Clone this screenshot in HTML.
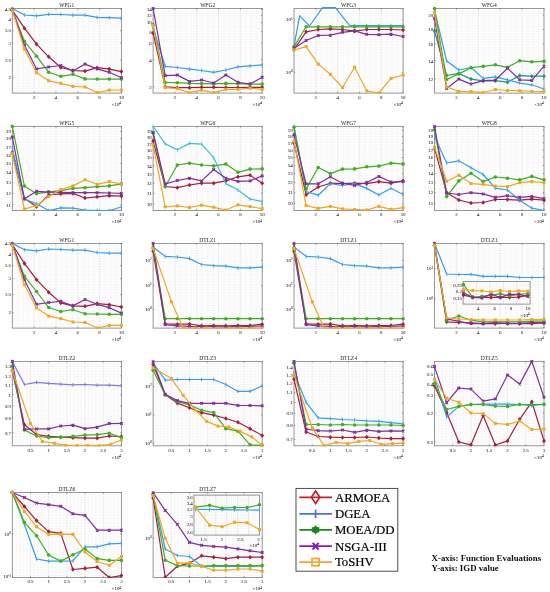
<!DOCTYPE html>
<html><head><meta charset="utf-8"><title>IGD convergence curves</title>
<style>
html,body{margin:0;padding:0;background:#fff;}
body{width:550px;height:592px;overflow:hidden;}
svg{display:block;}
.t{font-family:"Liberation Serif","Times New Roman",serif;font-size:4.9px;fill:#2a2a2a;stroke:#2a2a2a;stroke-width:0.04px;}
.sup{font-size:3.5px;}
.ti{font-family:"Liberation Serif","Times New Roman",serif;font-size:5.5px;fill:#222;}
.lg{font-family:"Liberation Serif","Times New Roman",serif;font-size:12.8px;fill:#000;stroke:#000;stroke-width:0.2px;}
.ax{font-family:"Liberation Serif","Times New Roman",serif;font-size:8.8px;font-weight:bold;fill:#111;}
</style></head>
<body><svg width="550" height="592" viewBox="0 0 550 592">
<defs><clipPath id="c1"><rect x="9.8" y="6" width="114.1" height="87.7"/></clipPath><clipPath id="c2"><rect x="150.6" y="6" width="114.1" height="87.7"/></clipPath><clipPath id="c3"><rect x="291.5" y="6" width="114.1" height="87.7"/></clipPath><clipPath id="c4"><rect x="432" y="6" width="114.5" height="87.7"/></clipPath><clipPath id="c5"><rect x="9.8" y="123.9" width="114.1" height="87.2"/></clipPath><clipPath id="c6"><rect x="150.6" y="123.9" width="114.1" height="87.2"/></clipPath><clipPath id="c7"><rect x="291.5" y="123.9" width="114.1" height="87.2"/></clipPath><clipPath id="c8"><rect x="432" y="123.9" width="114.5" height="87.2"/></clipPath><clipPath id="c9"><rect x="9.8" y="240.9" width="114.1" height="87.8"/></clipPath><clipPath id="c10"><rect x="150.6" y="240.9" width="114.1" height="87.8"/></clipPath><clipPath id="c11"><rect x="291.5" y="240.9" width="114.1" height="87.8"/></clipPath><clipPath id="c12"><rect x="432" y="240.9" width="114.5" height="87.8"/></clipPath><clipPath id="c13"><rect x="9.8" y="358.9" width="114.1" height="87.5"/></clipPath><clipPath id="c14"><rect x="150.6" y="358.9" width="114.1" height="87.5"/></clipPath><clipPath id="c15"><rect x="291.5" y="358.9" width="114.1" height="87.5"/></clipPath><clipPath id="c16"><rect x="432" y="358.9" width="114.5" height="87.5"/></clipPath><clipPath id="c17"><rect x="9.8" y="490" width="114.1" height="88.1"/></clipPath><clipPath id="c18"><rect x="150.6" y="490" width="114.1" height="88.1"/></clipPath><clipPath id="ci1"><rect x="461.1" y="279.6" width="71" height="26.5"/></clipPath><clipPath id="ci7"><rect x="192" y="493.1" width="69.5" height="44"/></clipPath></defs>
<rect width="550" height="592" fill="#fff"/>
<path d="M12.3 10.8H121.4M12.3 13.4H121.4M12.3 16H121.4M12.3 18.6H121.4M12.3 21.2H121.4M12.3 23.8H121.4M12.3 26.4H121.4M12.3 29H121.4M12.3 31.6H121.4M12.3 34.2H121.4M12.3 36.8H121.4M12.3 39.4H121.4M12.3 42H121.4M12.3 44.6H121.4M12.3 47.2H121.4M12.3 49.8H121.4M12.3 52.4H121.4M12.3 55H121.4M12.3 57.6H121.4M12.3 60.2H121.4M12.3 62.8H121.4M12.3 65.4H121.4M12.3 68H121.4M12.3 70.6H121.4M12.3 73.2H121.4M12.3 75.8H121.4M12.3 78.4H121.4M12.3 81H121.4M12.3 83.6H121.4M12.3 86.2H121.4M12.3 88.8H121.4M12.3 91.4H121.4" stroke="#f4f4f4" stroke-width="0.6"/><path d="M17.76 8.5V93.1M23.21 8.5V93.1M28.67 8.5V93.1M34.12 8.5V93.1M39.58 8.5V93.1M45.03 8.5V93.1M50.48 8.5V93.1M55.94 8.5V93.1M61.4 8.5V93.1M66.85 8.5V93.1M72.31 8.5V93.1M77.76 8.5V93.1M83.22 8.5V93.1M88.67 8.5V93.1M94.13 8.5V93.1M99.58 8.5V93.1M105.03 8.5V93.1M110.49 8.5V93.1M115.95 8.5V93.1" stroke="#f3f3f3" stroke-width="0.6"/><path d="M34.12 8.5V93.1M55.94 8.5V93.1M77.76 8.5V93.1M99.58 8.5V93.1" stroke="#dedede" stroke-width="0.6" stroke-dasharray="1 0.6"/><rect x="12.3" y="8.5" width="109.1" height="84.6" fill="none" stroke="#858585" stroke-width="0.85"/><path d="M34.12 93.1v-1.2M34.12 8.5v1.2M55.94 93.1v-1.2M55.94 8.5v1.2M77.76 93.1v-1.2M77.76 8.5v1.2M99.58 93.1v-1.2M99.58 8.5v1.2M121.4 93.1v-1.2M121.4 8.5v1.2M12.3 8.9h1.2M121.4 8.9h-1.2M12.3 19h1.2M121.4 19h-1.2M12.3 30.7h1.2M121.4 30.7h-1.2M12.3 43.2h1.2M121.4 43.2h-1.2M12.3 59.8h1.2M121.4 59.8h-1.2M12.3 77.3h1.2M121.4 77.3h-1.2" stroke="#555" stroke-width="0.6"/><g clip-path="url(#c1)"><polyline points="12.3,10.2 24.42,28.2 36.54,44.1 48.67,56.8 60.79,67.5 72.91,70.5 85.03,71.1 97.16,67.7 109.28,69.1 121.4,71.6" fill="none" stroke="#a61c3c" stroke-width="1.2" stroke-linejoin="round"/><path d="M12.3 7.9L14.2 10.2L12.3 12.5L10.4 10.2Z" fill="#a61c3c"/><path d="M24.42 25.9L26.32 28.2L24.42 30.5L22.52 28.2Z" fill="#a61c3c"/><path d="M36.54 41.8L38.44 44.1L36.54 46.4L34.64 44.1Z" fill="#a61c3c"/><path d="M48.67 54.5L50.57 56.8L48.67 59.1L46.77 56.8Z" fill="#a61c3c"/><path d="M60.79 65.2L62.69 67.5L60.79 69.8L58.89 67.5Z" fill="#a61c3c"/><path d="M72.91 68.2L74.81 70.5L72.91 72.8L71.01 70.5Z" fill="#a61c3c"/><path d="M85.03 68.8L86.93 71.1L85.03 73.4L83.13 71.1Z" fill="#a61c3c"/><path d="M97.16 65.4L99.06 67.7L97.16 70L95.26 67.7Z" fill="#a61c3c"/><path d="M109.28 66.8L111.18 69.1L109.28 71.4L107.38 69.1Z" fill="#a61c3c"/><path d="M121.4 69.3L123.3 71.6L121.4 73.9L119.5 71.6Z" fill="#a61c3c"/></g><g clip-path="url(#c1)"><polyline points="12.3,8.5 24.42,15 36.54,15.9 48.67,14.3 60.79,14.5 72.91,15.2 85.03,15.2 97.16,17.3 109.28,17.7 121.4,18.1" fill="none" stroke="#2f9ef0" stroke-width="1.2" stroke-linejoin="round"/><path d="M12.3 6.7V10.3" stroke="#2f9ef0" stroke-width="0.9"/><path d="M24.42 13.2V16.8" stroke="#2f9ef0" stroke-width="0.9"/><path d="M36.54 14.1V17.7" stroke="#2f9ef0" stroke-width="0.9"/><path d="M48.67 12.5V16.1" stroke="#2f9ef0" stroke-width="0.9"/><path d="M60.79 12.7V16.3" stroke="#2f9ef0" stroke-width="0.9"/><path d="M72.91 13.4V17" stroke="#2f9ef0" stroke-width="0.9"/><path d="M85.03 13.4V17" stroke="#2f9ef0" stroke-width="0.9"/><path d="M97.16 15.5V19.1" stroke="#2f9ef0" stroke-width="0.9"/><path d="M109.28 15.9V19.5" stroke="#2f9ef0" stroke-width="0.9"/><path d="M121.4 16.3V19.9" stroke="#2f9ef0" stroke-width="0.9"/></g><g clip-path="url(#c1)"><polyline points="12.3,10.2 24.42,41.3 36.54,56.2 48.67,72.2 60.79,76.3 72.91,74.3 85.03,78.9 97.16,79.1 109.28,79.1 121.4,79.1" fill="none" stroke="#3cb01e" stroke-width="1.2" stroke-linejoin="round"/><circle cx="12.3" cy="10.2" r="1.8" fill="#3cb01e"/><circle cx="24.42" cy="41.3" r="1.8" fill="#3cb01e"/><circle cx="36.54" cy="56.2" r="1.8" fill="#3cb01e"/><circle cx="48.67" cy="72.2" r="1.8" fill="#3cb01e"/><circle cx="60.79" cy="76.3" r="1.8" fill="#3cb01e"/><circle cx="72.91" cy="74.3" r="1.8" fill="#3cb01e"/><circle cx="85.03" cy="78.9" r="1.8" fill="#3cb01e"/><circle cx="97.16" cy="79.1" r="1.8" fill="#3cb01e"/><circle cx="109.28" cy="79.1" r="1.8" fill="#3cb01e"/><circle cx="121.4" cy="79.1" r="1.8" fill="#3cb01e"/></g><g clip-path="url(#c1)"><polyline points="12.3,9.1 24.42,45 36.54,68.9 48.67,67 60.79,65.5 72.91,70.9 85.03,64.1 97.16,68.9 109.28,72.3 121.4,77.7" fill="none" stroke="#7f2d9f" stroke-width="1.2" stroke-linejoin="round"/><path d="M11 7.8L13.6 10.4M11 10.4L13.6 7.8" stroke="#7f2d9f" stroke-width="1.3"/><path d="M23.12 43.7L25.72 46.3M23.12 46.3L25.72 43.7" stroke="#7f2d9f" stroke-width="1.3"/><path d="M35.24 67.6L37.84 70.2M35.24 70.2L37.84 67.6" stroke="#7f2d9f" stroke-width="1.3"/><path d="M47.37 65.7L49.97 68.3M47.37 68.3L49.97 65.7" stroke="#7f2d9f" stroke-width="1.3"/><path d="M59.49 64.2L62.09 66.8M59.49 66.8L62.09 64.2" stroke="#7f2d9f" stroke-width="1.3"/><path d="M71.61 69.6L74.21 72.2M71.61 72.2L74.21 69.6" stroke="#7f2d9f" stroke-width="1.3"/><path d="M83.73 62.8L86.33 65.4M83.73 65.4L86.33 62.8" stroke="#7f2d9f" stroke-width="1.3"/><path d="M95.86 67.6L98.46 70.2M95.86 70.2L98.46 67.6" stroke="#7f2d9f" stroke-width="1.3"/><path d="M107.98 71L110.58 73.6M107.98 73.6L110.58 71" stroke="#7f2d9f" stroke-width="1.3"/><path d="M120.1 76.4L122.7 79M120.1 79L122.7 76.4" stroke="#7f2d9f" stroke-width="1.3"/></g><g clip-path="url(#c1)"><polyline points="12.3,10.2 24.42,48.9 36.54,72.7 48.67,80.8 60.79,83.3 72.91,86.4 85.03,87 97.16,92.5 109.28,90.1 121.4,90" fill="none" stroke="#f1a71c" stroke-width="1.2" stroke-linejoin="round"/><rect x="10.8" y="8.7" width="3" height="3" fill="#f1a71c"/><rect x="22.92" y="47.4" width="3" height="3" fill="#f1a71c"/><rect x="35.04" y="71.2" width="3" height="3" fill="#f1a71c"/><rect x="47.17" y="79.3" width="3" height="3" fill="#f1a71c"/><rect x="59.29" y="81.8" width="3" height="3" fill="#f1a71c"/><rect x="71.41" y="84.9" width="3" height="3" fill="#f1a71c"/><rect x="83.53" y="85.5" width="3" height="3" fill="#f1a71c"/><rect x="95.66" y="91" width="3" height="3" fill="#f1a71c"/><rect x="107.78" y="88.6" width="3" height="3" fill="#f1a71c"/><rect x="119.9" y="88.5" width="3" height="3" fill="#f1a71c"/></g><text x="66.85" y="7.4" class="ti" text-anchor="middle">WFG1</text><text x="11" y="10.6" class="t" text-anchor="end">4.5</text><text x="11" y="20.7" class="t" text-anchor="end">4</text><text x="11" y="32.4" class="t" text-anchor="end">3.5</text><text x="11" y="44.9" class="t" text-anchor="end">3</text><text x="11" y="61.5" class="t" text-anchor="end">2.5</text><text x="11" y="79" class="t" text-anchor="end">2</text><text x="34.12" y="99" class="t" text-anchor="middle">2</text><text x="55.94" y="99" class="t" text-anchor="middle">4</text><text x="77.76" y="99" class="t" text-anchor="middle">6</text><text x="99.58" y="99" class="t" text-anchor="middle">8</text><text x="121.4" y="99" class="t" text-anchor="middle">10</text><text x="121.1" y="105.9" class="t" text-anchor="end">×10<tspan class="sup" dy="-1.8">4</tspan></text><path d="M153.1 10.8H262.2M153.1 13.4H262.2M153.1 16H262.2M153.1 18.6H262.2M153.1 21.2H262.2M153.1 23.8H262.2M153.1 26.4H262.2M153.1 29H262.2M153.1 31.6H262.2M153.1 34.2H262.2M153.1 36.8H262.2M153.1 39.4H262.2M153.1 42H262.2M153.1 44.6H262.2M153.1 47.2H262.2M153.1 49.8H262.2M153.1 52.4H262.2M153.1 55H262.2M153.1 57.6H262.2M153.1 60.2H262.2M153.1 62.8H262.2M153.1 65.4H262.2M153.1 68H262.2M153.1 70.6H262.2M153.1 73.2H262.2M153.1 75.8H262.2M153.1 78.4H262.2M153.1 81H262.2M153.1 83.6H262.2M153.1 86.2H262.2M153.1 88.8H262.2M153.1 91.4H262.2" stroke="#f4f4f4" stroke-width="0.6"/><path d="M158.56 8.5V93.1M164.01 8.5V93.1M169.47 8.5V93.1M174.92 8.5V93.1M180.38 8.5V93.1M185.83 8.5V93.1M191.28 8.5V93.1M196.74 8.5V93.1M202.19 8.5V93.1M207.65 8.5V93.1M213.1 8.5V93.1M218.56 8.5V93.1M224.01 8.5V93.1M229.47 8.5V93.1M234.93 8.5V93.1M240.38 8.5V93.1M245.83 8.5V93.1M251.29 8.5V93.1M256.75 8.5V93.1" stroke="#f3f3f3" stroke-width="0.6"/><path d="M174.92 8.5V93.1M196.74 8.5V93.1M218.56 8.5V93.1M240.38 8.5V93.1" stroke="#dedede" stroke-width="0.6" stroke-dasharray="1 0.6"/><rect x="153.1" y="8.5" width="109.1" height="84.6" fill="none" stroke="#858585" stroke-width="0.85"/><path d="M174.92 93.1v-1.2M174.92 8.5v1.2M196.74 93.1v-1.2M196.74 8.5v1.2M218.56 93.1v-1.2M218.56 8.5v1.2M240.38 93.1v-1.2M240.38 8.5v1.2M262.2 93.1v-1.2M262.2 8.5v1.2M153.1 9.1h1.2M262.2 9.1h-1.2M153.1 15.5h1.2M262.2 15.5h-1.2M153.1 22.7h1.2M262.2 22.7h-1.2M153.1 31.8h1.2M262.2 31.8h-1.2M153.1 43.2h1.2M262.2 43.2h-1.2M153.1 59.8h1.2M262.2 59.8h-1.2M153.1 87h1.2M262.2 87h-1.2" stroke="#555" stroke-width="0.6"/><g clip-path="url(#c2)"><polyline points="153.1,32.9 165.22,86.8 177.34,87.7 189.47,87.7 201.59,87.3 213.71,87.3 225.83,87.5 237.96,87.5 250.08,87.3 262.2,87.3" fill="none" stroke="#a61c3c" stroke-width="1.2" stroke-linejoin="round"/><path d="M153.1 30.6L155 32.9L153.1 35.2L151.2 32.9Z" fill="#a61c3c"/><path d="M165.22 84.5L167.12 86.8L165.22 89.1L163.32 86.8Z" fill="#a61c3c"/><path d="M177.34 85.4L179.24 87.7L177.34 90L175.44 87.7Z" fill="#a61c3c"/><path d="M189.47 85.4L191.37 87.7L189.47 90L187.57 87.7Z" fill="#a61c3c"/><path d="M201.59 85L203.49 87.3L201.59 89.6L199.69 87.3Z" fill="#a61c3c"/><path d="M213.71 85L215.61 87.3L213.71 89.6L211.81 87.3Z" fill="#a61c3c"/><path d="M225.83 85.2L227.73 87.5L225.83 89.8L223.93 87.5Z" fill="#a61c3c"/><path d="M237.96 85.2L239.86 87.5L237.96 89.8L236.06 87.5Z" fill="#a61c3c"/><path d="M250.08 85L251.98 87.3L250.08 89.6L248.18 87.3Z" fill="#a61c3c"/><path d="M262.2 85L264.1 87.3L262.2 89.6L260.3 87.3Z" fill="#a61c3c"/></g><g clip-path="url(#c2)"><polyline points="153.1,28 165.22,66.4 177.34,67.5 189.47,69.1 201.59,70.5 213.71,72.3 225.83,70 237.96,66.8 250.08,65.9 262.2,64.8" fill="none" stroke="#2f9ef0" stroke-width="1.2" stroke-linejoin="round"/><path d="M153.1 26.2V29.8" stroke="#2f9ef0" stroke-width="0.9"/><path d="M165.22 64.6V68.2" stroke="#2f9ef0" stroke-width="0.9"/><path d="M177.34 65.7V69.3" stroke="#2f9ef0" stroke-width="0.9"/><path d="M189.47 67.3V70.9" stroke="#2f9ef0" stroke-width="0.9"/><path d="M201.59 68.7V72.3" stroke="#2f9ef0" stroke-width="0.9"/><path d="M213.71 70.5V74.1" stroke="#2f9ef0" stroke-width="0.9"/><path d="M225.83 68.2V71.8" stroke="#2f9ef0" stroke-width="0.9"/><path d="M237.96 65V68.6" stroke="#2f9ef0" stroke-width="0.9"/><path d="M250.08 64.1V67.7" stroke="#2f9ef0" stroke-width="0.9"/><path d="M262.2 63V66.6" stroke="#2f9ef0" stroke-width="0.9"/></g><g clip-path="url(#c2)"><polyline points="153.1,24.9 165.22,82.5 177.34,82.7 189.47,83.4 201.59,83.6 213.71,83.9 225.83,83.4 237.96,83.6 250.08,84.1 262.2,84.1" fill="none" stroke="#3cb01e" stroke-width="1.2" stroke-linejoin="round"/><circle cx="153.1" cy="24.9" r="1.8" fill="#3cb01e"/><circle cx="165.22" cy="82.5" r="1.8" fill="#3cb01e"/><circle cx="177.34" cy="82.7" r="1.8" fill="#3cb01e"/><circle cx="189.47" cy="83.4" r="1.8" fill="#3cb01e"/><circle cx="201.59" cy="83.6" r="1.8" fill="#3cb01e"/><circle cx="213.71" cy="83.9" r="1.8" fill="#3cb01e"/><circle cx="225.83" cy="83.4" r="1.8" fill="#3cb01e"/><circle cx="237.96" cy="83.6" r="1.8" fill="#3cb01e"/><circle cx="250.08" cy="84.1" r="1.8" fill="#3cb01e"/><circle cx="262.2" cy="84.1" r="1.8" fill="#3cb01e"/></g><g clip-path="url(#c2)"><polyline points="153.1,8.5 165.22,75.7 177.34,75.1 189.47,81.4 201.59,80 213.71,83 225.83,75 237.96,82.3 250.08,84.1 262.2,77.3" fill="none" stroke="#7f2d9f" stroke-width="1.2" stroke-linejoin="round"/><path d="M151.8 7.2L154.4 9.8M151.8 9.8L154.4 7.2" stroke="#7f2d9f" stroke-width="1.3"/><path d="M163.92 74.4L166.52 77M163.92 77L166.52 74.4" stroke="#7f2d9f" stroke-width="1.3"/><path d="M176.04 73.8L178.64 76.4M176.04 76.4L178.64 73.8" stroke="#7f2d9f" stroke-width="1.3"/><path d="M188.17 80.1L190.77 82.7M188.17 82.7L190.77 80.1" stroke="#7f2d9f" stroke-width="1.3"/><path d="M200.29 78.7L202.89 81.3M200.29 81.3L202.89 78.7" stroke="#7f2d9f" stroke-width="1.3"/><path d="M212.41 81.7L215.01 84.3M212.41 84.3L215.01 81.7" stroke="#7f2d9f" stroke-width="1.3"/><path d="M224.53 73.7L227.13 76.3M224.53 76.3L227.13 73.7" stroke="#7f2d9f" stroke-width="1.3"/><path d="M236.66 81L239.26 83.6M236.66 83.6L239.26 81" stroke="#7f2d9f" stroke-width="1.3"/><path d="M248.78 82.8L251.38 85.4M248.78 85.4L251.38 82.8" stroke="#7f2d9f" stroke-width="1.3"/><path d="M260.9 76L263.5 78.6M260.9 78.6L263.5 76" stroke="#7f2d9f" stroke-width="1.3"/></g><g clip-path="url(#c2)"><polyline points="153.1,25.5 165.22,87.7 177.34,88.6 189.47,92.7 201.59,90.2 213.71,92.7 225.83,89.3 237.96,89.3 250.08,88.2 262.2,89.3" fill="none" stroke="#f1a71c" stroke-width="1.2" stroke-linejoin="round"/><rect x="151.6" y="24" width="3" height="3" fill="#f1a71c"/><rect x="163.72" y="86.2" width="3" height="3" fill="#f1a71c"/><rect x="175.84" y="87.1" width="3" height="3" fill="#f1a71c"/><rect x="187.97" y="91.2" width="3" height="3" fill="#f1a71c"/><rect x="200.09" y="88.7" width="3" height="3" fill="#f1a71c"/><rect x="212.21" y="91.2" width="3" height="3" fill="#f1a71c"/><rect x="224.33" y="87.8" width="3" height="3" fill="#f1a71c"/><rect x="236.46" y="87.8" width="3" height="3" fill="#f1a71c"/><rect x="248.58" y="86.7" width="3" height="3" fill="#f1a71c"/><rect x="260.7" y="87.8" width="3" height="3" fill="#f1a71c"/></g><text x="207.65" y="7.4" class="ti" text-anchor="middle">WFG2</text><text x="151.8" y="10.8" class="t" text-anchor="end">14</text><text x="151.8" y="17.2" class="t" text-anchor="end">12</text><text x="151.8" y="24.4" class="t" text-anchor="end">10</text><text x="151.8" y="33.5" class="t" text-anchor="end">8</text><text x="151.8" y="44.9" class="t" text-anchor="end">6</text><text x="151.8" y="61.5" class="t" text-anchor="end">4</text><text x="151.8" y="88.7" class="t" text-anchor="end">2</text><text x="174.92" y="99" class="t" text-anchor="middle">2</text><text x="196.74" y="99" class="t" text-anchor="middle">4</text><text x="218.56" y="99" class="t" text-anchor="middle">6</text><text x="240.38" y="99" class="t" text-anchor="middle">8</text><text x="262.2" y="99" class="t" text-anchor="middle">10</text><text x="261.9" y="105.9" class="t" text-anchor="end">×10<tspan class="sup" dy="-1.8">4</tspan></text><path d="M294 10.8H403.1M294 13.4H403.1M294 16H403.1M294 18.6H403.1M294 21.2H403.1M294 23.8H403.1M294 26.4H403.1M294 29H403.1M294 31.6H403.1M294 34.2H403.1M294 36.8H403.1M294 39.4H403.1M294 42H403.1M294 44.6H403.1M294 47.2H403.1M294 49.8H403.1M294 52.4H403.1M294 55H403.1M294 57.6H403.1M294 60.2H403.1M294 62.8H403.1M294 65.4H403.1M294 68H403.1M294 70.6H403.1M294 73.2H403.1M294 75.8H403.1M294 78.4H403.1M294 81H403.1M294 83.6H403.1M294 86.2H403.1M294 88.8H403.1M294 91.4H403.1" stroke="#f4f4f4" stroke-width="0.6"/><path d="M299.45 8.5V93.1M304.91 8.5V93.1M310.37 8.5V93.1M315.82 8.5V93.1M321.27 8.5V93.1M326.73 8.5V93.1M332.19 8.5V93.1M337.64 8.5V93.1M343.1 8.5V93.1M348.55 8.5V93.1M354 8.5V93.1M359.46 8.5V93.1M364.92 8.5V93.1M370.37 8.5V93.1M375.83 8.5V93.1M381.28 8.5V93.1M386.74 8.5V93.1M392.19 8.5V93.1M397.65 8.5V93.1" stroke="#f3f3f3" stroke-width="0.6"/><path d="M315.82 8.5V93.1M337.64 8.5V93.1M359.46 8.5V93.1M381.28 8.5V93.1" stroke="#dedede" stroke-width="0.6" stroke-dasharray="1 0.6"/><rect x="294" y="8.5" width="109.1" height="84.6" fill="none" stroke="#858585" stroke-width="0.85"/><path d="M315.82 93.1v-1.2M315.82 8.5v1.2M337.64 93.1v-1.2M337.64 8.5v1.2M359.46 93.1v-1.2M359.46 8.5v1.2M381.28 93.1v-1.2M381.28 8.5v1.2M403.1 93.1v-1.2M403.1 8.5v1.2M294 20h1.2M403.1 20h-1.2M294 72.3h1.2M403.1 72.3h-1.2" stroke="#555" stroke-width="0.6"/><g clip-path="url(#c3)"><polyline points="294,49.5 306.12,31.8 318.24,29.5 330.37,28.9 342.49,29.5 354.61,31.1 366.73,29.5 378.86,29.5 390.98,29.5 403.1,30" fill="none" stroke="#a61c3c" stroke-width="1.2" stroke-linejoin="round"/><path d="M294 47.2L295.9 49.5L294 51.8L292.1 49.5Z" fill="#a61c3c"/><path d="M306.12 29.5L308.02 31.8L306.12 34.1L304.22 31.8Z" fill="#a61c3c"/><path d="M318.24 27.2L320.14 29.5L318.24 31.8L316.34 29.5Z" fill="#a61c3c"/><path d="M330.37 26.6L332.27 28.9L330.37 31.2L328.47 28.9Z" fill="#a61c3c"/><path d="M342.49 27.2L344.39 29.5L342.49 31.8L340.59 29.5Z" fill="#a61c3c"/><path d="M354.61 28.8L356.51 31.1L354.61 33.4L352.71 31.1Z" fill="#a61c3c"/><path d="M366.73 27.2L368.63 29.5L366.73 31.8L364.83 29.5Z" fill="#a61c3c"/><path d="M378.86 27.2L380.76 29.5L378.86 31.8L376.96 29.5Z" fill="#a61c3c"/><path d="M390.98 27.2L392.88 29.5L390.98 31.8L389.08 29.5Z" fill="#a61c3c"/><path d="M403.1 27.7L405 30L403.1 32.3L401.2 30Z" fill="#a61c3c"/></g><g clip-path="url(#c3)"><polyline points="294,46.6 299.6,15.6 309.5,26 322.6,7.6 335.4,7.6 349.5,25.4 354.6,25.6 366.7,25.6 378.9,25.6 391,25.6 403.1,25.6" fill="none" stroke="#2f9ef0" stroke-width="1.2" stroke-linejoin="round"/><path d="M294 44.8V48.4" stroke="#2f9ef0" stroke-width="0.9"/><path d="M354.6 23.8V27.4" stroke="#2f9ef0" stroke-width="0.9"/><path d="M366.7 23.8V27.4" stroke="#2f9ef0" stroke-width="0.9"/><path d="M378.9 23.8V27.4" stroke="#2f9ef0" stroke-width="0.9"/><path d="M391 23.8V27.4" stroke="#2f9ef0" stroke-width="0.9"/><path d="M403.1 23.8V27.4" stroke="#2f9ef0" stroke-width="0.9"/></g><g clip-path="url(#c3)"><polyline points="294,46.6 306.12,26.8 318.24,26.8 330.37,26.8 342.49,26.8 354.61,26.8 366.73,26.8 378.86,26.8 390.98,26.8 403.1,26.8" fill="none" stroke="#3cb01e" stroke-width="1.2" stroke-linejoin="round"/><circle cx="294" cy="46.6" r="1.8" fill="#3cb01e"/><circle cx="306.12" cy="26.8" r="1.8" fill="#3cb01e"/><circle cx="318.24" cy="26.8" r="1.8" fill="#3cb01e"/><circle cx="330.37" cy="26.8" r="1.8" fill="#3cb01e"/><circle cx="342.49" cy="26.8" r="1.8" fill="#3cb01e"/><circle cx="354.61" cy="26.8" r="1.8" fill="#3cb01e"/><circle cx="366.73" cy="26.8" r="1.8" fill="#3cb01e"/><circle cx="378.86" cy="26.8" r="1.8" fill="#3cb01e"/><circle cx="390.98" cy="26.8" r="1.8" fill="#3cb01e"/><circle cx="403.1" cy="26.8" r="1.8" fill="#3cb01e"/></g><g clip-path="url(#c3)"><polyline points="294,48.2 306.12,40.5 318.24,35.5 330.37,35.2 342.49,32.3 354.61,30.9 366.73,34.3 378.86,34.7 390.98,34.2 403.1,36.5" fill="none" stroke="#7f2d9f" stroke-width="1.2" stroke-linejoin="round"/><path d="M292.7 46.9L295.3 49.5M292.7 49.5L295.3 46.9" stroke="#7f2d9f" stroke-width="1.3"/><path d="M304.82 39.2L307.42 41.8M304.82 41.8L307.42 39.2" stroke="#7f2d9f" stroke-width="1.3"/><path d="M316.94 34.2L319.54 36.8M316.94 36.8L319.54 34.2" stroke="#7f2d9f" stroke-width="1.3"/><path d="M329.07 33.9L331.67 36.5M329.07 36.5L331.67 33.9" stroke="#7f2d9f" stroke-width="1.3"/><path d="M341.19 31L343.79 33.6M341.19 33.6L343.79 31" stroke="#7f2d9f" stroke-width="1.3"/><path d="M353.31 29.6L355.91 32.2M353.31 32.2L355.91 29.6" stroke="#7f2d9f" stroke-width="1.3"/><path d="M365.43 33L368.03 35.6M365.43 35.6L368.03 33" stroke="#7f2d9f" stroke-width="1.3"/><path d="M377.56 33.4L380.16 36M377.56 36L380.16 33.4" stroke="#7f2d9f" stroke-width="1.3"/><path d="M389.68 32.9L392.28 35.5M389.68 35.5L392.28 32.9" stroke="#7f2d9f" stroke-width="1.3"/><path d="M401.8 35.2L404.4 37.8M401.8 37.8L404.4 35.2" stroke="#7f2d9f" stroke-width="1.3"/></g><g clip-path="url(#c3)"><polyline points="294,50 306.12,46.6 318.24,64.1 330.37,74.3 342.49,87.5 354.61,67.3 366.73,90.9 378.86,93 390.98,78.4 403.1,75" fill="none" stroke="#f1a71c" stroke-width="1.2" stroke-linejoin="round"/><rect x="292.5" y="48.5" width="3" height="3" fill="#f1a71c"/><rect x="304.62" y="45.1" width="3" height="3" fill="#f1a71c"/><rect x="316.74" y="62.6" width="3" height="3" fill="#f1a71c"/><rect x="328.87" y="72.8" width="3" height="3" fill="#f1a71c"/><rect x="340.99" y="86" width="3" height="3" fill="#f1a71c"/><rect x="353.11" y="65.8" width="3" height="3" fill="#f1a71c"/><rect x="365.23" y="89.4" width="3" height="3" fill="#f1a71c"/><rect x="377.36" y="91.5" width="3" height="3" fill="#f1a71c"/><rect x="389.48" y="76.9" width="3" height="3" fill="#f1a71c"/><rect x="401.6" y="73.5" width="3" height="3" fill="#f1a71c"/></g><text x="348.55" y="7.4" class="ti" text-anchor="middle">WFG3</text><text x="292.7" y="21.4" class="t" text-anchor="end">10<tspan class="sup" dy="-1.6">1</tspan></text><text x="292.7" y="73.7" class="t" text-anchor="end">10<tspan class="sup" dy="-1.6">0</tspan></text><text x="315.82" y="99" class="t" text-anchor="middle">2</text><text x="337.64" y="99" class="t" text-anchor="middle">4</text><text x="359.46" y="99" class="t" text-anchor="middle">6</text><text x="381.28" y="99" class="t" text-anchor="middle">8</text><text x="403.1" y="99" class="t" text-anchor="middle">10</text><text x="402.8" y="105.9" class="t" text-anchor="end">×10<tspan class="sup" dy="-1.8">4</tspan></text><path d="M434.5 10.8H544M434.5 13.4H544M434.5 16H544M434.5 18.6H544M434.5 21.2H544M434.5 23.8H544M434.5 26.4H544M434.5 29H544M434.5 31.6H544M434.5 34.2H544M434.5 36.8H544M434.5 39.4H544M434.5 42H544M434.5 44.6H544M434.5 47.2H544M434.5 49.8H544M434.5 52.4H544M434.5 55H544M434.5 57.6H544M434.5 60.2H544M434.5 62.8H544M434.5 65.4H544M434.5 68H544M434.5 70.6H544M434.5 73.2H544M434.5 75.8H544M434.5 78.4H544M434.5 81H544M434.5 83.6H544M434.5 86.2H544M434.5 88.8H544M434.5 91.4H544" stroke="#f4f4f4" stroke-width="0.6"/><path d="M439.98 8.5V93.1M445.45 8.5V93.1M450.93 8.5V93.1M456.4 8.5V93.1M461.88 8.5V93.1M467.35 8.5V93.1M472.82 8.5V93.1M478.3 8.5V93.1M483.77 8.5V93.1M489.25 8.5V93.1M494.73 8.5V93.1M500.2 8.5V93.1M505.68 8.5V93.1M511.15 8.5V93.1M516.62 8.5V93.1M522.1 8.5V93.1M527.58 8.5V93.1M533.05 8.5V93.1M538.52 8.5V93.1" stroke="#f3f3f3" stroke-width="0.6"/><path d="M456.4 8.5V93.1M478.3 8.5V93.1M500.2 8.5V93.1M522.1 8.5V93.1" stroke="#dedede" stroke-width="0.6" stroke-dasharray="1 0.6"/><rect x="434.5" y="8.5" width="109.5" height="84.6" fill="none" stroke="#858585" stroke-width="0.85"/><path d="M456.4 93.1v-1.2M456.4 8.5v1.2M478.3 93.1v-1.2M478.3 8.5v1.2M500.2 93.1v-1.2M500.2 8.5v1.2M522.1 93.1v-1.2M522.1 8.5v1.2M544 93.1v-1.2M544 8.5v1.2M434.5 15h1.2M544 15h-1.2M434.5 29.5h1.2M544 29.5h-1.2M434.5 43.9h1.2M544 43.9h-1.2M434.5 60.9h1.2M544 60.9h-1.2M434.5 79.1h1.2M544 79.1h-1.2" stroke="#555" stroke-width="0.6"/><g clip-path="url(#c4)"><polyline points="434.5,31 446.67,75.5 458.83,73.4 471,79.1 483.17,80.9 495.33,80.7 507.5,82.2 519.67,75.6 531.83,76.2 544,76.2" fill="none" stroke="#209a70" stroke-width="1.2" stroke-linejoin="round"/><path d="M434.5 28.7L436.4 31L434.5 33.3L432.6 31Z" fill="#209a70"/><path d="M446.67 73.2L448.57 75.5L446.67 77.8L444.77 75.5Z" fill="#209a70"/><path d="M458.83 71.1L460.73 73.4L458.83 75.7L456.93 73.4Z" fill="#209a70"/><path d="M471 76.8L472.9 79.1L471 81.4L469.1 79.1Z" fill="#209a70"/><path d="M483.17 78.6L485.07 80.9L483.17 83.2L481.27 80.9Z" fill="#209a70"/><path d="M495.33 78.4L497.23 80.7L495.33 83L493.43 80.7Z" fill="#209a70"/><path d="M507.5 79.9L509.4 82.2L507.5 84.5L505.6 82.2Z" fill="#209a70"/><path d="M519.67 73.3L521.57 75.6L519.67 77.9L517.77 75.6Z" fill="#209a70"/><path d="M531.83 73.9L533.73 76.2L531.83 78.5L529.93 76.2Z" fill="#209a70"/><path d="M544 73.9L545.9 76.2L544 78.5L542.1 76.2Z" fill="#209a70"/></g><g clip-path="url(#c4)"><polyline points="434.5,10 446.67,60.9 458.83,70 471,67.5 483.17,78.4 495.33,76.8 507.5,79.8 519.67,83.2 531.83,84.8 544,89" fill="none" stroke="#2f9ef0" stroke-width="1.2" stroke-linejoin="round"/><path d="M434.5 8.2V11.8" stroke="#2f9ef0" stroke-width="0.9"/><path d="M446.67 59.1V62.7" stroke="#2f9ef0" stroke-width="0.9"/><path d="M458.83 68.2V71.8" stroke="#2f9ef0" stroke-width="0.9"/><path d="M471 65.7V69.3" stroke="#2f9ef0" stroke-width="0.9"/><path d="M483.17 76.6V80.2" stroke="#2f9ef0" stroke-width="0.9"/><path d="M495.33 75V78.6" stroke="#2f9ef0" stroke-width="0.9"/><path d="M507.5 78V81.6" stroke="#2f9ef0" stroke-width="0.9"/><path d="M519.67 81.4V85" stroke="#2f9ef0" stroke-width="0.9"/><path d="M531.83 83V86.6" stroke="#2f9ef0" stroke-width="0.9"/><path d="M544 87.2V90.8" stroke="#2f9ef0" stroke-width="0.9"/></g><g clip-path="url(#c4)"><polyline points="434.5,8.5 446.67,79.5 458.83,73.9 471,67.7 483.17,66.4 495.33,64.8 507.5,67.3 519.67,60.7 531.83,61.8 544,61.4" fill="none" stroke="#3cb01e" stroke-width="1.2" stroke-linejoin="round"/><circle cx="434.5" cy="8.5" r="1.8" fill="#3cb01e"/><circle cx="446.67" cy="79.5" r="1.8" fill="#3cb01e"/><circle cx="458.83" cy="73.9" r="1.8" fill="#3cb01e"/><circle cx="471" cy="67.7" r="1.8" fill="#3cb01e"/><circle cx="483.17" cy="66.4" r="1.8" fill="#3cb01e"/><circle cx="495.33" cy="64.8" r="1.8" fill="#3cb01e"/><circle cx="507.5" cy="67.3" r="1.8" fill="#3cb01e"/><circle cx="519.67" cy="60.7" r="1.8" fill="#3cb01e"/><circle cx="531.83" cy="61.8" r="1.8" fill="#3cb01e"/><circle cx="544" cy="61.4" r="1.8" fill="#3cb01e"/></g><g clip-path="url(#c4)"><polyline points="434.5,18.3 446.67,88.4 458.83,79.1 471,84.1 483.17,80.7 495.33,80.2 507.5,68.3 519.67,79.8 531.83,80.4 544,66.2" fill="none" stroke="#7f2d9f" stroke-width="1.2" stroke-linejoin="round"/><path d="M433.2 17L435.8 19.6M433.2 19.6L435.8 17" stroke="#7f2d9f" stroke-width="1.3"/><path d="M445.37 87.1L447.97 89.7M445.37 89.7L447.97 87.1" stroke="#7f2d9f" stroke-width="1.3"/><path d="M457.53 77.8L460.13 80.4M457.53 80.4L460.13 77.8" stroke="#7f2d9f" stroke-width="1.3"/><path d="M469.7 82.8L472.3 85.4M469.7 85.4L472.3 82.8" stroke="#7f2d9f" stroke-width="1.3"/><path d="M481.87 79.4L484.47 82M481.87 82L484.47 79.4" stroke="#7f2d9f" stroke-width="1.3"/><path d="M494.03 78.9L496.63 81.5M494.03 81.5L496.63 78.9" stroke="#7f2d9f" stroke-width="1.3"/><path d="M506.2 67L508.8 69.6M506.2 69.6L508.8 67" stroke="#7f2d9f" stroke-width="1.3"/><path d="M518.37 78.5L520.97 81.1M518.37 81.1L520.97 78.5" stroke="#7f2d9f" stroke-width="1.3"/><path d="M530.53 79.1L533.13 81.7M530.53 81.7L533.13 79.1" stroke="#7f2d9f" stroke-width="1.3"/><path d="M542.7 64.9L545.3 67.5M542.7 67.5L545.3 64.9" stroke="#7f2d9f" stroke-width="1.3"/></g><g clip-path="url(#c4)"><polyline points="434.5,12.5 446.67,87 458.83,91.4 471,91.6 483.17,92.5 495.33,89.5 507.5,90.5 519.67,90.7 531.83,91.5 544,91.6" fill="none" stroke="#f1a71c" stroke-width="1.2" stroke-linejoin="round"/><rect x="433" y="11" width="3" height="3" fill="#f1a71c"/><rect x="445.17" y="85.5" width="3" height="3" fill="#f1a71c"/><rect x="457.33" y="89.9" width="3" height="3" fill="#f1a71c"/><rect x="469.5" y="90.1" width="3" height="3" fill="#f1a71c"/><rect x="481.67" y="91" width="3" height="3" fill="#f1a71c"/><rect x="493.83" y="88" width="3" height="3" fill="#f1a71c"/><rect x="506" y="89" width="3" height="3" fill="#f1a71c"/><rect x="518.17" y="89.2" width="3" height="3" fill="#f1a71c"/><rect x="530.33" y="90" width="3" height="3" fill="#f1a71c"/><rect x="542.5" y="90.1" width="3" height="3" fill="#f1a71c"/></g><text x="489.25" y="7.4" class="ti" text-anchor="middle">WFG4</text><text x="433.2" y="16.7" class="t" text-anchor="end">20</text><text x="433.2" y="31.2" class="t" text-anchor="end">18</text><text x="433.2" y="45.6" class="t" text-anchor="end">16</text><text x="433.2" y="62.6" class="t" text-anchor="end">14</text><text x="433.2" y="80.8" class="t" text-anchor="end">12</text><text x="456.4" y="99" class="t" text-anchor="middle">2</text><text x="478.3" y="99" class="t" text-anchor="middle">4</text><text x="500.2" y="99" class="t" text-anchor="middle">6</text><text x="522.1" y="99" class="t" text-anchor="middle">8</text><text x="544" y="99" class="t" text-anchor="middle">10</text><text x="543.7" y="105.9" class="t" text-anchor="end">×10<tspan class="sup" dy="-1.8">4</tspan></text><path d="M12.3 128.7H121.4M12.3 131.3H121.4M12.3 133.9H121.4M12.3 136.5H121.4M12.3 139.1H121.4M12.3 141.7H121.4M12.3 144.3H121.4M12.3 146.9H121.4M12.3 149.5H121.4M12.3 152.1H121.4M12.3 154.7H121.4M12.3 157.3H121.4M12.3 159.9H121.4M12.3 162.5H121.4M12.3 165.1H121.4M12.3 167.7H121.4M12.3 170.3H121.4M12.3 172.9H121.4M12.3 175.5H121.4M12.3 178.1H121.4M12.3 180.7H121.4M12.3 183.3H121.4M12.3 185.9H121.4M12.3 188.5H121.4M12.3 191.1H121.4M12.3 193.7H121.4M12.3 196.3H121.4M12.3 198.9H121.4M12.3 201.5H121.4M12.3 204.1H121.4M12.3 206.7H121.4M12.3 209.3H121.4" stroke="#f4f4f4" stroke-width="0.6"/><path d="M17.76 126.4V210.5M23.21 126.4V210.5M28.67 126.4V210.5M34.12 126.4V210.5M39.58 126.4V210.5M45.03 126.4V210.5M50.48 126.4V210.5M55.94 126.4V210.5M61.4 126.4V210.5M66.85 126.4V210.5M72.31 126.4V210.5M77.76 126.4V210.5M83.22 126.4V210.5M88.67 126.4V210.5M94.13 126.4V210.5M99.58 126.4V210.5M105.03 126.4V210.5M110.49 126.4V210.5M115.95 126.4V210.5" stroke="#f3f3f3" stroke-width="0.6"/><path d="M34.12 126.4V210.5M55.94 126.4V210.5M77.76 126.4V210.5M99.58 126.4V210.5" stroke="#dedede" stroke-width="0.6" stroke-dasharray="1 0.6"/><rect x="12.3" y="126.4" width="109.1" height="84.1" fill="none" stroke="#858585" stroke-width="0.85"/><path d="M34.12 210.5v-1.2M34.12 126.4v1.2M55.94 210.5v-1.2M55.94 126.4v1.2M77.76 210.5v-1.2M77.76 126.4v1.2M99.58 210.5v-1.2M99.58 126.4v1.2M121.4 210.5v-1.2M121.4 126.4v1.2M12.3 131.4h1.2M121.4 131.4h-1.2M12.3 138.6h1.2M121.4 138.6h-1.2M12.3 146.8h1.2M121.4 146.8h-1.2M12.3 155h1.2M121.4 155h-1.2M12.3 163.4h1.2M121.4 163.4h-1.2M12.3 172.3h1.2M121.4 172.3h-1.2M12.3 182.7h1.2M121.4 182.7h-1.2M12.3 193.4h1.2M121.4 193.4h-1.2M12.3 204.8h1.2M121.4 204.8h-1.2" stroke="#555" stroke-width="0.6"/><g clip-path="url(#c5)"><polyline points="12.3,152.5 24.42,198.6 36.54,206.6 48.67,195 60.79,193.8 72.91,193.4 85.03,198 97.16,196.8 109.28,195.7 121.4,196.1" fill="none" stroke="#a61c3c" stroke-width="1.2" stroke-linejoin="round"/><path d="M12.3 150.2L14.2 152.5L12.3 154.8L10.4 152.5Z" fill="#a61c3c"/><path d="M24.42 196.3L26.32 198.6L24.42 200.9L22.52 198.6Z" fill="#a61c3c"/><path d="M36.54 204.3L38.44 206.6L36.54 208.9L34.64 206.6Z" fill="#a61c3c"/><path d="M48.67 192.7L50.57 195L48.67 197.3L46.77 195Z" fill="#a61c3c"/><path d="M60.79 191.5L62.69 193.8L60.79 196.1L58.89 193.8Z" fill="#a61c3c"/><path d="M72.91 191.1L74.81 193.4L72.91 195.7L71.01 193.4Z" fill="#a61c3c"/><path d="M85.03 195.7L86.93 198L85.03 200.3L83.13 198Z" fill="#a61c3c"/><path d="M97.16 194.5L99.06 196.8L97.16 199.1L95.26 196.8Z" fill="#a61c3c"/><path d="M109.28 193.4L111.18 195.7L109.28 198L107.38 195.7Z" fill="#a61c3c"/><path d="M121.4 193.8L123.3 196.1L121.4 198.4L119.5 196.1Z" fill="#a61c3c"/></g><g clip-path="url(#c5)"><polyline points="12.3,148 24.42,199.1 36.54,203.7 48.67,210.5 60.79,207.8 72.91,208.2 85.03,210 97.16,210.5 109.28,210.5 121.4,207" fill="none" stroke="#2f9ef0" stroke-width="1.2" stroke-linejoin="round"/><path d="M12.3 146.2V149.8" stroke="#2f9ef0" stroke-width="0.9"/><path d="M24.42 197.3V200.9" stroke="#2f9ef0" stroke-width="0.9"/><path d="M36.54 201.9V205.5" stroke="#2f9ef0" stroke-width="0.9"/><path d="M48.67 208.7V212.3" stroke="#2f9ef0" stroke-width="0.9"/><path d="M60.79 206V209.6" stroke="#2f9ef0" stroke-width="0.9"/><path d="M72.91 206.4V210" stroke="#2f9ef0" stroke-width="0.9"/><path d="M85.03 208.2V211.8" stroke="#2f9ef0" stroke-width="0.9"/><path d="M97.16 208.7V212.3" stroke="#2f9ef0" stroke-width="0.9"/><path d="M109.28 208.7V212.3" stroke="#2f9ef0" stroke-width="0.9"/><path d="M121.4 205.2V208.8" stroke="#2f9ef0" stroke-width="0.9"/></g><g clip-path="url(#c5)"><polyline points="12.3,126.4 24.42,186 36.54,193.7 48.67,191.9 60.79,190.6 72.91,188.4 85.03,187.7 97.16,186.6 109.28,185.9 121.4,183.9" fill="none" stroke="#3cb01e" stroke-width="1.2" stroke-linejoin="round"/><circle cx="12.3" cy="126.4" r="1.8" fill="#3cb01e"/><circle cx="24.42" cy="186" r="1.8" fill="#3cb01e"/><circle cx="36.54" cy="193.7" r="1.8" fill="#3cb01e"/><circle cx="48.67" cy="191.9" r="1.8" fill="#3cb01e"/><circle cx="60.79" cy="190.6" r="1.8" fill="#3cb01e"/><circle cx="72.91" cy="188.4" r="1.8" fill="#3cb01e"/><circle cx="85.03" cy="187.7" r="1.8" fill="#3cb01e"/><circle cx="97.16" cy="186.6" r="1.8" fill="#3cb01e"/><circle cx="109.28" cy="185.9" r="1.8" fill="#3cb01e"/><circle cx="121.4" cy="183.9" r="1.8" fill="#3cb01e"/></g><g clip-path="url(#c5)"><polyline points="12.3,137 24.42,198.8 36.54,191.3 48.67,192.1 60.79,192.4 72.91,192.7 85.03,192.7 97.16,192.7 109.28,193 121.4,193.4" fill="none" stroke="#7f2d9f" stroke-width="1.2" stroke-linejoin="round"/><path d="M11 135.7L13.6 138.3M11 138.3L13.6 135.7" stroke="#7f2d9f" stroke-width="1.3"/><path d="M23.12 197.5L25.72 200.1M23.12 200.1L25.72 197.5" stroke="#7f2d9f" stroke-width="1.3"/><path d="M35.24 190L37.84 192.6M35.24 192.6L37.84 190" stroke="#7f2d9f" stroke-width="1.3"/><path d="M47.37 190.8L49.97 193.4M47.37 193.4L49.97 190.8" stroke="#7f2d9f" stroke-width="1.3"/><path d="M59.49 191.1L62.09 193.7M59.49 193.7L62.09 191.1" stroke="#7f2d9f" stroke-width="1.3"/><path d="M71.61 191.4L74.21 194M71.61 194L74.21 191.4" stroke="#7f2d9f" stroke-width="1.3"/><path d="M83.73 191.4L86.33 194M83.73 194L86.33 191.4" stroke="#7f2d9f" stroke-width="1.3"/><path d="M95.86 191.4L98.46 194M95.86 194L98.46 191.4" stroke="#7f2d9f" stroke-width="1.3"/><path d="M107.98 191.7L110.58 194.3M107.98 194.3L110.58 191.7" stroke="#7f2d9f" stroke-width="1.3"/><path d="M120.1 192.1L122.7 194.7M120.1 194.7L122.7 192.1" stroke="#7f2d9f" stroke-width="1.3"/></g><g clip-path="url(#c5)"><polyline points="12.3,153.6 24.42,209.1 36.54,205.5 48.67,196.4 60.79,189.5 72.91,185.9 85.03,179.8 97.16,184.3 109.28,181.6 121.4,183.9" fill="none" stroke="#f1a71c" stroke-width="1.2" stroke-linejoin="round"/><rect x="10.8" y="152.1" width="3" height="3" fill="#f1a71c"/><rect x="22.92" y="207.6" width="3" height="3" fill="#f1a71c"/><rect x="35.04" y="204" width="3" height="3" fill="#f1a71c"/><rect x="47.17" y="194.9" width="3" height="3" fill="#f1a71c"/><rect x="59.29" y="188" width="3" height="3" fill="#f1a71c"/><rect x="71.41" y="184.4" width="3" height="3" fill="#f1a71c"/><rect x="83.53" y="178.3" width="3" height="3" fill="#f1a71c"/><rect x="95.66" y="182.8" width="3" height="3" fill="#f1a71c"/><rect x="107.78" y="180.1" width="3" height="3" fill="#f1a71c"/><rect x="119.9" y="182.4" width="3" height="3" fill="#f1a71c"/></g><text x="66.85" y="125.3" class="ti" text-anchor="middle">WFG5</text><text x="11" y="133.1" class="t" text-anchor="end">19</text><text x="11" y="140.3" class="t" text-anchor="end">18</text><text x="11" y="148.5" class="t" text-anchor="end">17</text><text x="11" y="156.7" class="t" text-anchor="end">16</text><text x="11" y="165.1" class="t" text-anchor="end">15</text><text x="11" y="174" class="t" text-anchor="end">14</text><text x="11" y="184.4" class="t" text-anchor="end">13</text><text x="11" y="195.1" class="t" text-anchor="end">12</text><text x="11" y="206.5" class="t" text-anchor="end">11</text><text x="34.12" y="216.4" class="t" text-anchor="middle">2</text><text x="55.94" y="216.4" class="t" text-anchor="middle">4</text><text x="77.76" y="216.4" class="t" text-anchor="middle">6</text><text x="99.58" y="216.4" class="t" text-anchor="middle">8</text><text x="121.4" y="216.4" class="t" text-anchor="middle">10</text><text x="121.1" y="223.3" class="t" text-anchor="end">×10<tspan class="sup" dy="-1.8">4</tspan></text><path d="M153.1 128.7H262.2M153.1 131.3H262.2M153.1 133.9H262.2M153.1 136.5H262.2M153.1 139.1H262.2M153.1 141.7H262.2M153.1 144.3H262.2M153.1 146.9H262.2M153.1 149.5H262.2M153.1 152.1H262.2M153.1 154.7H262.2M153.1 157.3H262.2M153.1 159.9H262.2M153.1 162.5H262.2M153.1 165.1H262.2M153.1 167.7H262.2M153.1 170.3H262.2M153.1 172.9H262.2M153.1 175.5H262.2M153.1 178.1H262.2M153.1 180.7H262.2M153.1 183.3H262.2M153.1 185.9H262.2M153.1 188.5H262.2M153.1 191.1H262.2M153.1 193.7H262.2M153.1 196.3H262.2M153.1 198.9H262.2M153.1 201.5H262.2M153.1 204.1H262.2M153.1 206.7H262.2M153.1 209.3H262.2" stroke="#f4f4f4" stroke-width="0.6"/><path d="M158.56 126.4V210.5M164.01 126.4V210.5M169.47 126.4V210.5M174.92 126.4V210.5M180.38 126.4V210.5M185.83 126.4V210.5M191.28 126.4V210.5M196.74 126.4V210.5M202.19 126.4V210.5M207.65 126.4V210.5M213.1 126.4V210.5M218.56 126.4V210.5M224.01 126.4V210.5M229.47 126.4V210.5M234.93 126.4V210.5M240.38 126.4V210.5M245.83 126.4V210.5M251.29 126.4V210.5M256.75 126.4V210.5" stroke="#f3f3f3" stroke-width="0.6"/><path d="M174.92 126.4V210.5M196.74 126.4V210.5M218.56 126.4V210.5M240.38 126.4V210.5" stroke="#dedede" stroke-width="0.6" stroke-dasharray="1 0.6"/><rect x="153.1" y="126.4" width="109.1" height="84.1" fill="none" stroke="#858585" stroke-width="0.85"/><path d="M174.92 210.5v-1.2M174.92 126.4v1.2M196.74 210.5v-1.2M196.74 126.4v1.2M218.56 210.5v-1.2M218.56 126.4v1.2M240.38 210.5v-1.2M240.38 126.4v1.2M262.2 210.5v-1.2M262.2 126.4v1.2M153.1 131.4h1.2M262.2 131.4h-1.2M153.1 137.3h1.2M262.2 137.3h-1.2M153.1 144.1h1.2M262.2 144.1h-1.2M153.1 150.7h1.2M262.2 150.7h-1.2M153.1 157.7h1.2M262.2 157.7h-1.2M153.1 165.9h1.2M262.2 165.9h-1.2M153.1 174.1h1.2M262.2 174.1h-1.2M153.1 183.2h1.2M262.2 183.2h-1.2M153.1 193.2h1.2M262.2 193.2h-1.2M153.1 203.9h1.2M262.2 203.9h-1.2" stroke="#555" stroke-width="0.6"/><g clip-path="url(#c6)"><polyline points="153.1,140.9 165.22,186.5 177.34,187.7 189.47,185 201.59,183.2 213.71,183.2 225.83,180.9 237.96,176.8 250.08,175.2 262.2,183.2" fill="none" stroke="#a61c3c" stroke-width="1.2" stroke-linejoin="round"/><path d="M153.1 138.6L155 140.9L153.1 143.2L151.2 140.9Z" fill="#a61c3c"/><path d="M165.22 184.2L167.12 186.5L165.22 188.8L163.32 186.5Z" fill="#a61c3c"/><path d="M177.34 185.4L179.24 187.7L177.34 190L175.44 187.7Z" fill="#a61c3c"/><path d="M189.47 182.7L191.37 185L189.47 187.3L187.57 185Z" fill="#a61c3c"/><path d="M201.59 180.9L203.49 183.2L201.59 185.5L199.69 183.2Z" fill="#a61c3c"/><path d="M213.71 180.9L215.61 183.2L213.71 185.5L211.81 183.2Z" fill="#a61c3c"/><path d="M225.83 178.6L227.73 180.9L225.83 183.2L223.93 180.9Z" fill="#a61c3c"/><path d="M237.96 174.5L239.86 176.8L237.96 179.1L236.06 176.8Z" fill="#a61c3c"/><path d="M250.08 172.9L251.98 175.2L250.08 177.5L248.18 175.2Z" fill="#a61c3c"/><path d="M262.2 180.9L264.1 183.2L262.2 185.5L260.3 183.2Z" fill="#a61c3c"/></g><g clip-path="url(#c6)"><polyline points="153.1,126.4 165.22,143.9 177.34,149.8 189.47,143.4 201.59,144.1 213.71,157.7 225.83,183.6 237.96,190 250.08,199.1 262.2,201.4" fill="none" stroke="#36c3dc" stroke-width="1.2" stroke-linejoin="round"/><path d="M153.1 124.6V128.2" stroke="#36c3dc" stroke-width="0.9"/><path d="M165.22 142.1V145.7" stroke="#36c3dc" stroke-width="0.9"/><path d="M177.34 148V151.6" stroke="#36c3dc" stroke-width="0.9"/><path d="M189.47 141.6V145.2" stroke="#36c3dc" stroke-width="0.9"/><path d="M201.59 142.3V145.9" stroke="#36c3dc" stroke-width="0.9"/><path d="M213.71 155.9V159.5" stroke="#36c3dc" stroke-width="0.9"/><path d="M225.83 181.8V185.4" stroke="#36c3dc" stroke-width="0.9"/><path d="M237.96 188.2V191.8" stroke="#36c3dc" stroke-width="0.9"/><path d="M250.08 197.3V200.9" stroke="#36c3dc" stroke-width="0.9"/><path d="M262.2 199.6V203.2" stroke="#36c3dc" stroke-width="0.9"/></g><g clip-path="url(#c6)"><polyline points="153.1,133 165.22,186.5 177.34,165 189.47,163.2 201.59,165 213.71,165.9 225.83,164.1 237.96,172.3 250.08,169.1 262.2,168.9" fill="none" stroke="#3cb01e" stroke-width="1.2" stroke-linejoin="round"/><circle cx="153.1" cy="133" r="1.8" fill="#3cb01e"/><circle cx="165.22" cy="186.5" r="1.8" fill="#3cb01e"/><circle cx="177.34" cy="165" r="1.8" fill="#3cb01e"/><circle cx="189.47" cy="163.2" r="1.8" fill="#3cb01e"/><circle cx="201.59" cy="165" r="1.8" fill="#3cb01e"/><circle cx="213.71" cy="165.9" r="1.8" fill="#3cb01e"/><circle cx="225.83" cy="164.1" r="1.8" fill="#3cb01e"/><circle cx="237.96" cy="172.3" r="1.8" fill="#3cb01e"/><circle cx="250.08" cy="169.1" r="1.8" fill="#3cb01e"/><circle cx="262.2" cy="168.9" r="1.8" fill="#3cb01e"/></g><g clip-path="url(#c6)"><polyline points="153.1,132.4 165.22,183.8 177.34,180.5 189.47,178.2 201.59,180.9 213.71,169.5 225.83,178.2 237.96,181.4 250.08,180.9 262.2,175.9" fill="none" stroke="#7f2d9f" stroke-width="1.2" stroke-linejoin="round"/><path d="M151.8 131.1L154.4 133.7M151.8 133.7L154.4 131.1" stroke="#7f2d9f" stroke-width="1.3"/><path d="M163.92 182.5L166.52 185.1M163.92 185.1L166.52 182.5" stroke="#7f2d9f" stroke-width="1.3"/><path d="M176.04 179.2L178.64 181.8M176.04 181.8L178.64 179.2" stroke="#7f2d9f" stroke-width="1.3"/><path d="M188.17 176.9L190.77 179.5M188.17 179.5L190.77 176.9" stroke="#7f2d9f" stroke-width="1.3"/><path d="M200.29 179.6L202.89 182.2M200.29 182.2L202.89 179.6" stroke="#7f2d9f" stroke-width="1.3"/><path d="M212.41 168.2L215.01 170.8M212.41 170.8L215.01 168.2" stroke="#7f2d9f" stroke-width="1.3"/><path d="M224.53 176.9L227.13 179.5M224.53 179.5L227.13 176.9" stroke="#7f2d9f" stroke-width="1.3"/><path d="M236.66 180.1L239.26 182.7M236.66 182.7L239.26 180.1" stroke="#7f2d9f" stroke-width="1.3"/><path d="M248.78 179.6L251.38 182.2M248.78 182.2L251.38 179.6" stroke="#7f2d9f" stroke-width="1.3"/><path d="M260.9 174.6L263.5 177.2M260.9 177.2L263.5 174.6" stroke="#7f2d9f" stroke-width="1.3"/></g><g clip-path="url(#c6)"><polyline points="153.1,145 165.22,206.8 177.34,205.9 189.47,207.5 201.59,205.2 213.71,207.3 225.83,210 237.96,204.8 250.08,206.6 262.2,208.6" fill="none" stroke="#f1a71c" stroke-width="1.2" stroke-linejoin="round"/><rect x="151.6" y="143.5" width="3" height="3" fill="#f1a71c"/><rect x="163.72" y="205.3" width="3" height="3" fill="#f1a71c"/><rect x="175.84" y="204.4" width="3" height="3" fill="#f1a71c"/><rect x="187.97" y="206" width="3" height="3" fill="#f1a71c"/><rect x="200.09" y="203.7" width="3" height="3" fill="#f1a71c"/><rect x="212.21" y="205.8" width="3" height="3" fill="#f1a71c"/><rect x="224.33" y="208.5" width="3" height="3" fill="#f1a71c"/><rect x="236.46" y="203.3" width="3" height="3" fill="#f1a71c"/><rect x="248.58" y="205.1" width="3" height="3" fill="#f1a71c"/><rect x="260.7" y="207.1" width="3" height="3" fill="#f1a71c"/></g><text x="207.65" y="125.3" class="ti" text-anchor="middle">WFG6</text><text x="151.8" y="133.1" class="t" text-anchor="end">19</text><text x="151.8" y="139" class="t" text-anchor="end">18</text><text x="151.8" y="145.8" class="t" text-anchor="end">17</text><text x="151.8" y="152.4" class="t" text-anchor="end">16</text><text x="151.8" y="159.4" class="t" text-anchor="end">15</text><text x="151.8" y="167.6" class="t" text-anchor="end">14</text><text x="151.8" y="175.8" class="t" text-anchor="end">13</text><text x="151.8" y="184.9" class="t" text-anchor="end">12</text><text x="151.8" y="194.9" class="t" text-anchor="end">11</text><text x="151.8" y="205.6" class="t" text-anchor="end">10</text><text x="174.92" y="216.4" class="t" text-anchor="middle">2</text><text x="196.74" y="216.4" class="t" text-anchor="middle">4</text><text x="218.56" y="216.4" class="t" text-anchor="middle">6</text><text x="240.38" y="216.4" class="t" text-anchor="middle">8</text><text x="262.2" y="216.4" class="t" text-anchor="middle">10</text><text x="261.9" y="223.3" class="t" text-anchor="end">×10<tspan class="sup" dy="-1.8">4</tspan></text><path d="M294 128.7H403.1M294 131.3H403.1M294 133.9H403.1M294 136.5H403.1M294 139.1H403.1M294 141.7H403.1M294 144.3H403.1M294 146.9H403.1M294 149.5H403.1M294 152.1H403.1M294 154.7H403.1M294 157.3H403.1M294 159.9H403.1M294 162.5H403.1M294 165.1H403.1M294 167.7H403.1M294 170.3H403.1M294 172.9H403.1M294 175.5H403.1M294 178.1H403.1M294 180.7H403.1M294 183.3H403.1M294 185.9H403.1M294 188.5H403.1M294 191.1H403.1M294 193.7H403.1M294 196.3H403.1M294 198.9H403.1M294 201.5H403.1M294 204.1H403.1M294 206.7H403.1M294 209.3H403.1" stroke="#f4f4f4" stroke-width="0.6"/><path d="M299.45 126.4V210.5M304.91 126.4V210.5M310.37 126.4V210.5M315.82 126.4V210.5M321.27 126.4V210.5M326.73 126.4V210.5M332.19 126.4V210.5M337.64 126.4V210.5M343.1 126.4V210.5M348.55 126.4V210.5M354 126.4V210.5M359.46 126.4V210.5M364.92 126.4V210.5M370.37 126.4V210.5M375.83 126.4V210.5M381.28 126.4V210.5M386.74 126.4V210.5M392.19 126.4V210.5M397.65 126.4V210.5" stroke="#f3f3f3" stroke-width="0.6"/><path d="M315.82 126.4V210.5M337.64 126.4V210.5M359.46 126.4V210.5M381.28 126.4V210.5" stroke="#dedede" stroke-width="0.6" stroke-dasharray="1 0.6"/><rect x="294" y="126.4" width="109.1" height="84.1" fill="none" stroke="#858585" stroke-width="0.85"/><path d="M315.82 210.5v-1.2M315.82 126.4v1.2M337.64 210.5v-1.2M337.64 126.4v1.2M359.46 210.5v-1.2M359.46 126.4v1.2M381.28 210.5v-1.2M381.28 126.4v1.2M403.1 210.5v-1.2M403.1 126.4v1.2M294 130.5h1.2M403.1 130.5h-1.2M294 136.6h1.2M403.1 136.6h-1.2M294 143.4h1.2M403.1 143.4h-1.2M294 150.2h1.2M403.1 150.2h-1.2M294 157.5h1.2M403.1 157.5h-1.2M294 165.5h1.2M403.1 165.5h-1.2M294 173.6h1.2M403.1 173.6h-1.2M294 182.5h1.2M403.1 182.5h-1.2M294 192.7h1.2M403.1 192.7h-1.2M294 203.6h1.2M403.1 203.6h-1.2" stroke="#555" stroke-width="0.6"/><g clip-path="url(#c7)"><polyline points="294,143 306.12,194.7 318.24,187 330.37,183.2 342.49,183.6 354.61,183.2 366.73,183.6 378.86,181.6 390.98,183.2 403.1,180.9" fill="none" stroke="#a61c3c" stroke-width="1.2" stroke-linejoin="round"/><path d="M294 140.7L295.9 143L294 145.3L292.1 143Z" fill="#a61c3c"/><path d="M306.12 192.4L308.02 194.7L306.12 197L304.22 194.7Z" fill="#a61c3c"/><path d="M318.24 184.7L320.14 187L318.24 189.3L316.34 187Z" fill="#a61c3c"/><path d="M330.37 180.9L332.27 183.2L330.37 185.5L328.47 183.2Z" fill="#a61c3c"/><path d="M342.49 181.3L344.39 183.6L342.49 185.9L340.59 183.6Z" fill="#a61c3c"/><path d="M354.61 180.9L356.51 183.2L354.61 185.5L352.71 183.2Z" fill="#a61c3c"/><path d="M366.73 181.3L368.63 183.6L366.73 185.9L364.83 183.6Z" fill="#a61c3c"/><path d="M378.86 179.3L380.76 181.6L378.86 183.9L376.96 181.6Z" fill="#a61c3c"/><path d="M390.98 180.9L392.88 183.2L390.98 185.5L389.08 183.2Z" fill="#a61c3c"/><path d="M403.1 178.6L405 180.9L403.1 183.2L401.2 180.9Z" fill="#a61c3c"/></g><g clip-path="url(#c7)"><polyline points="294,126.4 306.12,191.6 318.24,195.2 330.37,183.6 342.49,185.5 354.61,183.6 366.73,188.4 378.86,195 390.98,188.2 403.1,194.5" fill="none" stroke="#2f9ef0" stroke-width="1.2" stroke-linejoin="round"/><path d="M294 124.6V128.2" stroke="#2f9ef0" stroke-width="0.9"/><path d="M306.12 189.8V193.4" stroke="#2f9ef0" stroke-width="0.9"/><path d="M318.24 193.4V197" stroke="#2f9ef0" stroke-width="0.9"/><path d="M330.37 181.8V185.4" stroke="#2f9ef0" stroke-width="0.9"/><path d="M342.49 183.7V187.3" stroke="#2f9ef0" stroke-width="0.9"/><path d="M354.61 181.8V185.4" stroke="#2f9ef0" stroke-width="0.9"/><path d="M366.73 186.6V190.2" stroke="#2f9ef0" stroke-width="0.9"/><path d="M378.86 193.2V196.8" stroke="#2f9ef0" stroke-width="0.9"/><path d="M390.98 186.4V190" stroke="#2f9ef0" stroke-width="0.9"/><path d="M403.1 192.7V196.3" stroke="#2f9ef0" stroke-width="0.9"/></g><g clip-path="url(#c7)"><polyline points="294,127.3 306.12,189 318.24,167.5 330.37,173.6 342.49,169.1 354.61,168.9 366.73,166.8 378.86,166.1 390.98,163.2 403.1,163.9" fill="none" stroke="#3cb01e" stroke-width="1.2" stroke-linejoin="round"/><circle cx="294" cy="127.3" r="1.8" fill="#3cb01e"/><circle cx="306.12" cy="189" r="1.8" fill="#3cb01e"/><circle cx="318.24" cy="167.5" r="1.8" fill="#3cb01e"/><circle cx="330.37" cy="173.6" r="1.8" fill="#3cb01e"/><circle cx="342.49" cy="169.1" r="1.8" fill="#3cb01e"/><circle cx="354.61" cy="168.9" r="1.8" fill="#3cb01e"/><circle cx="366.73" cy="166.8" r="1.8" fill="#3cb01e"/><circle cx="378.86" cy="166.1" r="1.8" fill="#3cb01e"/><circle cx="390.98" cy="163.2" r="1.8" fill="#3cb01e"/><circle cx="403.1" cy="163.9" r="1.8" fill="#3cb01e"/></g><g clip-path="url(#c7)"><polyline points="294,134.8 306.12,183.8 318.24,183.8 330.37,176.8 342.49,183.2 354.61,185.5 366.73,182.5 378.86,176.4 390.98,182 403.1,181.6" fill="none" stroke="#7f2d9f" stroke-width="1.2" stroke-linejoin="round"/><path d="M292.7 133.5L295.3 136.1M292.7 136.1L295.3 133.5" stroke="#7f2d9f" stroke-width="1.3"/><path d="M304.82 182.5L307.42 185.1M304.82 185.1L307.42 182.5" stroke="#7f2d9f" stroke-width="1.3"/><path d="M316.94 182.5L319.54 185.1M316.94 185.1L319.54 182.5" stroke="#7f2d9f" stroke-width="1.3"/><path d="M329.07 175.5L331.67 178.1M329.07 178.1L331.67 175.5" stroke="#7f2d9f" stroke-width="1.3"/><path d="M341.19 181.9L343.79 184.5M341.19 184.5L343.79 181.9" stroke="#7f2d9f" stroke-width="1.3"/><path d="M353.31 184.2L355.91 186.8M353.31 186.8L355.91 184.2" stroke="#7f2d9f" stroke-width="1.3"/><path d="M365.43 181.2L368.03 183.8M365.43 183.8L368.03 181.2" stroke="#7f2d9f" stroke-width="1.3"/><path d="M377.56 175.1L380.16 177.7M377.56 177.7L380.16 175.1" stroke="#7f2d9f" stroke-width="1.3"/><path d="M389.68 180.7L392.28 183.3M389.68 183.3L392.28 180.7" stroke="#7f2d9f" stroke-width="1.3"/><path d="M401.8 180.3L404.4 182.9M401.8 182.9L404.4 180.3" stroke="#7f2d9f" stroke-width="1.3"/></g><g clip-path="url(#c7)"><polyline points="294,141.2 306.12,205.7 318.24,208.3 330.37,206.4 342.49,208.9 354.61,209.5 366.73,210 378.86,206.4 390.98,209.3 403.1,207.7" fill="none" stroke="#f1a71c" stroke-width="1.2" stroke-linejoin="round"/><rect x="292.5" y="139.7" width="3" height="3" fill="#f1a71c"/><rect x="304.62" y="204.2" width="3" height="3" fill="#f1a71c"/><rect x="316.74" y="206.8" width="3" height="3" fill="#f1a71c"/><rect x="328.87" y="204.9" width="3" height="3" fill="#f1a71c"/><rect x="340.99" y="207.4" width="3" height="3" fill="#f1a71c"/><rect x="353.11" y="208" width="3" height="3" fill="#f1a71c"/><rect x="365.23" y="208.5" width="3" height="3" fill="#f1a71c"/><rect x="377.36" y="204.9" width="3" height="3" fill="#f1a71c"/><rect x="389.48" y="207.8" width="3" height="3" fill="#f1a71c"/><rect x="401.6" y="206.2" width="3" height="3" fill="#f1a71c"/></g><text x="348.55" y="125.3" class="ti" text-anchor="middle">WFG7</text><text x="292.7" y="132.2" class="t" text-anchor="end">19</text><text x="292.7" y="138.3" class="t" text-anchor="end">18</text><text x="292.7" y="145.1" class="t" text-anchor="end">17</text><text x="292.7" y="151.9" class="t" text-anchor="end">16</text><text x="292.7" y="159.2" class="t" text-anchor="end">15</text><text x="292.7" y="167.2" class="t" text-anchor="end">14</text><text x="292.7" y="175.3" class="t" text-anchor="end">13</text><text x="292.7" y="184.2" class="t" text-anchor="end">12</text><text x="292.7" y="194.4" class="t" text-anchor="end">11</text><text x="292.7" y="205.3" class="t" text-anchor="end">10</text><text x="315.82" y="216.4" class="t" text-anchor="middle">2</text><text x="337.64" y="216.4" class="t" text-anchor="middle">4</text><text x="359.46" y="216.4" class="t" text-anchor="middle">6</text><text x="381.28" y="216.4" class="t" text-anchor="middle">8</text><text x="403.1" y="216.4" class="t" text-anchor="middle">10</text><text x="402.8" y="223.3" class="t" text-anchor="end">×10<tspan class="sup" dy="-1.8">4</tspan></text><path d="M434.5 128.7H544M434.5 131.3H544M434.5 133.9H544M434.5 136.5H544M434.5 139.1H544M434.5 141.7H544M434.5 144.3H544M434.5 146.9H544M434.5 149.5H544M434.5 152.1H544M434.5 154.7H544M434.5 157.3H544M434.5 159.9H544M434.5 162.5H544M434.5 165.1H544M434.5 167.7H544M434.5 170.3H544M434.5 172.9H544M434.5 175.5H544M434.5 178.1H544M434.5 180.7H544M434.5 183.3H544M434.5 185.9H544M434.5 188.5H544M434.5 191.1H544M434.5 193.7H544M434.5 196.3H544M434.5 198.9H544M434.5 201.5H544M434.5 204.1H544M434.5 206.7H544M434.5 209.3H544" stroke="#f4f4f4" stroke-width="0.6"/><path d="M439.98 126.4V210.5M445.45 126.4V210.5M450.93 126.4V210.5M456.4 126.4V210.5M461.88 126.4V210.5M467.35 126.4V210.5M472.82 126.4V210.5M478.3 126.4V210.5M483.77 126.4V210.5M489.25 126.4V210.5M494.73 126.4V210.5M500.2 126.4V210.5M505.68 126.4V210.5M511.15 126.4V210.5M516.62 126.4V210.5M522.1 126.4V210.5M527.58 126.4V210.5M533.05 126.4V210.5M538.52 126.4V210.5" stroke="#f3f3f3" stroke-width="0.6"/><path d="M456.4 126.4V210.5M478.3 126.4V210.5M500.2 126.4V210.5M522.1 126.4V210.5" stroke="#dedede" stroke-width="0.6" stroke-dasharray="1 0.6"/><rect x="434.5" y="126.4" width="109.5" height="84.1" fill="none" stroke="#858585" stroke-width="0.85"/><path d="M456.4 210.5v-1.2M456.4 126.4v1.2M478.3 210.5v-1.2M478.3 126.4v1.2M500.2 210.5v-1.2M500.2 126.4v1.2M522.1 210.5v-1.2M522.1 126.4v1.2M544 210.5v-1.2M544 126.4v1.2M434.5 129.8h1.2M544 129.8h-1.2M434.5 135.9h1.2M544 135.9h-1.2M434.5 142.7h1.2M544 142.7h-1.2M434.5 150.2h1.2M544 150.2h-1.2M434.5 157h1.2M544 157h-1.2M434.5 165.5h1.2M544 165.5h-1.2M434.5 173.6h1.2M544 173.6h-1.2M434.5 182.7h1.2M544 182.7h-1.2M434.5 192.7h1.2M544 192.7h-1.2M434.5 203.6h1.2M544 203.6h-1.2" stroke="#555" stroke-width="0.6"/><g clip-path="url(#c8)"><polyline points="434.5,148.2 446.67,192.8 458.83,200 471,203 483.17,202.5 495.33,199.5 507.5,199.5 519.67,200.2 531.83,199.1 544,200.2" fill="none" stroke="#a61c3c" stroke-width="1.2" stroke-linejoin="round"/><path d="M434.5 145.9L436.4 148.2L434.5 150.5L432.6 148.2Z" fill="#a61c3c"/><path d="M446.67 190.5L448.57 192.8L446.67 195.1L444.77 192.8Z" fill="#a61c3c"/><path d="M458.83 197.7L460.73 200L458.83 202.3L456.93 200Z" fill="#a61c3c"/><path d="M471 200.7L472.9 203L471 205.3L469.1 203Z" fill="#a61c3c"/><path d="M483.17 200.2L485.07 202.5L483.17 204.8L481.27 202.5Z" fill="#a61c3c"/><path d="M495.33 197.2L497.23 199.5L495.33 201.8L493.43 199.5Z" fill="#a61c3c"/><path d="M507.5 197.2L509.4 199.5L507.5 201.8L505.6 199.5Z" fill="#a61c3c"/><path d="M519.67 197.9L521.57 200.2L519.67 202.5L517.77 200.2Z" fill="#a61c3c"/><path d="M531.83 196.8L533.73 199.1L531.83 201.4L529.93 199.1Z" fill="#a61c3c"/><path d="M544 197.9L545.9 200.2L544 202.5L542.1 200.2Z" fill="#a61c3c"/></g><g clip-path="url(#c8)"><polyline points="434.5,136.6 446.67,163 458.83,160.8 471,167.7 483.17,174.5 495.33,188.2 507.5,190 519.67,200.2 531.83,208.2 544,210.5" fill="none" stroke="#2f9ef0" stroke-width="1.2" stroke-linejoin="round"/><path d="M434.5 134.8V138.4" stroke="#2f9ef0" stroke-width="0.9"/><path d="M446.67 161.2V164.8" stroke="#2f9ef0" stroke-width="0.9"/><path d="M458.83 159V162.6" stroke="#2f9ef0" stroke-width="0.9"/><path d="M471 165.9V169.5" stroke="#2f9ef0" stroke-width="0.9"/><path d="M483.17 172.7V176.3" stroke="#2f9ef0" stroke-width="0.9"/><path d="M495.33 186.4V190" stroke="#2f9ef0" stroke-width="0.9"/><path d="M507.5 188.2V191.8" stroke="#2f9ef0" stroke-width="0.9"/><path d="M519.67 198.4V202" stroke="#2f9ef0" stroke-width="0.9"/><path d="M531.83 206.4V210" stroke="#2f9ef0" stroke-width="0.9"/><path d="M544 208.7V212.3" stroke="#2f9ef0" stroke-width="0.9"/></g><g clip-path="url(#c8)"><polyline points="434.5,129.8 446.67,196.6 458.83,180.9 471,173.2 483.17,181.6 495.33,177 507.5,178.2 519.67,179.8 531.83,176.4 544,179.8" fill="none" stroke="#3cb01e" stroke-width="1.2" stroke-linejoin="round"/><circle cx="434.5" cy="129.8" r="1.8" fill="#3cb01e"/><circle cx="446.67" cy="196.6" r="1.8" fill="#3cb01e"/><circle cx="458.83" cy="180.9" r="1.8" fill="#3cb01e"/><circle cx="471" cy="173.2" r="1.8" fill="#3cb01e"/><circle cx="483.17" cy="181.6" r="1.8" fill="#3cb01e"/><circle cx="495.33" cy="177" r="1.8" fill="#3cb01e"/><circle cx="507.5" cy="178.2" r="1.8" fill="#3cb01e"/><circle cx="519.67" cy="179.8" r="1.8" fill="#3cb01e"/><circle cx="531.83" cy="176.4" r="1.8" fill="#3cb01e"/><circle cx="544" cy="179.8" r="1.8" fill="#3cb01e"/></g><g clip-path="url(#c8)"><polyline points="434.5,126.4 446.67,193 458.83,194.5 471,192.7 483.17,193.9 495.33,197.3 507.5,195.7 519.67,197.3 531.83,196.4 544,198.6" fill="none" stroke="#7f2d9f" stroke-width="1.2" stroke-linejoin="round"/><path d="M433.2 125.1L435.8 127.7M433.2 127.7L435.8 125.1" stroke="#7f2d9f" stroke-width="1.3"/><path d="M445.37 191.7L447.97 194.3M445.37 194.3L447.97 191.7" stroke="#7f2d9f" stroke-width="1.3"/><path d="M457.53 193.2L460.13 195.8M457.53 195.8L460.13 193.2" stroke="#7f2d9f" stroke-width="1.3"/><path d="M469.7 191.4L472.3 194M469.7 194L472.3 191.4" stroke="#7f2d9f" stroke-width="1.3"/><path d="M481.87 192.6L484.47 195.2M481.87 195.2L484.47 192.6" stroke="#7f2d9f" stroke-width="1.3"/><path d="M494.03 196L496.63 198.6M494.03 198.6L496.63 196" stroke="#7f2d9f" stroke-width="1.3"/><path d="M506.2 194.4L508.8 197M506.2 197L508.8 194.4" stroke="#7f2d9f" stroke-width="1.3"/><path d="M518.37 196L520.97 198.6M518.37 198.6L520.97 196" stroke="#7f2d9f" stroke-width="1.3"/><path d="M530.53 195.1L533.13 197.7M530.53 197.7L533.13 195.1" stroke="#7f2d9f" stroke-width="1.3"/><path d="M542.7 197.3L545.3 199.9M542.7 199.9L545.3 197.3" stroke="#7f2d9f" stroke-width="1.3"/></g><g clip-path="url(#c8)"><polyline points="434.5,147.3 446.67,181.3 458.83,175.3 471,183.6 483.17,184.3 495.33,186.1 507.5,186.6 519.67,182.7 531.83,181.6 544,182.7" fill="none" stroke="#f1a71c" stroke-width="1.2" stroke-linejoin="round"/><rect x="433" y="145.8" width="3" height="3" fill="#f1a71c"/><rect x="445.17" y="179.8" width="3" height="3" fill="#f1a71c"/><rect x="457.33" y="173.8" width="3" height="3" fill="#f1a71c"/><rect x="469.5" y="182.1" width="3" height="3" fill="#f1a71c"/><rect x="481.67" y="182.8" width="3" height="3" fill="#f1a71c"/><rect x="493.83" y="184.6" width="3" height="3" fill="#f1a71c"/><rect x="506" y="185.1" width="3" height="3" fill="#f1a71c"/><rect x="518.17" y="181.2" width="3" height="3" fill="#f1a71c"/><rect x="530.33" y="180.1" width="3" height="3" fill="#f1a71c"/><rect x="542.5" y="181.2" width="3" height="3" fill="#f1a71c"/></g><text x="489.25" y="125.3" class="ti" text-anchor="middle">WFG8</text><text x="433.2" y="131.5" class="t" text-anchor="end">20</text><text x="433.2" y="137.6" class="t" text-anchor="end">19</text><text x="433.2" y="144.4" class="t" text-anchor="end">18</text><text x="433.2" y="151.9" class="t" text-anchor="end">17</text><text x="433.2" y="158.7" class="t" text-anchor="end">16</text><text x="433.2" y="167.2" class="t" text-anchor="end">15</text><text x="433.2" y="175.3" class="t" text-anchor="end">14</text><text x="433.2" y="184.4" class="t" text-anchor="end">13</text><text x="433.2" y="194.4" class="t" text-anchor="end">12</text><text x="433.2" y="205.3" class="t" text-anchor="end">11</text><text x="456.4" y="216.4" class="t" text-anchor="middle">2</text><text x="478.3" y="216.4" class="t" text-anchor="middle">4</text><text x="500.2" y="216.4" class="t" text-anchor="middle">6</text><text x="522.1" y="216.4" class="t" text-anchor="middle">8</text><text x="544" y="216.4" class="t" text-anchor="middle">10</text><text x="543.7" y="223.3" class="t" text-anchor="end">×10<tspan class="sup" dy="-1.8">4</tspan></text><path d="M12.3 245.7H121.4M12.3 248.3H121.4M12.3 250.9H121.4M12.3 253.5H121.4M12.3 256.1H121.4M12.3 258.7H121.4M12.3 261.3H121.4M12.3 263.9H121.4M12.3 266.5H121.4M12.3 269.1H121.4M12.3 271.7H121.4M12.3 274.3H121.4M12.3 276.9H121.4M12.3 279.5H121.4M12.3 282.1H121.4M12.3 284.7H121.4M12.3 287.3H121.4M12.3 289.9H121.4M12.3 292.5H121.4M12.3 295.1H121.4M12.3 297.7H121.4M12.3 300.3H121.4M12.3 302.9H121.4M12.3 305.5H121.4M12.3 308.1H121.4M12.3 310.7H121.4M12.3 313.3H121.4M12.3 315.9H121.4M12.3 318.5H121.4M12.3 321.1H121.4M12.3 323.7H121.4M12.3 326.3H121.4" stroke="#f4f4f4" stroke-width="0.6"/><path d="M17.76 243.4V328.1M23.21 243.4V328.1M28.67 243.4V328.1M34.12 243.4V328.1M39.58 243.4V328.1M45.03 243.4V328.1M50.48 243.4V328.1M55.94 243.4V328.1M61.4 243.4V328.1M66.85 243.4V328.1M72.31 243.4V328.1M77.76 243.4V328.1M83.22 243.4V328.1M88.67 243.4V328.1M94.13 243.4V328.1M99.58 243.4V328.1M105.03 243.4V328.1M110.49 243.4V328.1M115.95 243.4V328.1" stroke="#f3f3f3" stroke-width="0.6"/><path d="M34.12 243.4V328.1M55.94 243.4V328.1M77.76 243.4V328.1M99.58 243.4V328.1" stroke="#dedede" stroke-width="0.6" stroke-dasharray="1 0.6"/><rect x="12.3" y="243.4" width="109.1" height="84.7" fill="none" stroke="#858585" stroke-width="0.85"/><path d="M34.12 328.1v-1.2M34.12 243.4v1.2M55.94 328.1v-1.2M55.94 243.4v1.2M77.76 328.1v-1.2M77.76 243.4v1.2M99.58 328.1v-1.2M99.58 243.4v1.2M121.4 328.1v-1.2M121.4 243.4v1.2M12.3 243.6h1.2M121.4 243.6h-1.2M12.3 254h1.2M121.4 254h-1.2M12.3 265.6h1.2M121.4 265.6h-1.2M12.3 278.6h1.2M121.4 278.6h-1.2M12.3 294.5h1.2M121.4 294.5h-1.2M12.3 312.7h1.2M121.4 312.7h-1.2" stroke="#555" stroke-width="0.6"/><g clip-path="url(#c9)"><polyline points="12.3,244.5 24.42,263.4 36.54,279.7 48.67,292.2 60.79,302.9 72.91,305.9 85.03,306.3 97.16,303.6 109.28,304.7 121.4,307" fill="none" stroke="#a61c3c" stroke-width="1.2" stroke-linejoin="round"/><path d="M12.3 242.2L14.2 244.5L12.3 246.8L10.4 244.5Z" fill="#a61c3c"/><path d="M24.42 261.1L26.32 263.4L24.42 265.7L22.52 263.4Z" fill="#a61c3c"/><path d="M36.54 277.4L38.44 279.7L36.54 282L34.64 279.7Z" fill="#a61c3c"/><path d="M48.67 289.9L50.57 292.2L48.67 294.5L46.77 292.2Z" fill="#a61c3c"/><path d="M60.79 300.6L62.69 302.9L60.79 305.2L58.89 302.9Z" fill="#a61c3c"/><path d="M72.91 303.6L74.81 305.9L72.91 308.2L71.01 305.9Z" fill="#a61c3c"/><path d="M85.03 304L86.93 306.3L85.03 308.6L83.13 306.3Z" fill="#a61c3c"/><path d="M97.16 301.3L99.06 303.6L97.16 305.9L95.26 303.6Z" fill="#a61c3c"/><path d="M109.28 302.4L111.18 304.7L109.28 307L107.38 304.7Z" fill="#a61c3c"/><path d="M121.4 304.7L123.3 307L121.4 309.3L119.5 307Z" fill="#a61c3c"/></g><g clip-path="url(#c9)"><polyline points="12.3,243.4 24.42,249.7 36.54,250.9 48.67,249 60.79,249.5 72.91,250.2 85.03,250.2 97.16,252.5 109.28,253.2 121.4,253.2" fill="none" stroke="#2f9ef0" stroke-width="1.2" stroke-linejoin="round"/><path d="M12.3 241.6V245.2" stroke="#2f9ef0" stroke-width="0.9"/><path d="M24.42 247.9V251.5" stroke="#2f9ef0" stroke-width="0.9"/><path d="M36.54 249.1V252.7" stroke="#2f9ef0" stroke-width="0.9"/><path d="M48.67 247.2V250.8" stroke="#2f9ef0" stroke-width="0.9"/><path d="M60.79 247.7V251.3" stroke="#2f9ef0" stroke-width="0.9"/><path d="M72.91 248.4V252" stroke="#2f9ef0" stroke-width="0.9"/><path d="M85.03 248.4V252" stroke="#2f9ef0" stroke-width="0.9"/><path d="M97.16 250.7V254.3" stroke="#2f9ef0" stroke-width="0.9"/><path d="M109.28 251.4V255" stroke="#2f9ef0" stroke-width="0.9"/><path d="M121.4 251.4V255" stroke="#2f9ef0" stroke-width="0.9"/></g><g clip-path="url(#c9)"><polyline points="12.3,244.5 24.42,276.3 36.54,291.5 48.67,307.5 60.79,311.5 72.91,309.7 85.03,313.8 97.16,314 109.28,314.3 121.4,314.3" fill="none" stroke="#3cb01e" stroke-width="1.2" stroke-linejoin="round"/><circle cx="12.3" cy="244.5" r="1.8" fill="#3cb01e"/><circle cx="24.42" cy="276.3" r="1.8" fill="#3cb01e"/><circle cx="36.54" cy="291.5" r="1.8" fill="#3cb01e"/><circle cx="48.67" cy="307.5" r="1.8" fill="#3cb01e"/><circle cx="60.79" cy="311.5" r="1.8" fill="#3cb01e"/><circle cx="72.91" cy="309.7" r="1.8" fill="#3cb01e"/><circle cx="85.03" cy="313.8" r="1.8" fill="#3cb01e"/><circle cx="97.16" cy="314" r="1.8" fill="#3cb01e"/><circle cx="109.28" cy="314.3" r="1.8" fill="#3cb01e"/><circle cx="121.4" cy="314.3" r="1.8" fill="#3cb01e"/></g><g clip-path="url(#c9)"><polyline points="12.3,243.6 24.42,279.7 36.54,304.3 48.67,302.5 60.79,301.3 72.91,305.9 85.03,299.5 97.16,304.3 109.28,307.7 121.4,313.1" fill="none" stroke="#7f2d9f" stroke-width="1.2" stroke-linejoin="round"/><path d="M11 242.3L13.6 244.9M11 244.9L13.6 242.3" stroke="#7f2d9f" stroke-width="1.3"/><path d="M23.12 278.4L25.72 281M23.12 281L25.72 278.4" stroke="#7f2d9f" stroke-width="1.3"/><path d="M35.24 303L37.84 305.6M35.24 305.6L37.84 303" stroke="#7f2d9f" stroke-width="1.3"/><path d="M47.37 301.2L49.97 303.8M47.37 303.8L49.97 301.2" stroke="#7f2d9f" stroke-width="1.3"/><path d="M59.49 300L62.09 302.6M59.49 302.6L62.09 300" stroke="#7f2d9f" stroke-width="1.3"/><path d="M71.61 304.6L74.21 307.2M71.61 307.2L74.21 304.6" stroke="#7f2d9f" stroke-width="1.3"/><path d="M83.73 298.2L86.33 300.8M83.73 300.8L86.33 298.2" stroke="#7f2d9f" stroke-width="1.3"/><path d="M95.86 303L98.46 305.6M95.86 305.6L98.46 303" stroke="#7f2d9f" stroke-width="1.3"/><path d="M107.98 306.4L110.58 309M107.98 309L110.58 306.4" stroke="#7f2d9f" stroke-width="1.3"/><path d="M120.1 311.8L122.7 314.4M120.1 314.4L122.7 311.8" stroke="#7f2d9f" stroke-width="1.3"/></g><g clip-path="url(#c9)"><polyline points="12.3,245.2 24.42,284.7 36.54,307.9 48.67,316.1 60.79,318.6 72.91,322 85.03,322.5 97.16,328 109.28,325.4 121.4,325.4" fill="none" stroke="#f1a71c" stroke-width="1.2" stroke-linejoin="round"/><rect x="10.8" y="243.7" width="3" height="3" fill="#f1a71c"/><rect x="22.92" y="283.2" width="3" height="3" fill="#f1a71c"/><rect x="35.04" y="306.4" width="3" height="3" fill="#f1a71c"/><rect x="47.17" y="314.6" width="3" height="3" fill="#f1a71c"/><rect x="59.29" y="317.1" width="3" height="3" fill="#f1a71c"/><rect x="71.41" y="320.5" width="3" height="3" fill="#f1a71c"/><rect x="83.53" y="321" width="3" height="3" fill="#f1a71c"/><rect x="95.66" y="326.5" width="3" height="3" fill="#f1a71c"/><rect x="107.78" y="323.9" width="3" height="3" fill="#f1a71c"/><rect x="119.9" y="323.9" width="3" height="3" fill="#f1a71c"/></g><text x="66.85" y="242.3" class="ti" text-anchor="middle">WFG1</text><text x="11" y="245.3" class="t" text-anchor="end">4.5</text><text x="11" y="255.7" class="t" text-anchor="end">4</text><text x="11" y="267.3" class="t" text-anchor="end">3.5</text><text x="11" y="280.3" class="t" text-anchor="end">3</text><text x="11" y="296.2" class="t" text-anchor="end">2.5</text><text x="11" y="314.4" class="t" text-anchor="end">2</text><text x="34.12" y="334" class="t" text-anchor="middle">2</text><text x="55.94" y="334" class="t" text-anchor="middle">4</text><text x="77.76" y="334" class="t" text-anchor="middle">6</text><text x="99.58" y="334" class="t" text-anchor="middle">8</text><text x="121.4" y="334" class="t" text-anchor="middle">10</text><text x="121.1" y="340.9" class="t" text-anchor="end">×10<tspan class="sup" dy="-1.8">4</tspan></text><path d="M153.1 245.7H262.2M153.1 248.3H262.2M153.1 250.9H262.2M153.1 253.5H262.2M153.1 256.1H262.2M153.1 258.7H262.2M153.1 261.3H262.2M153.1 263.9H262.2M153.1 266.5H262.2M153.1 269.1H262.2M153.1 271.7H262.2M153.1 274.3H262.2M153.1 276.9H262.2M153.1 279.5H262.2M153.1 282.1H262.2M153.1 284.7H262.2M153.1 287.3H262.2M153.1 289.9H262.2M153.1 292.5H262.2M153.1 295.1H262.2M153.1 297.7H262.2M153.1 300.3H262.2M153.1 302.9H262.2M153.1 305.5H262.2M153.1 308.1H262.2M153.1 310.7H262.2M153.1 313.3H262.2M153.1 315.9H262.2M153.1 318.5H262.2M153.1 321.1H262.2M153.1 323.7H262.2M153.1 326.3H262.2" stroke="#f4f4f4" stroke-width="0.6"/><path d="M158.56 243.4V328.1M164.01 243.4V328.1M169.47 243.4V328.1M174.92 243.4V328.1M180.38 243.4V328.1M185.83 243.4V328.1M191.28 243.4V328.1M196.74 243.4V328.1M202.19 243.4V328.1M207.65 243.4V328.1M213.1 243.4V328.1M218.56 243.4V328.1M224.01 243.4V328.1M229.47 243.4V328.1M234.93 243.4V328.1M240.38 243.4V328.1M245.83 243.4V328.1M251.29 243.4V328.1M256.75 243.4V328.1" stroke="#f3f3f3" stroke-width="0.6"/><path d="M174.92 243.4V328.1M196.74 243.4V328.1M218.56 243.4V328.1M240.38 243.4V328.1" stroke="#dedede" stroke-width="0.6" stroke-dasharray="1 0.6"/><rect x="153.1" y="243.4" width="109.1" height="84.7" fill="none" stroke="#858585" stroke-width="0.85"/><path d="M174.92 328.1v-1.2M174.92 243.4v1.2M196.74 328.1v-1.2M196.74 243.4v1.2M218.56 328.1v-1.2M218.56 243.4v1.2M240.38 328.1v-1.2M240.38 243.4v1.2M262.2 328.1v-1.2M262.2 243.4v1.2M153.1 260.4h1.2M262.2 260.4h-1.2M153.1 285.6h1.2M262.2 285.6h-1.2M153.1 309.3h1.2M262.2 309.3h-1.2" stroke="#555" stroke-width="0.6"/><g clip-path="url(#c10)"><polyline points="153.1,251.2 165.22,323.9 177.34,324.2 189.47,324 201.59,325.8 213.71,325.5 225.83,325.8 237.96,325.5 250.08,325.5 262.2,324.2" fill="none" stroke="#a61c3c" stroke-width="1.2" stroke-linejoin="round"/><path d="M153.1 248.9L155 251.2L153.1 253.5L151.2 251.2Z" fill="#a61c3c"/><path d="M165.22 321.6L167.12 323.9L165.22 326.2L163.32 323.9Z" fill="#a61c3c"/><path d="M177.34 321.9L179.24 324.2L177.34 326.5L175.44 324.2Z" fill="#a61c3c"/><path d="M189.47 321.7L191.37 324L189.47 326.3L187.57 324Z" fill="#a61c3c"/><path d="M201.59 323.5L203.49 325.8L201.59 328.1L199.69 325.8Z" fill="#a61c3c"/><path d="M213.71 323.2L215.61 325.5L213.71 327.8L211.81 325.5Z" fill="#a61c3c"/><path d="M225.83 323.5L227.73 325.8L225.83 328.1L223.93 325.8Z" fill="#a61c3c"/><path d="M237.96 323.2L239.86 325.5L237.96 327.8L236.06 325.5Z" fill="#a61c3c"/><path d="M250.08 323.2L251.98 325.5L250.08 327.8L248.18 325.5Z" fill="#a61c3c"/><path d="M262.2 321.9L264.1 324.2L262.2 326.5L260.3 324.2Z" fill="#a61c3c"/></g><g clip-path="url(#c10)"><polyline points="153.1,247 165.22,256.4 177.34,257 189.47,258.6 201.59,264.5 213.71,265.6 225.83,266.1 237.96,267.9 250.08,267.9 262.2,267.2" fill="none" stroke="#2f9ef0" stroke-width="1.2" stroke-linejoin="round"/><path d="M153.1 245.2V248.8" stroke="#2f9ef0" stroke-width="0.9"/><path d="M165.22 254.6V258.2" stroke="#2f9ef0" stroke-width="0.9"/><path d="M177.34 255.2V258.8" stroke="#2f9ef0" stroke-width="0.9"/><path d="M189.47 256.8V260.4" stroke="#2f9ef0" stroke-width="0.9"/><path d="M201.59 262.7V266.3" stroke="#2f9ef0" stroke-width="0.9"/><path d="M213.71 263.8V267.4" stroke="#2f9ef0" stroke-width="0.9"/><path d="M225.83 264.3V267.9" stroke="#2f9ef0" stroke-width="0.9"/><path d="M237.96 266.1V269.7" stroke="#2f9ef0" stroke-width="0.9"/><path d="M250.08 266.1V269.7" stroke="#2f9ef0" stroke-width="0.9"/><path d="M262.2 265.4V269" stroke="#2f9ef0" stroke-width="0.9"/></g><g clip-path="url(#c10)"><polyline points="153.1,247.7 165.22,318.7 177.34,318.7 189.47,318.7 201.59,318.7 213.71,318.7 225.83,318.7 237.96,318.7 250.08,318.7 262.2,318.7" fill="none" stroke="#3cb01e" stroke-width="1.2" stroke-linejoin="round"/><circle cx="153.1" cy="247.7" r="1.8" fill="#3cb01e"/><circle cx="165.22" cy="318.7" r="1.8" fill="#3cb01e"/><circle cx="177.34" cy="318.7" r="1.8" fill="#3cb01e"/><circle cx="189.47" cy="318.7" r="1.8" fill="#3cb01e"/><circle cx="201.59" cy="318.7" r="1.8" fill="#3cb01e"/><circle cx="213.71" cy="318.7" r="1.8" fill="#3cb01e"/><circle cx="225.83" cy="318.7" r="1.8" fill="#3cb01e"/><circle cx="237.96" cy="318.7" r="1.8" fill="#3cb01e"/><circle cx="250.08" cy="318.7" r="1.8" fill="#3cb01e"/><circle cx="262.2" cy="318.7" r="1.8" fill="#3cb01e"/></g><g clip-path="url(#c10)"><polyline points="153.1,243.5 165.22,324.6 177.34,325.8 189.47,326.3 201.59,326.5 213.71,326.5 225.83,326.8 237.96,326.3 250.08,326.5 262.2,325.8" fill="none" stroke="#7f2d9f" stroke-width="1.2" stroke-linejoin="round"/><path d="M151.8 242.2L154.4 244.8M151.8 244.8L154.4 242.2" stroke="#7f2d9f" stroke-width="1.3"/><path d="M163.92 323.3L166.52 325.9M163.92 325.9L166.52 323.3" stroke="#7f2d9f" stroke-width="1.3"/><path d="M176.04 324.5L178.64 327.1M176.04 327.1L178.64 324.5" stroke="#7f2d9f" stroke-width="1.3"/><path d="M188.17 325L190.77 327.6M188.17 327.6L190.77 325" stroke="#7f2d9f" stroke-width="1.3"/><path d="M200.29 325.2L202.89 327.8M200.29 327.8L202.89 325.2" stroke="#7f2d9f" stroke-width="1.3"/><path d="M212.41 325.2L215.01 327.8M212.41 327.8L215.01 325.2" stroke="#7f2d9f" stroke-width="1.3"/><path d="M224.53 325.5L227.13 328.1M224.53 328.1L227.13 325.5" stroke="#7f2d9f" stroke-width="1.3"/><path d="M236.66 325L239.26 327.6M236.66 327.6L239.26 325" stroke="#7f2d9f" stroke-width="1.3"/><path d="M248.78 325.2L251.38 327.8M248.78 327.8L251.38 325.2" stroke="#7f2d9f" stroke-width="1.3"/><path d="M260.9 324.5L263.5 327.1M260.9 327.1L263.5 324.5" stroke="#7f2d9f" stroke-width="1.3"/></g><g clip-path="url(#c10)"><polyline points="153.1,248.5 171.43,301.9 183.21,328.1 195.21,328.1 206.78,328.1 218.01,328.1 228.82,328.1 240.05,328.1 251.62,328.1 262.2,328.1" fill="none" stroke="#f1a71c" stroke-width="1.2" stroke-linejoin="round"/><rect x="151.6" y="247" width="3" height="3" fill="#f1a71c"/><rect x="169.93" y="300.4" width="3" height="3" fill="#f1a71c"/><rect x="181.71" y="326.6" width="3" height="3" fill="#f1a71c"/><rect x="193.71" y="326.6" width="3" height="3" fill="#f1a71c"/><rect x="205.28" y="326.6" width="3" height="3" fill="#f1a71c"/><rect x="216.51" y="326.6" width="3" height="3" fill="#f1a71c"/><rect x="227.32" y="326.6" width="3" height="3" fill="#f1a71c"/><rect x="238.55" y="326.6" width="3" height="3" fill="#f1a71c"/><rect x="250.12" y="326.6" width="3" height="3" fill="#f1a71c"/><rect x="260.7" y="326.6" width="3" height="3" fill="#f1a71c"/></g><text x="207.65" y="242.3" class="ti" text-anchor="middle">DTLZ1</text><text x="151.8" y="261.8" class="t" text-anchor="end">10<tspan class="sup" dy="-1.6">2</tspan></text><text x="151.8" y="287" class="t" text-anchor="end">10<tspan class="sup" dy="-1.6">1</tspan></text><text x="151.8" y="310.7" class="t" text-anchor="end">10<tspan class="sup" dy="-1.6">0</tspan></text><text x="174.92" y="334" class="t" text-anchor="middle">2</text><text x="196.74" y="334" class="t" text-anchor="middle">4</text><text x="218.56" y="334" class="t" text-anchor="middle">6</text><text x="240.38" y="334" class="t" text-anchor="middle">8</text><text x="262.2" y="334" class="t" text-anchor="middle">10</text><text x="261.9" y="340.9" class="t" text-anchor="end">×10<tspan class="sup" dy="-1.8">4</tspan></text><path d="M294 245.7H403.1M294 248.3H403.1M294 250.9H403.1M294 253.5H403.1M294 256.1H403.1M294 258.7H403.1M294 261.3H403.1M294 263.9H403.1M294 266.5H403.1M294 269.1H403.1M294 271.7H403.1M294 274.3H403.1M294 276.9H403.1M294 279.5H403.1M294 282.1H403.1M294 284.7H403.1M294 287.3H403.1M294 289.9H403.1M294 292.5H403.1M294 295.1H403.1M294 297.7H403.1M294 300.3H403.1M294 302.9H403.1M294 305.5H403.1M294 308.1H403.1M294 310.7H403.1M294 313.3H403.1M294 315.9H403.1M294 318.5H403.1M294 321.1H403.1M294 323.7H403.1M294 326.3H403.1" stroke="#f4f4f4" stroke-width="0.6"/><path d="M299.45 243.4V328.1M304.91 243.4V328.1M310.37 243.4V328.1M315.82 243.4V328.1M321.27 243.4V328.1M326.73 243.4V328.1M332.19 243.4V328.1M337.64 243.4V328.1M343.1 243.4V328.1M348.55 243.4V328.1M354 243.4V328.1M359.46 243.4V328.1M364.92 243.4V328.1M370.37 243.4V328.1M375.83 243.4V328.1M381.28 243.4V328.1M386.74 243.4V328.1M392.19 243.4V328.1M397.65 243.4V328.1" stroke="#f3f3f3" stroke-width="0.6"/><path d="M315.82 243.4V328.1M337.64 243.4V328.1M359.46 243.4V328.1M381.28 243.4V328.1" stroke="#dedede" stroke-width="0.6" stroke-dasharray="1 0.6"/><rect x="294" y="243.4" width="109.1" height="84.7" fill="none" stroke="#858585" stroke-width="0.85"/><path d="M315.82 328.1v-1.2M315.82 243.4v1.2M337.64 328.1v-1.2M337.64 243.4v1.2M359.46 328.1v-1.2M359.46 243.4v1.2M381.28 328.1v-1.2M381.28 243.4v1.2M403.1 328.1v-1.2M403.1 243.4v1.2M294 260.4h1.2M403.1 260.4h-1.2M294 285.6h1.2M403.1 285.6h-1.2M294 309.3h1.2M403.1 309.3h-1.2" stroke="#555" stroke-width="0.6"/><g clip-path="url(#c11)"><polyline points="294,251.2 306.12,323.9 318.24,324.2 330.37,324 342.49,325.8 354.61,325.5 366.73,325.8 378.86,325.5 390.98,325.5 403.1,324.2" fill="none" stroke="#a61c3c" stroke-width="1.2" stroke-linejoin="round"/><path d="M294 248.9L295.9 251.2L294 253.5L292.1 251.2Z" fill="#a61c3c"/><path d="M306.12 321.6L308.02 323.9L306.12 326.2L304.22 323.9Z" fill="#a61c3c"/><path d="M318.24 321.9L320.14 324.2L318.24 326.5L316.34 324.2Z" fill="#a61c3c"/><path d="M330.37 321.7L332.27 324L330.37 326.3L328.47 324Z" fill="#a61c3c"/><path d="M342.49 323.5L344.39 325.8L342.49 328.1L340.59 325.8Z" fill="#a61c3c"/><path d="M354.61 323.2L356.51 325.5L354.61 327.8L352.71 325.5Z" fill="#a61c3c"/><path d="M366.73 323.5L368.63 325.8L366.73 328.1L364.83 325.8Z" fill="#a61c3c"/><path d="M378.86 323.2L380.76 325.5L378.86 327.8L376.96 325.5Z" fill="#a61c3c"/><path d="M390.98 323.2L392.88 325.5L390.98 327.8L389.08 325.5Z" fill="#a61c3c"/><path d="M403.1 321.9L405 324.2L403.1 326.5L401.2 324.2Z" fill="#a61c3c"/></g><g clip-path="url(#c11)"><polyline points="294,247 306.12,256.4 318.24,257 330.37,258.6 342.49,264.5 354.61,265.6 366.73,266.1 378.86,267.9 390.98,267.9 403.1,267.2" fill="none" stroke="#2f9ef0" stroke-width="1.2" stroke-linejoin="round"/><path d="M294 245.2V248.8" stroke="#2f9ef0" stroke-width="0.9"/><path d="M306.12 254.6V258.2" stroke="#2f9ef0" stroke-width="0.9"/><path d="M318.24 255.2V258.8" stroke="#2f9ef0" stroke-width="0.9"/><path d="M330.37 256.8V260.4" stroke="#2f9ef0" stroke-width="0.9"/><path d="M342.49 262.7V266.3" stroke="#2f9ef0" stroke-width="0.9"/><path d="M354.61 263.8V267.4" stroke="#2f9ef0" stroke-width="0.9"/><path d="M366.73 264.3V267.9" stroke="#2f9ef0" stroke-width="0.9"/><path d="M378.86 266.1V269.7" stroke="#2f9ef0" stroke-width="0.9"/><path d="M390.98 266.1V269.7" stroke="#2f9ef0" stroke-width="0.9"/><path d="M403.1 265.4V269" stroke="#2f9ef0" stroke-width="0.9"/></g><g clip-path="url(#c11)"><polyline points="294,247.7 306.12,318.7 318.24,318.7 330.37,318.7 342.49,318.7 354.61,318.7 366.73,318.7 378.86,318.7 390.98,318.7 403.1,318.7" fill="none" stroke="#3cb01e" stroke-width="1.2" stroke-linejoin="round"/><circle cx="294" cy="247.7" r="1.8" fill="#3cb01e"/><circle cx="306.12" cy="318.7" r="1.8" fill="#3cb01e"/><circle cx="318.24" cy="318.7" r="1.8" fill="#3cb01e"/><circle cx="330.37" cy="318.7" r="1.8" fill="#3cb01e"/><circle cx="342.49" cy="318.7" r="1.8" fill="#3cb01e"/><circle cx="354.61" cy="318.7" r="1.8" fill="#3cb01e"/><circle cx="366.73" cy="318.7" r="1.8" fill="#3cb01e"/><circle cx="378.86" cy="318.7" r="1.8" fill="#3cb01e"/><circle cx="390.98" cy="318.7" r="1.8" fill="#3cb01e"/><circle cx="403.1" cy="318.7" r="1.8" fill="#3cb01e"/></g><g clip-path="url(#c11)"><polyline points="294,243.5 306.12,324.6 318.24,325.8 330.37,326.3 342.49,326.5 354.61,326.5 366.73,326.8 378.86,326.3 390.98,326.5 403.1,325.8" fill="none" stroke="#7f2d9f" stroke-width="1.2" stroke-linejoin="round"/><path d="M292.7 242.2L295.3 244.8M292.7 244.8L295.3 242.2" stroke="#7f2d9f" stroke-width="1.3"/><path d="M304.82 323.3L307.42 325.9M304.82 325.9L307.42 323.3" stroke="#7f2d9f" stroke-width="1.3"/><path d="M316.94 324.5L319.54 327.1M316.94 327.1L319.54 324.5" stroke="#7f2d9f" stroke-width="1.3"/><path d="M329.07 325L331.67 327.6M329.07 327.6L331.67 325" stroke="#7f2d9f" stroke-width="1.3"/><path d="M341.19 325.2L343.79 327.8M341.19 327.8L343.79 325.2" stroke="#7f2d9f" stroke-width="1.3"/><path d="M353.31 325.2L355.91 327.8M353.31 327.8L355.91 325.2" stroke="#7f2d9f" stroke-width="1.3"/><path d="M365.43 325.5L368.03 328.1M365.43 328.1L368.03 325.5" stroke="#7f2d9f" stroke-width="1.3"/><path d="M377.56 325L380.16 327.6M377.56 327.6L380.16 325" stroke="#7f2d9f" stroke-width="1.3"/><path d="M389.68 325.2L392.28 327.8M389.68 327.8L392.28 325.2" stroke="#7f2d9f" stroke-width="1.3"/><path d="M401.8 324.5L404.4 327.1M401.8 327.1L404.4 324.5" stroke="#7f2d9f" stroke-width="1.3"/></g><g clip-path="url(#c11)"><polyline points="294,248.5 312.33,301.9 324.11,328.1 336.11,328.1 347.68,328.1 358.91,328.1 369.72,328.1 380.95,328.1 392.52,328.1 403.1,328.1" fill="none" stroke="#f1a71c" stroke-width="1.2" stroke-linejoin="round"/><rect x="292.5" y="247" width="3" height="3" fill="#f1a71c"/><rect x="310.83" y="300.4" width="3" height="3" fill="#f1a71c"/><rect x="322.61" y="326.6" width="3" height="3" fill="#f1a71c"/><rect x="334.61" y="326.6" width="3" height="3" fill="#f1a71c"/><rect x="346.18" y="326.6" width="3" height="3" fill="#f1a71c"/><rect x="357.41" y="326.6" width="3" height="3" fill="#f1a71c"/><rect x="368.22" y="326.6" width="3" height="3" fill="#f1a71c"/><rect x="379.45" y="326.6" width="3" height="3" fill="#f1a71c"/><rect x="391.02" y="326.6" width="3" height="3" fill="#f1a71c"/><rect x="401.6" y="326.6" width="3" height="3" fill="#f1a71c"/></g><text x="348.55" y="242.3" class="ti" text-anchor="middle">DTLZ1</text><text x="292.7" y="261.8" class="t" text-anchor="end">10<tspan class="sup" dy="-1.6">2</tspan></text><text x="292.7" y="287" class="t" text-anchor="end">10<tspan class="sup" dy="-1.6">1</tspan></text><text x="292.7" y="310.7" class="t" text-anchor="end">10<tspan class="sup" dy="-1.6">0</tspan></text><text x="315.82" y="334" class="t" text-anchor="middle">2</text><text x="337.64" y="334" class="t" text-anchor="middle">4</text><text x="359.46" y="334" class="t" text-anchor="middle">6</text><text x="381.28" y="334" class="t" text-anchor="middle">8</text><text x="403.1" y="334" class="t" text-anchor="middle">10</text><text x="402.8" y="340.9" class="t" text-anchor="end">×10<tspan class="sup" dy="-1.8">4</tspan></text><path d="M434.5 245.7H544M434.5 248.3H544M434.5 250.9H544M434.5 253.5H544M434.5 256.1H544M434.5 258.7H544M434.5 261.3H544M434.5 263.9H544M434.5 266.5H544M434.5 269.1H544M434.5 271.7H544M434.5 274.3H544M434.5 276.9H544M434.5 279.5H544M434.5 282.1H544M434.5 284.7H544M434.5 287.3H544M434.5 289.9H544M434.5 292.5H544M434.5 295.1H544M434.5 297.7H544M434.5 300.3H544M434.5 302.9H544M434.5 305.5H544M434.5 308.1H544M434.5 310.7H544M434.5 313.3H544M434.5 315.9H544M434.5 318.5H544M434.5 321.1H544M434.5 323.7H544M434.5 326.3H544" stroke="#f4f4f4" stroke-width="0.6"/><path d="M439.98 243.4V328.1M445.45 243.4V328.1M450.93 243.4V328.1M456.4 243.4V328.1M461.88 243.4V328.1M467.35 243.4V328.1M472.82 243.4V328.1M478.3 243.4V328.1M483.77 243.4V328.1M489.25 243.4V328.1M494.73 243.4V328.1M500.2 243.4V328.1M505.68 243.4V328.1M511.15 243.4V328.1M516.62 243.4V328.1M522.1 243.4V328.1M527.58 243.4V328.1M533.05 243.4V328.1M538.52 243.4V328.1" stroke="#f3f3f3" stroke-width="0.6"/><path d="M456.4 243.4V328.1M478.3 243.4V328.1M500.2 243.4V328.1M522.1 243.4V328.1" stroke="#dedede" stroke-width="0.6" stroke-dasharray="1 0.6"/><rect x="434.5" y="243.4" width="109.5" height="84.7" fill="none" stroke="#858585" stroke-width="0.85"/><path d="M456.4 328.1v-1.2M456.4 243.4v1.2M478.3 328.1v-1.2M478.3 243.4v1.2M500.2 328.1v-1.2M500.2 243.4v1.2M522.1 328.1v-1.2M522.1 243.4v1.2M544 328.1v-1.2M544 243.4v1.2M434.5 268.8h1.2M544 268.8h-1.2M434.5 299h1.2M544 299h-1.2" stroke="#555" stroke-width="0.6"/><g clip-path="url(#c12)"><polyline points="434.5,245.2 446.67,321.8 458.83,322.5 471,322.9 483.17,323.6 495.33,323.6 507.5,323.4 519.67,323.6 531.83,323.6 544,322.9" fill="none" stroke="#a61c3c" stroke-width="1.2" stroke-linejoin="round"/><path d="M434.5 242.9L436.4 245.2L434.5 247.5L432.6 245.2Z" fill="#a61c3c"/><path d="M446.67 319.5L448.57 321.8L446.67 324.1L444.77 321.8Z" fill="#a61c3c"/><path d="M458.83 320.2L460.73 322.5L458.83 324.8L456.93 322.5Z" fill="#a61c3c"/><path d="M471 320.6L472.9 322.9L471 325.2L469.1 322.9Z" fill="#a61c3c"/><path d="M483.17 321.3L485.07 323.6L483.17 325.9L481.27 323.6Z" fill="#a61c3c"/><path d="M495.33 321.3L497.23 323.6L495.33 325.9L493.43 323.6Z" fill="#a61c3c"/><path d="M507.5 321.1L509.4 323.4L507.5 325.7L505.6 323.4Z" fill="#a61c3c"/><path d="M519.67 321.3L521.57 323.6L519.67 325.9L517.77 323.6Z" fill="#a61c3c"/><path d="M531.83 321.3L533.73 323.6L531.83 325.9L529.93 323.6Z" fill="#a61c3c"/><path d="M544 320.6L545.9 322.9L544 325.2L542.1 322.9Z" fill="#a61c3c"/></g><g clip-path="url(#c12)"><polyline points="434.5,243.4 446.67,274 458.83,274.5 471,274.3 483.17,276.3 495.33,276.3 507.5,276.3 519.67,277.5 531.83,277.5 544,277.5" fill="none" stroke="#2f9ef0" stroke-width="1.2" stroke-linejoin="round"/><path d="M434.5 241.6V245.2" stroke="#2f9ef0" stroke-width="0.9"/><path d="M446.67 272.2V275.8" stroke="#2f9ef0" stroke-width="0.9"/><path d="M458.83 272.7V276.3" stroke="#2f9ef0" stroke-width="0.9"/><path d="M471 272.5V276.1" stroke="#2f9ef0" stroke-width="0.9"/><path d="M483.17 274.5V278.1" stroke="#2f9ef0" stroke-width="0.9"/><path d="M495.33 274.5V278.1" stroke="#2f9ef0" stroke-width="0.9"/><path d="M507.5 274.5V278.1" stroke="#2f9ef0" stroke-width="0.9"/><path d="M519.67 275.7V279.3" stroke="#2f9ef0" stroke-width="0.9"/><path d="M531.83 275.7V279.3" stroke="#2f9ef0" stroke-width="0.9"/><path d="M544 275.7V279.3" stroke="#2f9ef0" stroke-width="0.9"/></g><g clip-path="url(#c12)"><polyline points="434.5,245.2 446.67,320.2 458.83,316 471,320.2 483.17,321.8 495.33,321.8 507.5,321.8 519.67,321.8 531.83,321.1 544,321.1" fill="none" stroke="#3cb01e" stroke-width="1.2" stroke-linejoin="round"/><circle cx="434.5" cy="245.2" r="1.8" fill="#3cb01e"/><circle cx="446.67" cy="320.2" r="1.8" fill="#3cb01e"/><circle cx="458.83" cy="316" r="1.8" fill="#3cb01e"/><circle cx="471" cy="320.2" r="1.8" fill="#3cb01e"/><circle cx="483.17" cy="321.8" r="1.8" fill="#3cb01e"/><circle cx="495.33" cy="321.8" r="1.8" fill="#3cb01e"/><circle cx="507.5" cy="321.8" r="1.8" fill="#3cb01e"/><circle cx="519.67" cy="321.8" r="1.8" fill="#3cb01e"/><circle cx="531.83" cy="321.1" r="1.8" fill="#3cb01e"/><circle cx="544" cy="321.1" r="1.8" fill="#3cb01e"/></g><g clip-path="url(#c12)"><polyline points="434.5,243.4 446.67,318.8 458.83,321.3 471,323.6 483.17,323.6 495.33,322.5 507.5,323.6 519.67,323.4 531.83,322.5 544,322.9" fill="none" stroke="#7f2d9f" stroke-width="1.2" stroke-linejoin="round"/><path d="M433.2 242.1L435.8 244.7M433.2 244.7L435.8 242.1" stroke="#7f2d9f" stroke-width="1.3"/><path d="M445.37 317.5L447.97 320.1M445.37 320.1L447.97 317.5" stroke="#7f2d9f" stroke-width="1.3"/><path d="M457.53 320L460.13 322.6M457.53 322.6L460.13 320" stroke="#7f2d9f" stroke-width="1.3"/><path d="M469.7 322.3L472.3 324.9M469.7 324.9L472.3 322.3" stroke="#7f2d9f" stroke-width="1.3"/><path d="M481.87 322.3L484.47 324.9M481.87 324.9L484.47 322.3" stroke="#7f2d9f" stroke-width="1.3"/><path d="M494.03 321.2L496.63 323.8M494.03 323.8L496.63 321.2" stroke="#7f2d9f" stroke-width="1.3"/><path d="M506.2 322.3L508.8 324.9M506.2 324.9L508.8 322.3" stroke="#7f2d9f" stroke-width="1.3"/><path d="M518.37 322.1L520.97 324.7M518.37 324.7L520.97 322.1" stroke="#7f2d9f" stroke-width="1.3"/><path d="M530.53 321.2L533.13 323.8M530.53 323.8L533.13 321.2" stroke="#7f2d9f" stroke-width="1.3"/><path d="M542.7 321.6L545.3 324.2M542.7 324.2L545.3 321.6" stroke="#7f2d9f" stroke-width="1.3"/></g><g clip-path="url(#c12)"><polyline points="434.5,245.2 446.67,317.9 458.83,319 471,319.5 483.17,320 495.33,320 507.5,320 519.67,320 531.83,319.5 544,319.5" fill="none" stroke="#f1a71c" stroke-width="1.2" stroke-linejoin="round"/><rect x="433" y="243.7" width="3" height="3" fill="#f1a71c"/><rect x="445.17" y="316.4" width="3" height="3" fill="#f1a71c"/><rect x="457.33" y="317.5" width="3" height="3" fill="#f1a71c"/><rect x="469.5" y="318" width="3" height="3" fill="#f1a71c"/><rect x="481.67" y="318.5" width="3" height="3" fill="#f1a71c"/><rect x="493.83" y="318.5" width="3" height="3" fill="#f1a71c"/><rect x="506" y="318.5" width="3" height="3" fill="#f1a71c"/><rect x="518.17" y="318.5" width="3" height="3" fill="#f1a71c"/><rect x="530.33" y="318" width="3" height="3" fill="#f1a71c"/><rect x="542.5" y="318" width="3" height="3" fill="#f1a71c"/></g><text x="489.25" y="242.3" class="ti" text-anchor="middle">DTLZ1</text><text x="433.2" y="270.2" class="t" text-anchor="end">10<tspan class="sup" dy="-1.6">1</tspan></text><text x="433.2" y="300.4" class="t" text-anchor="end">10<tspan class="sup" dy="-1.6">0</tspan></text><text x="456.4" y="334" class="t" text-anchor="middle">2</text><text x="478.3" y="334" class="t" text-anchor="middle">4</text><text x="500.2" y="334" class="t" text-anchor="middle">6</text><text x="522.1" y="334" class="t" text-anchor="middle">8</text><text x="544" y="334" class="t" text-anchor="middle">10</text><text x="543.7" y="340.9" class="t" text-anchor="end">×10<tspan class="sup" dy="-1.8">4</tspan></text><path d="M12.3 363.7H121.4M12.3 366.3H121.4M12.3 368.9H121.4M12.3 371.5H121.4M12.3 374.1H121.4M12.3 376.7H121.4M12.3 379.3H121.4M12.3 381.9H121.4M12.3 384.5H121.4M12.3 387.1H121.4M12.3 389.7H121.4M12.3 392.3H121.4M12.3 394.9H121.4M12.3 397.5H121.4M12.3 400.1H121.4M12.3 402.7H121.4M12.3 405.3H121.4M12.3 407.9H121.4M12.3 410.5H121.4M12.3 413.1H121.4M12.3 415.7H121.4M12.3 418.3H121.4M12.3 420.9H121.4M12.3 423.5H121.4M12.3 426.1H121.4M12.3 428.7H121.4M12.3 431.3H121.4M12.3 433.9H121.4M12.3 436.5H121.4M12.3 439.1H121.4M12.3 441.7H121.4M12.3 444.3H121.4" stroke="#f4f4f4" stroke-width="0.6"/><path d="M15.94 361.4V445.8M19.57 361.4V445.8M23.21 361.4V445.8M26.85 361.4V445.8M30.48 361.4V445.8M34.12 361.4V445.8M37.76 361.4V445.8M41.39 361.4V445.8M45.03 361.4V445.8M48.67 361.4V445.8M52.3 361.4V445.8M55.94 361.4V445.8M59.58 361.4V445.8M63.21 361.4V445.8M66.85 361.4V445.8M70.49 361.4V445.8M74.12 361.4V445.8M77.76 361.4V445.8M81.4 361.4V445.8M85.03 361.4V445.8M88.67 361.4V445.8M92.31 361.4V445.8M95.94 361.4V445.8M99.58 361.4V445.8M103.22 361.4V445.8M106.85 361.4V445.8M110.49 361.4V445.8M114.13 361.4V445.8M117.76 361.4V445.8" stroke="#f3f3f3" stroke-width="0.6"/><path d="M30.48 361.4V445.8M48.67 361.4V445.8M66.85 361.4V445.8M85.03 361.4V445.8M103.22 361.4V445.8" stroke="#dedede" stroke-width="0.6" stroke-dasharray="1 0.6"/><rect x="12.3" y="361.4" width="109.1" height="84.4" fill="none" stroke="#858585" stroke-width="0.85"/><path d="M30.48 445.8v-1.2M30.48 361.4v1.2M48.67 445.8v-1.2M48.67 361.4v1.2M66.85 445.8v-1.2M66.85 361.4v1.2M85.03 445.8v-1.2M85.03 361.4v1.2M103.22 445.8v-1.2M103.22 361.4v1.2M121.4 445.8v-1.2M121.4 361.4v1.2M12.3 366.6h1.2M121.4 366.6h-1.2M12.3 375.8h1.2M121.4 375.8h-1.2M12.3 384.8h1.2M121.4 384.8h-1.2M12.3 394.9h1.2M121.4 394.9h-1.2M12.3 406.1h1.2M121.4 406.1h-1.2M12.3 418.2h1.2M121.4 418.2h-1.2M12.3 432.8h1.2M121.4 432.8h-1.2" stroke="#555" stroke-width="0.6"/><g clip-path="url(#c13)"><polyline points="12.3,370.8 24.42,424.8 36.54,434.5 48.67,436.3 60.79,437.2 72.91,437.7 85.03,438.1 97.16,438.1 109.28,436 121.4,436.6" fill="none" stroke="#a61c3c" stroke-width="1.2" stroke-linejoin="round"/><path d="M12.3 368.5L14.2 370.8L12.3 373.1L10.4 370.8Z" fill="#a61c3c"/><path d="M24.42 422.5L26.32 424.8L24.42 427.1L22.52 424.8Z" fill="#a61c3c"/><path d="M36.54 432.2L38.44 434.5L36.54 436.8L34.64 434.5Z" fill="#a61c3c"/><path d="M48.67 434L50.57 436.3L48.67 438.6L46.77 436.3Z" fill="#a61c3c"/><path d="M60.79 434.9L62.69 437.2L60.79 439.5L58.89 437.2Z" fill="#a61c3c"/><path d="M72.91 435.4L74.81 437.7L72.91 440L71.01 437.7Z" fill="#a61c3c"/><path d="M85.03 435.8L86.93 438.1L85.03 440.4L83.13 438.1Z" fill="#a61c3c"/><path d="M97.16 435.8L99.06 438.1L97.16 440.4L95.26 438.1Z" fill="#a61c3c"/><path d="M109.28 433.7L111.18 436L109.28 438.3L107.38 436Z" fill="#a61c3c"/><path d="M121.4 434.3L123.3 436.6L121.4 438.9L119.5 436.6Z" fill="#a61c3c"/></g><g clip-path="url(#c13)"><polyline points="12.3,361.4 24.42,384.5 36.54,382.3 48.67,383.4 60.79,384.1 72.91,384.8 85.03,384.5 97.16,385.2 109.28,385.2 121.4,385.9" fill="none" stroke="#7a78ea" stroke-width="1.2" stroke-linejoin="round"/><path d="M12.3 359.6V363.2" stroke="#7a78ea" stroke-width="0.9"/><path d="M24.42 382.7V386.3" stroke="#7a78ea" stroke-width="0.9"/><path d="M36.54 380.5V384.1" stroke="#7a78ea" stroke-width="0.9"/><path d="M48.67 381.6V385.2" stroke="#7a78ea" stroke-width="0.9"/><path d="M60.79 382.3V385.9" stroke="#7a78ea" stroke-width="0.9"/><path d="M72.91 383V386.6" stroke="#7a78ea" stroke-width="0.9"/><path d="M85.03 382.7V386.3" stroke="#7a78ea" stroke-width="0.9"/><path d="M97.16 383.4V387" stroke="#7a78ea" stroke-width="0.9"/><path d="M109.28 383.4V387" stroke="#7a78ea" stroke-width="0.9"/><path d="M121.4 384.1V387.7" stroke="#7a78ea" stroke-width="0.9"/></g><g clip-path="url(#c13)"><polyline points="12.3,366.3 24.42,430 36.54,436 48.67,437.6 60.79,437.2 72.91,436.4 85.03,435.1 97.16,434.6 109.28,433.2 121.4,437.6" fill="none" stroke="#3cb01e" stroke-width="1.2" stroke-linejoin="round"/><circle cx="12.3" cy="366.3" r="1.8" fill="#3cb01e"/><circle cx="24.42" cy="430" r="1.8" fill="#3cb01e"/><circle cx="36.54" cy="436" r="1.8" fill="#3cb01e"/><circle cx="48.67" cy="437.6" r="1.8" fill="#3cb01e"/><circle cx="60.79" cy="437.2" r="1.8" fill="#3cb01e"/><circle cx="72.91" cy="436.4" r="1.8" fill="#3cb01e"/><circle cx="85.03" cy="435.1" r="1.8" fill="#3cb01e"/><circle cx="97.16" cy="434.6" r="1.8" fill="#3cb01e"/><circle cx="109.28" cy="433.2" r="1.8" fill="#3cb01e"/><circle cx="121.4" cy="437.6" r="1.8" fill="#3cb01e"/></g><g clip-path="url(#c13)"><polyline points="12.3,361.4 24.42,429.4 36.54,428.9 48.67,428.9 60.79,426 72.91,425.2 85.03,428.7 97.16,427.2 109.28,423.6 121.4,423.4" fill="none" stroke="#7f2d9f" stroke-width="1.2" stroke-linejoin="round"/><path d="M11 360.1L13.6 362.7M11 362.7L13.6 360.1" stroke="#7f2d9f" stroke-width="1.3"/><path d="M23.12 428.1L25.72 430.7M23.12 430.7L25.72 428.1" stroke="#7f2d9f" stroke-width="1.3"/><path d="M35.24 427.6L37.84 430.2M35.24 430.2L37.84 427.6" stroke="#7f2d9f" stroke-width="1.3"/><path d="M47.37 427.6L49.97 430.2M47.37 430.2L49.97 427.6" stroke="#7f2d9f" stroke-width="1.3"/><path d="M59.49 424.7L62.09 427.3M59.49 427.3L62.09 424.7" stroke="#7f2d9f" stroke-width="1.3"/><path d="M71.61 423.9L74.21 426.5M71.61 426.5L74.21 423.9" stroke="#7f2d9f" stroke-width="1.3"/><path d="M83.73 427.4L86.33 430M83.73 430L86.33 427.4" stroke="#7f2d9f" stroke-width="1.3"/><path d="M95.86 425.9L98.46 428.5M95.86 428.5L98.46 425.9" stroke="#7f2d9f" stroke-width="1.3"/><path d="M107.98 422.3L110.58 424.9M107.98 424.9L110.58 422.3" stroke="#7f2d9f" stroke-width="1.3"/><path d="M120.1 422.1L122.7 424.7M120.1 424.7L122.7 422.1" stroke="#7f2d9f" stroke-width="1.3"/></g><g clip-path="url(#c13)"><polyline points="12.3,371 30.63,423.6 42.41,441.5 54.41,443.3 65.98,445.3 77.21,445.5 88.02,445.5 99.25,445.7 110.82,444.3 121.4,440" fill="none" stroke="#f1a71c" stroke-width="1.2" stroke-linejoin="round"/><rect x="10.8" y="369.5" width="3" height="3" fill="#f1a71c"/><rect x="29.13" y="422.1" width="3" height="3" fill="#f1a71c"/><rect x="40.91" y="440" width="3" height="3" fill="#f1a71c"/><rect x="52.91" y="441.8" width="3" height="3" fill="#f1a71c"/><rect x="64.48" y="443.8" width="3" height="3" fill="#f1a71c"/><rect x="75.71" y="444" width="3" height="3" fill="#f1a71c"/><rect x="86.52" y="444" width="3" height="3" fill="#f1a71c"/><rect x="97.75" y="444.2" width="3" height="3" fill="#f1a71c"/><rect x="109.32" y="442.8" width="3" height="3" fill="#f1a71c"/><rect x="119.9" y="438.5" width="3" height="3" fill="#f1a71c"/></g><text x="66.85" y="360.3" class="ti" text-anchor="middle">DTLZ2</text><text x="11" y="368.3" class="t" text-anchor="end">1.3</text><text x="11" y="377.5" class="t" text-anchor="end">1.2</text><text x="11" y="386.5" class="t" text-anchor="end">1.1</text><text x="11" y="396.6" class="t" text-anchor="end">1</text><text x="11" y="407.8" class="t" text-anchor="end">0.9</text><text x="11" y="419.9" class="t" text-anchor="end">0.8</text><text x="11" y="434.5" class="t" text-anchor="end">0.7</text><text x="30.48" y="451.7" class="t" text-anchor="middle">0.5</text><text x="48.67" y="451.7" class="t" text-anchor="middle">1</text><text x="66.85" y="451.7" class="t" text-anchor="middle">1.5</text><text x="85.03" y="451.7" class="t" text-anchor="middle">2</text><text x="103.22" y="451.7" class="t" text-anchor="middle">2.5</text><text x="121.4" y="451.7" class="t" text-anchor="middle">3</text><text x="121.1" y="458.6" class="t" text-anchor="end">×10<tspan class="sup" dy="-1.8">4</tspan></text><path d="M153.1 363.7H262.2M153.1 366.3H262.2M153.1 368.9H262.2M153.1 371.5H262.2M153.1 374.1H262.2M153.1 376.7H262.2M153.1 379.3H262.2M153.1 381.9H262.2M153.1 384.5H262.2M153.1 387.1H262.2M153.1 389.7H262.2M153.1 392.3H262.2M153.1 394.9H262.2M153.1 397.5H262.2M153.1 400.1H262.2M153.1 402.7H262.2M153.1 405.3H262.2M153.1 407.9H262.2M153.1 410.5H262.2M153.1 413.1H262.2M153.1 415.7H262.2M153.1 418.3H262.2M153.1 420.9H262.2M153.1 423.5H262.2M153.1 426.1H262.2M153.1 428.7H262.2M153.1 431.3H262.2M153.1 433.9H262.2M153.1 436.5H262.2M153.1 439.1H262.2M153.1 441.7H262.2M153.1 444.3H262.2" stroke="#f4f4f4" stroke-width="0.6"/><path d="M156.74 361.4V445.8M160.37 361.4V445.8M164.01 361.4V445.8M167.65 361.4V445.8M171.28 361.4V445.8M174.92 361.4V445.8M178.56 361.4V445.8M182.19 361.4V445.8M185.83 361.4V445.8M189.47 361.4V445.8M193.1 361.4V445.8M196.74 361.4V445.8M200.38 361.4V445.8M204.01 361.4V445.8M207.65 361.4V445.8M211.29 361.4V445.8M214.92 361.4V445.8M218.56 361.4V445.8M222.2 361.4V445.8M225.83 361.4V445.8M229.47 361.4V445.8M233.11 361.4V445.8M236.74 361.4V445.8M240.38 361.4V445.8M244.02 361.4V445.8M247.65 361.4V445.8M251.29 361.4V445.8M254.93 361.4V445.8M258.56 361.4V445.8" stroke="#f3f3f3" stroke-width="0.6"/><path d="M171.28 361.4V445.8M189.47 361.4V445.8M207.65 361.4V445.8M225.83 361.4V445.8M244.02 361.4V445.8" stroke="#dedede" stroke-width="0.6" stroke-dasharray="1 0.6"/><rect x="153.1" y="361.4" width="109.1" height="84.4" fill="none" stroke="#858585" stroke-width="0.85"/><path d="M171.28 445.8v-1.2M171.28 361.4v1.2M189.47 445.8v-1.2M189.47 361.4v1.2M207.65 445.8v-1.2M207.65 361.4v1.2M225.83 445.8v-1.2M225.83 361.4v1.2M244.02 445.8v-1.2M244.02 361.4v1.2M262.2 445.8v-1.2M262.2 361.4v1.2M153.1 386.4h1.2M262.2 386.4h-1.2M153.1 414.8h1.2M262.2 414.8h-1.2M153.1 443.2h1.2M262.2 443.2h-1.2" stroke="#555" stroke-width="0.6"/><g clip-path="url(#c14)"><polyline points="153.1,364.6 165.22,394.8 177.34,403.1 189.47,407.8 201.59,412.7 213.71,415.1 225.83,418.5 237.96,422.3 250.08,428.7 262.2,435.6" fill="none" stroke="#a61c3c" stroke-width="1.2" stroke-linejoin="round"/><path d="M153.1 362.3L155 364.6L153.1 366.9L151.2 364.6Z" fill="#a61c3c"/><path d="M165.22 392.5L167.12 394.8L165.22 397.1L163.32 394.8Z" fill="#a61c3c"/><path d="M177.34 400.8L179.24 403.1L177.34 405.4L175.44 403.1Z" fill="#a61c3c"/><path d="M189.47 405.5L191.37 407.8L189.47 410.1L187.57 407.8Z" fill="#a61c3c"/><path d="M201.59 410.4L203.49 412.7L201.59 415L199.69 412.7Z" fill="#a61c3c"/><path d="M213.71 412.8L215.61 415.1L213.71 417.4L211.81 415.1Z" fill="#a61c3c"/><path d="M225.83 416.2L227.73 418.5L225.83 420.8L223.93 418.5Z" fill="#a61c3c"/><path d="M237.96 420L239.86 422.3L237.96 424.6L236.06 422.3Z" fill="#a61c3c"/><path d="M250.08 426.4L251.98 428.7L250.08 431L248.18 428.7Z" fill="#a61c3c"/><path d="M262.2 433.3L264.1 435.6L262.2 437.9L260.3 435.6Z" fill="#a61c3c"/></g><g clip-path="url(#c14)"><polyline points="153.1,363 165.22,380.2 177.34,379.5 189.47,379.5 201.59,379.5 213.71,379.5 225.83,384.5 237.96,391.4 250.08,391.4 262.2,385.7" fill="none" stroke="#2f9ef0" stroke-width="1.2" stroke-linejoin="round"/><path d="M153.1 361.2V364.8" stroke="#2f9ef0" stroke-width="0.9"/><path d="M165.22 378.4V382" stroke="#2f9ef0" stroke-width="0.9"/><path d="M177.34 377.7V381.3" stroke="#2f9ef0" stroke-width="0.9"/><path d="M189.47 377.7V381.3" stroke="#2f9ef0" stroke-width="0.9"/><path d="M201.59 377.7V381.3" stroke="#2f9ef0" stroke-width="0.9"/><path d="M213.71 377.7V381.3" stroke="#2f9ef0" stroke-width="0.9"/><path d="M225.83 382.7V386.3" stroke="#2f9ef0" stroke-width="0.9"/><path d="M237.96 389.6V393.2" stroke="#2f9ef0" stroke-width="0.9"/><path d="M250.08 389.6V393.2" stroke="#2f9ef0" stroke-width="0.9"/><path d="M262.2 383.9V387.5" stroke="#2f9ef0" stroke-width="0.9"/></g><g clip-path="url(#c14)"><polyline points="153.1,370.2 165.22,394.8 177.34,401.6 189.47,404.8 201.59,410.3 213.71,412.6 225.83,428.7 237.96,431.2 250.08,444.9 262.2,445.4" fill="none" stroke="#3cb01e" stroke-width="1.2" stroke-linejoin="round"/><circle cx="153.1" cy="370.2" r="1.8" fill="#3cb01e"/><circle cx="165.22" cy="394.8" r="1.8" fill="#3cb01e"/><circle cx="177.34" cy="401.6" r="1.8" fill="#3cb01e"/><circle cx="189.47" cy="404.8" r="1.8" fill="#3cb01e"/><circle cx="201.59" cy="410.3" r="1.8" fill="#3cb01e"/><circle cx="213.71" cy="412.6" r="1.8" fill="#3cb01e"/><circle cx="225.83" cy="428.7" r="1.8" fill="#3cb01e"/><circle cx="237.96" cy="431.2" r="1.8" fill="#3cb01e"/><circle cx="250.08" cy="444.9" r="1.8" fill="#3cb01e"/><circle cx="262.2" cy="445.4" r="1.8" fill="#3cb01e"/></g><g clip-path="url(#c14)"><polyline points="153.1,361.7 165.22,394.3 177.34,400.6 189.47,403.3 201.59,403.3 213.71,403.3 225.83,403.3 237.96,405.4 250.08,405.5 262.2,405.8" fill="none" stroke="#7f2d9f" stroke-width="1.2" stroke-linejoin="round"/><path d="M151.8 360.4L154.4 363M151.8 363L154.4 360.4" stroke="#7f2d9f" stroke-width="1.3"/><path d="M163.92 393L166.52 395.6M163.92 395.6L166.52 393" stroke="#7f2d9f" stroke-width="1.3"/><path d="M176.04 399.3L178.64 401.9M176.04 401.9L178.64 399.3" stroke="#7f2d9f" stroke-width="1.3"/><path d="M188.17 402L190.77 404.6M188.17 404.6L190.77 402" stroke="#7f2d9f" stroke-width="1.3"/><path d="M200.29 402L202.89 404.6M200.29 404.6L202.89 402" stroke="#7f2d9f" stroke-width="1.3"/><path d="M212.41 402L215.01 404.6M212.41 404.6L215.01 402" stroke="#7f2d9f" stroke-width="1.3"/><path d="M224.53 402L227.13 404.6M224.53 404.6L227.13 402" stroke="#7f2d9f" stroke-width="1.3"/><path d="M236.66 404.1L239.26 406.7M236.66 406.7L239.26 404.1" stroke="#7f2d9f" stroke-width="1.3"/><path d="M248.78 404.2L251.38 406.8M248.78 406.8L251.38 404.2" stroke="#7f2d9f" stroke-width="1.3"/><path d="M260.9 404.5L263.5 407.1M260.9 407.1L263.5 404.5" stroke="#7f2d9f" stroke-width="1.3"/></g><g clip-path="url(#c14)"><polyline points="153.1,367.8 171.43,378.6 183.21,395.3 195.21,410 206.78,421.4 218.01,426.1 228.82,427 240.05,431.2 251.62,436.9 262.2,445.4" fill="none" stroke="#f1a71c" stroke-width="1.2" stroke-linejoin="round"/><rect x="151.6" y="366.3" width="3" height="3" fill="#f1a71c"/><rect x="169.93" y="377.1" width="3" height="3" fill="#f1a71c"/><rect x="181.71" y="393.8" width="3" height="3" fill="#f1a71c"/><rect x="193.71" y="408.5" width="3" height="3" fill="#f1a71c"/><rect x="205.28" y="419.9" width="3" height="3" fill="#f1a71c"/><rect x="216.51" y="424.6" width="3" height="3" fill="#f1a71c"/><rect x="227.32" y="425.5" width="3" height="3" fill="#f1a71c"/><rect x="238.55" y="429.7" width="3" height="3" fill="#f1a71c"/><rect x="250.12" y="435.4" width="3" height="3" fill="#f1a71c"/><rect x="260.7" y="443.9" width="3" height="3" fill="#f1a71c"/></g><text x="207.65" y="360.3" class="ti" text-anchor="middle">DTLZ3</text><text x="151.8" y="387.8" class="t" text-anchor="end">10<tspan class="sup" dy="-1.6">2</tspan></text><text x="151.8" y="416.2" class="t" text-anchor="end">10<tspan class="sup" dy="-1.6">1</tspan></text><text x="151.8" y="444.6" class="t" text-anchor="end">10<tspan class="sup" dy="-1.6">0</tspan></text><text x="171.28" y="451.7" class="t" text-anchor="middle">0.5</text><text x="189.47" y="451.7" class="t" text-anchor="middle">1</text><text x="207.65" y="451.7" class="t" text-anchor="middle">1.5</text><text x="225.83" y="451.7" class="t" text-anchor="middle">2</text><text x="244.02" y="451.7" class="t" text-anchor="middle">2.5</text><text x="262.2" y="451.7" class="t" text-anchor="middle">3</text><text x="261.9" y="458.6" class="t" text-anchor="end">×10<tspan class="sup" dy="-1.8">4</tspan></text><path d="M294 363.7H403.1M294 366.3H403.1M294 368.9H403.1M294 371.5H403.1M294 374.1H403.1M294 376.7H403.1M294 379.3H403.1M294 381.9H403.1M294 384.5H403.1M294 387.1H403.1M294 389.7H403.1M294 392.3H403.1M294 394.9H403.1M294 397.5H403.1M294 400.1H403.1M294 402.7H403.1M294 405.3H403.1M294 407.9H403.1M294 410.5H403.1M294 413.1H403.1M294 415.7H403.1M294 418.3H403.1M294 420.9H403.1M294 423.5H403.1M294 426.1H403.1M294 428.7H403.1M294 431.3H403.1M294 433.9H403.1M294 436.5H403.1M294 439.1H403.1M294 441.7H403.1M294 444.3H403.1" stroke="#f4f4f4" stroke-width="0.6"/><path d="M297.64 361.4V445.8M301.27 361.4V445.8M304.91 361.4V445.8M308.55 361.4V445.8M312.18 361.4V445.8M315.82 361.4V445.8M319.46 361.4V445.8M323.09 361.4V445.8M326.73 361.4V445.8M330.37 361.4V445.8M334 361.4V445.8M337.64 361.4V445.8M341.28 361.4V445.8M344.91 361.4V445.8M348.55 361.4V445.8M352.19 361.4V445.8M355.82 361.4V445.8M359.46 361.4V445.8M363.1 361.4V445.8M366.73 361.4V445.8M370.37 361.4V445.8M374.01 361.4V445.8M377.64 361.4V445.8M381.28 361.4V445.8M384.92 361.4V445.8M388.55 361.4V445.8M392.19 361.4V445.8M395.83 361.4V445.8M399.46 361.4V445.8" stroke="#f3f3f3" stroke-width="0.6"/><path d="M312.18 361.4V445.8M330.37 361.4V445.8M348.55 361.4V445.8M366.73 361.4V445.8M384.92 361.4V445.8" stroke="#dedede" stroke-width="0.6" stroke-dasharray="1 0.6"/><rect x="294" y="361.4" width="109.1" height="84.4" fill="none" stroke="#858585" stroke-width="0.85"/><path d="M312.18 445.8v-1.2M312.18 361.4v1.2M330.37 445.8v-1.2M330.37 361.4v1.2M348.55 445.8v-1.2M348.55 361.4v1.2M366.73 445.8v-1.2M366.73 361.4v1.2M384.92 445.8v-1.2M384.92 361.4v1.2M403.1 445.8v-1.2M403.1 361.4v1.2M294 367h1.2M403.1 367h-1.2M294 375.5h1.2M403.1 375.5h-1.2M294 383.6h1.2M403.1 383.6h-1.2M294 392.5h1.2M403.1 392.5h-1.2M294 402.7h1.2M403.1 402.7h-1.2M294 413.2h1.2M403.1 413.2h-1.2M294 425.5h1.2M403.1 425.5h-1.2M294 439.3h1.2M403.1 439.3h-1.2" stroke="#555" stroke-width="0.6"/><g clip-path="url(#c15)"><polyline points="294,379.1 306.12,432 318.24,436.5 330.37,437.2 342.49,437.5 354.61,437.5 366.73,437 378.86,438 390.98,438.6 403.1,438.6" fill="none" stroke="#a61c3c" stroke-width="1.2" stroke-linejoin="round"/><path d="M294 376.8L295.9 379.1L294 381.4L292.1 379.1Z" fill="#a61c3c"/><path d="M306.12 429.7L308.02 432L306.12 434.3L304.22 432Z" fill="#a61c3c"/><path d="M318.24 434.2L320.14 436.5L318.24 438.8L316.34 436.5Z" fill="#a61c3c"/><path d="M330.37 434.9L332.27 437.2L330.37 439.5L328.47 437.2Z" fill="#a61c3c"/><path d="M342.49 435.2L344.39 437.5L342.49 439.8L340.59 437.5Z" fill="#a61c3c"/><path d="M354.61 435.2L356.51 437.5L354.61 439.8L352.71 437.5Z" fill="#a61c3c"/><path d="M366.73 434.7L368.63 437L366.73 439.3L364.83 437Z" fill="#a61c3c"/><path d="M378.86 435.7L380.76 438L378.86 440.3L376.96 438Z" fill="#a61c3c"/><path d="M390.98 436.3L392.88 438.6L390.98 440.9L389.08 438.6Z" fill="#a61c3c"/><path d="M403.1 436.3L405 438.6L403.1 440.9L401.2 438.6Z" fill="#a61c3c"/></g><g clip-path="url(#c15)"><polyline points="294,373 306.12,402.3 318.24,417.8 330.37,418.6 342.49,419.5 354.61,420 366.73,420.9 378.86,421.4 390.98,422.7 403.1,423.9" fill="none" stroke="#2f9ef0" stroke-width="1.2" stroke-linejoin="round"/><path d="M294 371.2V374.8" stroke="#2f9ef0" stroke-width="0.9"/><path d="M306.12 400.5V404.1" stroke="#2f9ef0" stroke-width="0.9"/><path d="M318.24 416V419.6" stroke="#2f9ef0" stroke-width="0.9"/><path d="M330.37 416.8V420.4" stroke="#2f9ef0" stroke-width="0.9"/><path d="M342.49 417.7V421.3" stroke="#2f9ef0" stroke-width="0.9"/><path d="M354.61 418.2V421.8" stroke="#2f9ef0" stroke-width="0.9"/><path d="M366.73 419.1V422.7" stroke="#2f9ef0" stroke-width="0.9"/><path d="M378.86 419.6V423.2" stroke="#2f9ef0" stroke-width="0.9"/><path d="M390.98 420.9V424.5" stroke="#2f9ef0" stroke-width="0.9"/><path d="M403.1 422.1V425.7" stroke="#2f9ef0" stroke-width="0.9"/></g><g clip-path="url(#c15)"><polyline points="294,363.3 306.12,424.4 318.24,424.5 330.37,425 342.49,424.5 354.61,425 366.73,425 378.86,425 390.98,425 403.1,425.5" fill="none" stroke="#3cb01e" stroke-width="1.2" stroke-linejoin="round"/><circle cx="294" cy="363.3" r="1.8" fill="#3cb01e"/><circle cx="306.12" cy="424.4" r="1.8" fill="#3cb01e"/><circle cx="318.24" cy="424.5" r="1.8" fill="#3cb01e"/><circle cx="330.37" cy="425" r="1.8" fill="#3cb01e"/><circle cx="342.49" cy="424.5" r="1.8" fill="#3cb01e"/><circle cx="354.61" cy="425" r="1.8" fill="#3cb01e"/><circle cx="366.73" cy="425" r="1.8" fill="#3cb01e"/><circle cx="378.86" cy="425" r="1.8" fill="#3cb01e"/><circle cx="390.98" cy="425" r="1.8" fill="#3cb01e"/><circle cx="403.1" cy="425.5" r="1.8" fill="#3cb01e"/></g><g clip-path="url(#c15)"><polyline points="294,361.4 306.12,429.1 318.24,430.7 330.37,431.1 342.49,430 354.61,432.3 366.73,430.2 378.86,431.4 390.98,430.9 403.1,431.1" fill="none" stroke="#7f2d9f" stroke-width="1.2" stroke-linejoin="round"/><path d="M292.7 360.1L295.3 362.7M292.7 362.7L295.3 360.1" stroke="#7f2d9f" stroke-width="1.3"/><path d="M304.82 427.8L307.42 430.4M304.82 430.4L307.42 427.8" stroke="#7f2d9f" stroke-width="1.3"/><path d="M316.94 429.4L319.54 432M316.94 432L319.54 429.4" stroke="#7f2d9f" stroke-width="1.3"/><path d="M329.07 429.8L331.67 432.4M329.07 432.4L331.67 429.8" stroke="#7f2d9f" stroke-width="1.3"/><path d="M341.19 428.7L343.79 431.3M341.19 431.3L343.79 428.7" stroke="#7f2d9f" stroke-width="1.3"/><path d="M353.31 431L355.91 433.6M353.31 433.6L355.91 431" stroke="#7f2d9f" stroke-width="1.3"/><path d="M365.43 428.9L368.03 431.5M365.43 431.5L368.03 428.9" stroke="#7f2d9f" stroke-width="1.3"/><path d="M377.56 430.1L380.16 432.7M377.56 432.7L380.16 430.1" stroke="#7f2d9f" stroke-width="1.3"/><path d="M389.68 429.6L392.28 432.2M389.68 432.2L392.28 429.6" stroke="#7f2d9f" stroke-width="1.3"/><path d="M401.8 429.8L404.4 432.4M401.8 432.4L404.4 429.8" stroke="#7f2d9f" stroke-width="1.3"/></g><g clip-path="url(#c15)"><polyline points="294,375 312.33,428.2 324.11,445.6 336.11,442.4 347.68,443.6 358.91,441.4 369.72,440.5 380.95,444.3 392.52,443.6 403.1,443.2" fill="none" stroke="#f1a71c" stroke-width="1.2" stroke-linejoin="round"/><rect x="292.5" y="373.5" width="3" height="3" fill="#f1a71c"/><rect x="310.83" y="426.7" width="3" height="3" fill="#f1a71c"/><rect x="322.61" y="444.1" width="3" height="3" fill="#f1a71c"/><rect x="334.61" y="440.9" width="3" height="3" fill="#f1a71c"/><rect x="346.18" y="442.1" width="3" height="3" fill="#f1a71c"/><rect x="357.41" y="439.9" width="3" height="3" fill="#f1a71c"/><rect x="368.22" y="439" width="3" height="3" fill="#f1a71c"/><rect x="379.45" y="442.8" width="3" height="3" fill="#f1a71c"/><rect x="391.02" y="442.1" width="3" height="3" fill="#f1a71c"/><rect x="401.6" y="441.7" width="3" height="3" fill="#f1a71c"/></g><text x="348.55" y="360.3" class="ti" text-anchor="middle">DTLZ4</text><text x="292.7" y="368.7" class="t" text-anchor="end">1.4</text><text x="292.7" y="377.2" class="t" text-anchor="end">1.3</text><text x="292.7" y="385.3" class="t" text-anchor="end">1.2</text><text x="292.7" y="394.2" class="t" text-anchor="end">1.1</text><text x="292.7" y="404.4" class="t" text-anchor="end">1</text><text x="292.7" y="414.9" class="t" text-anchor="end">0.9</text><text x="292.7" y="427.2" class="t" text-anchor="end">0.8</text><text x="292.7" y="441" class="t" text-anchor="end">0.7</text><text x="312.18" y="451.7" class="t" text-anchor="middle">0.5</text><text x="330.37" y="451.7" class="t" text-anchor="middle">1</text><text x="348.55" y="451.7" class="t" text-anchor="middle">1.5</text><text x="366.73" y="451.7" class="t" text-anchor="middle">2</text><text x="384.92" y="451.7" class="t" text-anchor="middle">2.5</text><text x="403.1" y="451.7" class="t" text-anchor="middle">3</text><text x="402.8" y="458.6" class="t" text-anchor="end">×10<tspan class="sup" dy="-1.8">4</tspan></text><path d="M434.5 363.7H544M434.5 366.3H544M434.5 368.9H544M434.5 371.5H544M434.5 374.1H544M434.5 376.7H544M434.5 379.3H544M434.5 381.9H544M434.5 384.5H544M434.5 387.1H544M434.5 389.7H544M434.5 392.3H544M434.5 394.9H544M434.5 397.5H544M434.5 400.1H544M434.5 402.7H544M434.5 405.3H544M434.5 407.9H544M434.5 410.5H544M434.5 413.1H544M434.5 415.7H544M434.5 418.3H544M434.5 420.9H544M434.5 423.5H544M434.5 426.1H544M434.5 428.7H544M434.5 431.3H544M434.5 433.9H544M434.5 436.5H544M434.5 439.1H544M434.5 441.7H544M434.5 444.3H544" stroke="#f4f4f4" stroke-width="0.6"/><path d="M438.15 361.4V445.8M441.8 361.4V445.8M445.45 361.4V445.8M449.1 361.4V445.8M452.75 361.4V445.8M456.4 361.4V445.8M460.05 361.4V445.8M463.7 361.4V445.8M467.35 361.4V445.8M471 361.4V445.8M474.65 361.4V445.8M478.3 361.4V445.8M481.95 361.4V445.8M485.6 361.4V445.8M489.25 361.4V445.8M492.9 361.4V445.8M496.55 361.4V445.8M500.2 361.4V445.8M503.85 361.4V445.8M507.5 361.4V445.8M511.15 361.4V445.8M514.8 361.4V445.8M518.45 361.4V445.8M522.1 361.4V445.8M525.75 361.4V445.8M529.4 361.4V445.8M533.05 361.4V445.8M536.7 361.4V445.8M540.35 361.4V445.8" stroke="#f3f3f3" stroke-width="0.6"/><path d="M452.75 361.4V445.8M471 361.4V445.8M489.25 361.4V445.8M507.5 361.4V445.8M525.75 361.4V445.8" stroke="#dedede" stroke-width="0.6" stroke-dasharray="1 0.6"/><rect x="434.5" y="361.4" width="109.5" height="84.4" fill="none" stroke="#858585" stroke-width="0.85"/><path d="M452.75 445.8v-1.2M452.75 361.4v1.2M471 445.8v-1.2M471 361.4v1.2M489.25 445.8v-1.2M489.25 361.4v1.2M507.5 445.8v-1.2M507.5 361.4v1.2M525.75 445.8v-1.2M525.75 361.4v1.2M544 445.8v-1.2M544 361.4v1.2M434.5 366.6h1.2M544 366.6h-1.2M434.5 373.9h1.2M544 373.9h-1.2M434.5 384.1h1.2M544 384.1h-1.2M434.5 395.5h1.2M544 395.5h-1.2M434.5 413h1.2M544 413h-1.2M434.5 442h1.2M544 442h-1.2" stroke="#555" stroke-width="0.6"/><g clip-path="url(#c16)"><polyline points="434.5,385.7 446.67,412.5 458.83,442 471,444.8 483.17,415.5 495.33,445 507.5,440.9 519.67,419.3 531.83,401.8 544,440.9" fill="none" stroke="#a61c3c" stroke-width="1.2" stroke-linejoin="round"/><path d="M434.5 383.4L436.4 385.7L434.5 388L432.6 385.7Z" fill="#a61c3c"/><path d="M446.67 410.2L448.57 412.5L446.67 414.8L444.77 412.5Z" fill="#a61c3c"/><path d="M458.83 439.7L460.73 442L458.83 444.3L456.93 442Z" fill="#a61c3c"/><path d="M471 442.5L472.9 444.8L471 447.1L469.1 444.8Z" fill="#a61c3c"/><path d="M483.17 413.2L485.07 415.5L483.17 417.8L481.27 415.5Z" fill="#a61c3c"/><path d="M495.33 442.7L497.23 445L495.33 447.3L493.43 445Z" fill="#a61c3c"/><path d="M507.5 438.6L509.4 440.9L507.5 443.2L505.6 440.9Z" fill="#a61c3c"/><path d="M519.67 417L521.57 419.3L519.67 421.6L517.77 419.3Z" fill="#a61c3c"/><path d="M531.83 399.5L533.73 401.8L531.83 404.1L529.93 401.8Z" fill="#a61c3c"/><path d="M544 438.6L545.9 440.9L544 443.2L542.1 440.9Z" fill="#a61c3c"/></g><g clip-path="url(#c16)"><polyline points="434.5,376.8 446.67,417 458.83,406.4 471,404.5 483.17,404.1 495.33,404.1 507.5,404.1 519.67,404.5 531.83,405.7 544,404.1" fill="none" stroke="#2f9ef0" stroke-width="1.2" stroke-linejoin="round"/><path d="M434.5 375V378.6" stroke="#2f9ef0" stroke-width="0.9"/><path d="M446.67 415.2V418.8" stroke="#2f9ef0" stroke-width="0.9"/><path d="M458.83 404.6V408.2" stroke="#2f9ef0" stroke-width="0.9"/><path d="M471 402.7V406.3" stroke="#2f9ef0" stroke-width="0.9"/><path d="M483.17 402.3V405.9" stroke="#2f9ef0" stroke-width="0.9"/><path d="M495.33 402.3V405.9" stroke="#2f9ef0" stroke-width="0.9"/><path d="M507.5 402.3V405.9" stroke="#2f9ef0" stroke-width="0.9"/><path d="M519.67 402.7V406.3" stroke="#2f9ef0" stroke-width="0.9"/><path d="M531.83 403.9V407.5" stroke="#2f9ef0" stroke-width="0.9"/><path d="M544 402.3V405.9" stroke="#2f9ef0" stroke-width="0.9"/></g><g clip-path="url(#c16)"><polyline points="434.5,383.6 446.67,409.5 458.83,406.4 471,404.5 483.17,404.5 495.33,406.1 507.5,406.4 519.67,404.5 531.83,404.5 544,404.5" fill="none" stroke="#3cb01e" stroke-width="1.2" stroke-linejoin="round"/><circle cx="434.5" cy="383.6" r="1.8" fill="#3cb01e"/><circle cx="446.67" cy="409.5" r="1.8" fill="#3cb01e"/><circle cx="458.83" cy="406.4" r="1.8" fill="#3cb01e"/><circle cx="471" cy="404.5" r="1.8" fill="#3cb01e"/><circle cx="483.17" cy="404.5" r="1.8" fill="#3cb01e"/><circle cx="495.33" cy="406.1" r="1.8" fill="#3cb01e"/><circle cx="507.5" cy="406.4" r="1.8" fill="#3cb01e"/><circle cx="519.67" cy="404.5" r="1.8" fill="#3cb01e"/><circle cx="531.83" cy="404.5" r="1.8" fill="#3cb01e"/><circle cx="544" cy="404.5" r="1.8" fill="#3cb01e"/></g><g clip-path="url(#c16)"><polyline points="434.5,366.6 446.67,402.7 458.83,388 471,389.1 483.17,401.1 495.33,398.9 507.5,375 519.67,384.1 531.83,361.4 544,397.3" fill="none" stroke="#7f2d9f" stroke-width="1.2" stroke-linejoin="round"/><path d="M433.2 365.3L435.8 367.9M433.2 367.9L435.8 365.3" stroke="#7f2d9f" stroke-width="1.3"/><path d="M445.37 401.4L447.97 404M445.37 404L447.97 401.4" stroke="#7f2d9f" stroke-width="1.3"/><path d="M457.53 386.7L460.13 389.3M457.53 389.3L460.13 386.7" stroke="#7f2d9f" stroke-width="1.3"/><path d="M469.7 387.8L472.3 390.4M469.7 390.4L472.3 387.8" stroke="#7f2d9f" stroke-width="1.3"/><path d="M481.87 399.8L484.47 402.4M481.87 402.4L484.47 399.8" stroke="#7f2d9f" stroke-width="1.3"/><path d="M494.03 397.6L496.63 400.2M494.03 400.2L496.63 397.6" stroke="#7f2d9f" stroke-width="1.3"/><path d="M506.2 373.7L508.8 376.3M506.2 376.3L508.8 373.7" stroke="#7f2d9f" stroke-width="1.3"/><path d="M518.37 382.8L520.97 385.4M518.37 385.4L520.97 382.8" stroke="#7f2d9f" stroke-width="1.3"/><path d="M530.53 360.1L533.13 362.7M530.53 362.7L533.13 360.1" stroke="#7f2d9f" stroke-width="1.3"/><path d="M542.7 396L545.3 398.6M542.7 398.6L545.3 396" stroke="#7f2d9f" stroke-width="1.3"/></g><g clip-path="url(#c16)"><polyline points="434.5,379.1 446.67,398.2 458.83,402.3 471,413 483.17,413.6 495.33,423.4 507.5,424.5 519.67,421.1 531.83,429.5 544,429.1" fill="none" stroke="#f1a71c" stroke-width="1.2" stroke-linejoin="round"/><rect x="433" y="377.6" width="3" height="3" fill="#f1a71c"/><rect x="445.17" y="396.7" width="3" height="3" fill="#f1a71c"/><rect x="457.33" y="400.8" width="3" height="3" fill="#f1a71c"/><rect x="469.5" y="411.5" width="3" height="3" fill="#f1a71c"/><rect x="481.67" y="412.1" width="3" height="3" fill="#f1a71c"/><rect x="493.83" y="421.9" width="3" height="3" fill="#f1a71c"/><rect x="506" y="423" width="3" height="3" fill="#f1a71c"/><rect x="518.17" y="419.6" width="3" height="3" fill="#f1a71c"/><rect x="530.33" y="428" width="3" height="3" fill="#f1a71c"/><rect x="542.5" y="427.6" width="3" height="3" fill="#f1a71c"/></g><text x="489.25" y="360.3" class="ti" text-anchor="middle">DTLZ5</text><text x="433.2" y="368.3" class="t" text-anchor="end">0.6</text><text x="433.2" y="375.6" class="t" text-anchor="end">0.5</text><text x="433.2" y="385.8" class="t" text-anchor="end">0.4</text><text x="433.2" y="397.2" class="t" text-anchor="end">0.3</text><text x="433.2" y="414.7" class="t" text-anchor="end">0.2</text><text x="433.2" y="443.7" class="t" text-anchor="end">0.1</text><text x="452.75" y="451.7" class="t" text-anchor="middle">0.5</text><text x="471" y="451.7" class="t" text-anchor="middle">1</text><text x="489.25" y="451.7" class="t" text-anchor="middle">1.5</text><text x="507.5" y="451.7" class="t" text-anchor="middle">2</text><text x="525.75" y="451.7" class="t" text-anchor="middle">2.5</text><text x="544" y="451.7" class="t" text-anchor="middle">3</text><text x="543.7" y="458.6" class="t" text-anchor="end">×10<tspan class="sup" dy="-1.8">4</tspan></text><path d="M12.3 494.8H121.4M12.3 497.4H121.4M12.3 500H121.4M12.3 502.6H121.4M12.3 505.2H121.4M12.3 507.8H121.4M12.3 510.4H121.4M12.3 513H121.4M12.3 515.6H121.4M12.3 518.2H121.4M12.3 520.8H121.4M12.3 523.4H121.4M12.3 526H121.4M12.3 528.6H121.4M12.3 531.2H121.4M12.3 533.8H121.4M12.3 536.4H121.4M12.3 539H121.4M12.3 541.6H121.4M12.3 544.2H121.4M12.3 546.8H121.4M12.3 549.4H121.4M12.3 552H121.4M12.3 554.6H121.4M12.3 557.2H121.4M12.3 559.8H121.4M12.3 562.4H121.4M12.3 565H121.4M12.3 567.6H121.4M12.3 570.2H121.4M12.3 572.8H121.4M12.3 575.4H121.4" stroke="#f4f4f4" stroke-width="0.6"/><path d="M15.94 492.5V577.5M19.57 492.5V577.5M23.21 492.5V577.5M26.85 492.5V577.5M30.48 492.5V577.5M34.12 492.5V577.5M37.76 492.5V577.5M41.39 492.5V577.5M45.03 492.5V577.5M48.67 492.5V577.5M52.3 492.5V577.5M55.94 492.5V577.5M59.58 492.5V577.5M63.21 492.5V577.5M66.85 492.5V577.5M70.49 492.5V577.5M74.12 492.5V577.5M77.76 492.5V577.5M81.4 492.5V577.5M85.03 492.5V577.5M88.67 492.5V577.5M92.31 492.5V577.5M95.94 492.5V577.5M99.58 492.5V577.5M103.22 492.5V577.5M106.85 492.5V577.5M110.49 492.5V577.5M114.13 492.5V577.5M117.76 492.5V577.5" stroke="#f3f3f3" stroke-width="0.6"/><path d="M30.48 492.5V577.5M48.67 492.5V577.5M66.85 492.5V577.5M85.03 492.5V577.5M103.22 492.5V577.5" stroke="#dedede" stroke-width="0.6" stroke-dasharray="1 0.6"/><rect x="12.3" y="492.5" width="109.1" height="85" fill="none" stroke="#858585" stroke-width="0.85"/><path d="M30.48 577.5v-1.2M30.48 492.5v1.2M48.67 577.5v-1.2M48.67 492.5v1.2M66.85 577.5v-1.2M66.85 492.5v1.2M85.03 577.5v-1.2M85.03 492.5v1.2M103.22 577.5v-1.2M103.22 492.5v1.2M121.4 577.5v-1.2M121.4 492.5v1.2M12.3 534.1h1.2M121.4 534.1h-1.2M12.3 576.8h1.2M121.4 576.8h-1.2" stroke="#555" stroke-width="0.6"/><g clip-path="url(#c17)"><polyline points="12.3,492.5 24.42,506.5 36.54,520.6 48.67,531.6 60.79,533.4 72.91,569.5 85.03,568.4 97.16,567.2 109.28,577.5 121.4,575.6" fill="none" stroke="#a61c3c" stroke-width="1.2" stroke-linejoin="round"/><path d="M12.3 490.2L14.2 492.5L12.3 494.8L10.4 492.5Z" fill="#a61c3c"/><path d="M24.42 504.2L26.32 506.5L24.42 508.8L22.52 506.5Z" fill="#a61c3c"/><path d="M36.54 518.3L38.44 520.6L36.54 522.9L34.64 520.6Z" fill="#a61c3c"/><path d="M48.67 529.3L50.57 531.6L48.67 533.9L46.77 531.6Z" fill="#a61c3c"/><path d="M60.79 531.1L62.69 533.4L60.79 535.7L58.89 533.4Z" fill="#a61c3c"/><path d="M72.91 567.2L74.81 569.5L72.91 571.8L71.01 569.5Z" fill="#a61c3c"/><path d="M85.03 566.1L86.93 568.4L85.03 570.7L83.13 568.4Z" fill="#a61c3c"/><path d="M97.16 564.9L99.06 567.2L97.16 569.5L95.26 567.2Z" fill="#a61c3c"/><path d="M109.28 575.2L111.18 577.5L109.28 579.8L107.38 577.5Z" fill="#a61c3c"/><path d="M121.4 573.3L123.3 575.6L121.4 577.9L119.5 575.6Z" fill="#a61c3c"/></g><g clip-path="url(#c17)"><polyline points="12.3,492.5 24.42,524.5 36.54,559 48.67,561.1 60.79,561.1 72.91,560.9 85.03,546.8 97.16,546.8 109.28,543.8 121.4,543.4" fill="none" stroke="#2f9ef0" stroke-width="1.2" stroke-linejoin="round"/><path d="M12.3 490.7V494.3" stroke="#2f9ef0" stroke-width="0.9"/><path d="M24.42 522.7V526.3" stroke="#2f9ef0" stroke-width="0.9"/><path d="M36.54 557.2V560.8" stroke="#2f9ef0" stroke-width="0.9"/><path d="M48.67 559.3V562.9" stroke="#2f9ef0" stroke-width="0.9"/><path d="M60.79 559.3V562.9" stroke="#2f9ef0" stroke-width="0.9"/><path d="M72.91 559.1V562.7" stroke="#2f9ef0" stroke-width="0.9"/><path d="M85.03 545V548.6" stroke="#2f9ef0" stroke-width="0.9"/><path d="M97.16 545V548.6" stroke="#2f9ef0" stroke-width="0.9"/><path d="M109.28 542V545.6" stroke="#2f9ef0" stroke-width="0.9"/><path d="M121.4 541.6V545.2" stroke="#2f9ef0" stroke-width="0.9"/></g><g clip-path="url(#c17)"><polyline points="12.3,492.5 24.42,522.4 36.54,535.8 48.67,555 60.79,561.1 72.91,554.7 85.03,549 97.16,558.6 109.28,560.4 121.4,560.4" fill="none" stroke="#3cb01e" stroke-width="1.2" stroke-linejoin="round"/><circle cx="12.3" cy="492.5" r="1.8" fill="#3cb01e"/><circle cx="24.42" cy="522.4" r="1.8" fill="#3cb01e"/><circle cx="36.54" cy="535.8" r="1.8" fill="#3cb01e"/><circle cx="48.67" cy="555" r="1.8" fill="#3cb01e"/><circle cx="60.79" cy="561.1" r="1.8" fill="#3cb01e"/><circle cx="72.91" cy="554.7" r="1.8" fill="#3cb01e"/><circle cx="85.03" cy="549" r="1.8" fill="#3cb01e"/><circle cx="97.16" cy="558.6" r="1.8" fill="#3cb01e"/><circle cx="109.28" cy="560.4" r="1.8" fill="#3cb01e"/><circle cx="121.4" cy="560.4" r="1.8" fill="#3cb01e"/></g><g clip-path="url(#c17)"><polyline points="12.3,492.5 24.42,497.5 36.54,503.1 48.67,504.7 60.79,506.3 72.91,513.8 85.03,515.4 97.16,530.2 109.28,530.2 121.4,530.2" fill="none" stroke="#7f2d9f" stroke-width="1.2" stroke-linejoin="round"/><path d="M11 491.2L13.6 493.8M11 493.8L13.6 491.2" stroke="#7f2d9f" stroke-width="1.3"/><path d="M23.12 496.2L25.72 498.8M23.12 498.8L25.72 496.2" stroke="#7f2d9f" stroke-width="1.3"/><path d="M35.24 501.8L37.84 504.4M35.24 504.4L37.84 501.8" stroke="#7f2d9f" stroke-width="1.3"/><path d="M47.37 503.4L49.97 506M47.37 506L49.97 503.4" stroke="#7f2d9f" stroke-width="1.3"/><path d="M59.49 505L62.09 507.6M59.49 507.6L62.09 505" stroke="#7f2d9f" stroke-width="1.3"/><path d="M71.61 512.5L74.21 515.1M71.61 515.1L74.21 512.5" stroke="#7f2d9f" stroke-width="1.3"/><path d="M83.73 514.1L86.33 516.7M83.73 516.7L86.33 514.1" stroke="#7f2d9f" stroke-width="1.3"/><path d="M95.86 528.9L98.46 531.5M95.86 531.5L98.46 528.9" stroke="#7f2d9f" stroke-width="1.3"/><path d="M107.98 528.9L110.58 531.5M107.98 531.5L110.58 528.9" stroke="#7f2d9f" stroke-width="1.3"/><path d="M120.1 528.9L122.7 531.5M120.1 531.5L122.7 528.9" stroke="#7f2d9f" stroke-width="1.3"/></g><g clip-path="url(#c17)"><polyline points="12.3,492.5 24.42,511.5 36.54,526.7 48.67,534.4 60.79,534.2 72.91,534.3 85.03,552 97.16,561.5 109.28,565.3 121.4,556.5" fill="none" stroke="#f1a71c" stroke-width="1.2" stroke-linejoin="round"/><rect x="10.8" y="491" width="3" height="3" fill="#f1a71c"/><rect x="22.92" y="510" width="3" height="3" fill="#f1a71c"/><rect x="35.04" y="525.2" width="3" height="3" fill="#f1a71c"/><rect x="47.17" y="532.9" width="3" height="3" fill="#f1a71c"/><rect x="59.29" y="532.7" width="3" height="3" fill="#f1a71c"/><rect x="71.41" y="532.8" width="3" height="3" fill="#f1a71c"/><rect x="83.53" y="550.5" width="3" height="3" fill="#f1a71c"/><rect x="95.66" y="560" width="3" height="3" fill="#f1a71c"/><rect x="107.78" y="563.8" width="3" height="3" fill="#f1a71c"/><rect x="119.9" y="555" width="3" height="3" fill="#f1a71c"/></g><text x="66.85" y="491.4" class="ti" text-anchor="middle">DTLZ6</text><text x="11" y="535.5" class="t" text-anchor="end">10<tspan class="sup" dy="-1.6">0</tspan></text><text x="11" y="578.2" class="t" text-anchor="end">10<tspan class="sup" dy="-1.6">-1</tspan></text><text x="30.48" y="583.4" class="t" text-anchor="middle">0.5</text><text x="48.67" y="583.4" class="t" text-anchor="middle">1</text><text x="66.85" y="583.4" class="t" text-anchor="middle">1.5</text><text x="85.03" y="583.4" class="t" text-anchor="middle">2</text><text x="103.22" y="583.4" class="t" text-anchor="middle">2.5</text><text x="121.4" y="583.4" class="t" text-anchor="middle">3</text><text x="121.1" y="590.3" class="t" text-anchor="end">×10<tspan class="sup" dy="-1.8">4</tspan></text><path d="M153.1 494.8H262.2M153.1 497.4H262.2M153.1 500H262.2M153.1 502.6H262.2M153.1 505.2H262.2M153.1 507.8H262.2M153.1 510.4H262.2M153.1 513H262.2M153.1 515.6H262.2M153.1 518.2H262.2M153.1 520.8H262.2M153.1 523.4H262.2M153.1 526H262.2M153.1 528.6H262.2M153.1 531.2H262.2M153.1 533.8H262.2M153.1 536.4H262.2M153.1 539H262.2M153.1 541.6H262.2M153.1 544.2H262.2M153.1 546.8H262.2M153.1 549.4H262.2M153.1 552H262.2M153.1 554.6H262.2M153.1 557.2H262.2M153.1 559.8H262.2M153.1 562.4H262.2M153.1 565H262.2M153.1 567.6H262.2M153.1 570.2H262.2M153.1 572.8H262.2M153.1 575.4H262.2" stroke="#f4f4f4" stroke-width="0.6"/><path d="M156.74 492.5V577.5M160.37 492.5V577.5M164.01 492.5V577.5M167.65 492.5V577.5M171.28 492.5V577.5M174.92 492.5V577.5M178.56 492.5V577.5M182.19 492.5V577.5M185.83 492.5V577.5M189.47 492.5V577.5M193.1 492.5V577.5M196.74 492.5V577.5M200.38 492.5V577.5M204.01 492.5V577.5M207.65 492.5V577.5M211.29 492.5V577.5M214.92 492.5V577.5M218.56 492.5V577.5M222.2 492.5V577.5M225.83 492.5V577.5M229.47 492.5V577.5M233.11 492.5V577.5M236.74 492.5V577.5M240.38 492.5V577.5M244.02 492.5V577.5M247.65 492.5V577.5M251.29 492.5V577.5M254.93 492.5V577.5M258.56 492.5V577.5" stroke="#f3f3f3" stroke-width="0.6"/><path d="M171.28 492.5V577.5M189.47 492.5V577.5M207.65 492.5V577.5M225.83 492.5V577.5M244.02 492.5V577.5" stroke="#dedede" stroke-width="0.6" stroke-dasharray="1 0.6"/><rect x="153.1" y="492.5" width="109.1" height="85" fill="none" stroke="#858585" stroke-width="0.85"/><path d="M171.28 577.5v-1.2M171.28 492.5v1.2M189.47 577.5v-1.2M189.47 492.5v1.2M207.65 577.5v-1.2M207.65 492.5v1.2M225.83 577.5v-1.2M225.83 492.5v1.2M244.02 577.5v-1.2M244.02 492.5v1.2M262.2 577.5v-1.2M262.2 492.5v1.2M153.1 538.3h1.2M262.2 538.3h-1.2" stroke="#555" stroke-width="0.6"/><g clip-path="url(#c18)"><polyline points="153.1,497.9 165.22,577.2 177.34,566.3 189.47,563.2 201.59,555.8 213.71,557.2 225.83,558.7 237.96,557.2 250.08,557.2 262.2,557.2" fill="none" stroke="#a61c3c" stroke-width="1.2" stroke-linejoin="round"/><path d="M153.1 495.6L155 497.9L153.1 500.2L151.2 497.9Z" fill="#a61c3c"/><path d="M165.22 574.9L167.12 577.2L165.22 579.5L163.32 577.2Z" fill="#a61c3c"/><path d="M177.34 564L179.24 566.3L177.34 568.6L175.44 566.3Z" fill="#a61c3c"/><path d="M189.47 560.9L191.37 563.2L189.47 565.5L187.57 563.2Z" fill="#a61c3c"/><path d="M201.59 553.5L203.49 555.8L201.59 558.1L199.69 555.8Z" fill="#a61c3c"/><path d="M213.71 554.9L215.61 557.2L213.71 559.5L211.81 557.2Z" fill="#a61c3c"/><path d="M225.83 556.4L227.73 558.7L225.83 561L223.93 558.7Z" fill="#a61c3c"/><path d="M237.96 554.9L239.86 557.2L237.96 559.5L236.06 557.2Z" fill="#a61c3c"/><path d="M250.08 554.9L251.98 557.2L250.08 559.5L248.18 557.2Z" fill="#a61c3c"/><path d="M262.2 554.9L264.1 557.2L262.2 559.5L260.3 557.2Z" fill="#a61c3c"/></g><g clip-path="url(#c18)"><polyline points="153.1,494.5 165.22,549 177.34,555.5 189.47,556.5 201.59,566.4 213.71,566.5 225.83,566.5 237.96,566.3 250.08,566.3 262.2,566" fill="none" stroke="#2f9ef0" stroke-width="1.2" stroke-linejoin="round"/><path d="M153.1 492.7V496.3" stroke="#2f9ef0" stroke-width="0.9"/><path d="M165.22 547.2V550.8" stroke="#2f9ef0" stroke-width="0.9"/><path d="M177.34 553.7V557.3" stroke="#2f9ef0" stroke-width="0.9"/><path d="M189.47 554.7V558.3" stroke="#2f9ef0" stroke-width="0.9"/><path d="M201.59 564.6V568.2" stroke="#2f9ef0" stroke-width="0.9"/><path d="M213.71 564.7V568.3" stroke="#2f9ef0" stroke-width="0.9"/><path d="M225.83 564.7V568.3" stroke="#2f9ef0" stroke-width="0.9"/><path d="M237.96 564.5V568.1" stroke="#2f9ef0" stroke-width="0.9"/><path d="M250.08 564.5V568.1" stroke="#2f9ef0" stroke-width="0.9"/><path d="M262.2 564.2V567.8" stroke="#2f9ef0" stroke-width="0.9"/></g><g clip-path="url(#c18)"><polyline points="153.1,494.5 165.22,560.2 177.34,565.6 189.47,566 201.59,566 213.71,565.6 225.83,565.6 237.96,565.6 250.08,565.6 262.2,565.6" fill="none" stroke="#3cb01e" stroke-width="1.2" stroke-linejoin="round"/><circle cx="153.1" cy="494.5" r="1.8" fill="#3cb01e"/><circle cx="165.22" cy="560.2" r="1.8" fill="#3cb01e"/><circle cx="177.34" cy="565.6" r="1.8" fill="#3cb01e"/><circle cx="189.47" cy="566" r="1.8" fill="#3cb01e"/><circle cx="201.59" cy="566" r="1.8" fill="#3cb01e"/><circle cx="213.71" cy="565.6" r="1.8" fill="#3cb01e"/><circle cx="225.83" cy="565.6" r="1.8" fill="#3cb01e"/><circle cx="237.96" cy="565.6" r="1.8" fill="#3cb01e"/><circle cx="250.08" cy="565.6" r="1.8" fill="#3cb01e"/><circle cx="262.2" cy="565.6" r="1.8" fill="#3cb01e"/></g><g clip-path="url(#c18)"><polyline points="153.1,492.7 165.22,510.4 177.34,524.3 189.47,542.4 201.59,545.3 213.71,546.4 225.83,547.2 237.96,548.9 250.08,550.8 262.2,552.5" fill="none" stroke="#7f2d9f" stroke-width="1.2" stroke-linejoin="round"/><path d="M151.8 491.4L154.4 494M151.8 494L154.4 491.4" stroke="#7f2d9f" stroke-width="1.3"/><path d="M163.92 509.1L166.52 511.7M163.92 511.7L166.52 509.1" stroke="#7f2d9f" stroke-width="1.3"/><path d="M176.04 523L178.64 525.6M176.04 525.6L178.64 523" stroke="#7f2d9f" stroke-width="1.3"/><path d="M188.17 541.1L190.77 543.7M188.17 543.7L190.77 541.1" stroke="#7f2d9f" stroke-width="1.3"/><path d="M200.29 544L202.89 546.6M200.29 546.6L202.89 544" stroke="#7f2d9f" stroke-width="1.3"/><path d="M212.41 545.1L215.01 547.7M212.41 547.7L215.01 545.1" stroke="#7f2d9f" stroke-width="1.3"/><path d="M224.53 545.9L227.13 548.5M224.53 548.5L227.13 545.9" stroke="#7f2d9f" stroke-width="1.3"/><path d="M236.66 547.6L239.26 550.2M236.66 550.2L239.26 547.6" stroke="#7f2d9f" stroke-width="1.3"/><path d="M248.78 549.5L251.38 552.1M248.78 552.1L251.38 549.5" stroke="#7f2d9f" stroke-width="1.3"/><path d="M260.9 551.2L263.5 553.8M260.9 553.8L263.5 551.2" stroke="#7f2d9f" stroke-width="1.3"/></g><g clip-path="url(#c18)"><polyline points="153.1,495.6 165.22,538.3 177.34,563.2 189.47,562.8 201.59,566.3 213.71,570.2 225.83,570.2 237.96,569 250.08,569 262.2,571.1" fill="none" stroke="#f1a71c" stroke-width="1.2" stroke-linejoin="round"/><rect x="151.6" y="494.1" width="3" height="3" fill="#f1a71c"/><rect x="163.72" y="536.8" width="3" height="3" fill="#f1a71c"/><rect x="175.84" y="561.7" width="3" height="3" fill="#f1a71c"/><rect x="187.97" y="561.3" width="3" height="3" fill="#f1a71c"/><rect x="200.09" y="564.8" width="3" height="3" fill="#f1a71c"/><rect x="212.21" y="568.7" width="3" height="3" fill="#f1a71c"/><rect x="224.33" y="568.7" width="3" height="3" fill="#f1a71c"/><rect x="236.46" y="567.5" width="3" height="3" fill="#f1a71c"/><rect x="248.58" y="567.5" width="3" height="3" fill="#f1a71c"/><rect x="260.7" y="569.6" width="3" height="3" fill="#f1a71c"/></g><text x="207.65" y="491.4" class="ti" text-anchor="middle">DTLZ7</text><text x="151.8" y="539.7" class="t" text-anchor="end">10<tspan class="sup" dy="-1.6">0</tspan></text><text x="171.28" y="583.4" class="t" text-anchor="middle">0.5</text><text x="189.47" y="583.4" class="t" text-anchor="middle">1</text><text x="207.65" y="583.4" class="t" text-anchor="middle">1.5</text><text x="225.83" y="583.4" class="t" text-anchor="middle">2</text><text x="244.02" y="583.4" class="t" text-anchor="middle">2.5</text><text x="262.2" y="583.4" class="t" text-anchor="middle">3</text><text x="261.9" y="590.3" class="t" text-anchor="end">×10<tspan class="sup" dy="-1.8">4</tspan></text><rect x="463.1" y="281.6" width="67" height="22.5" fill="#fff"/><path d="M463.1 283.9H530.1M463.1 286.5H530.1M463.1 289.1H530.1M463.1 291.7H530.1M463.1 294.3H530.1M463.1 296.9H530.1M463.1 299.5H530.1M463.1 302.1H530.1" stroke="#f4f4f4" stroke-width="0.6"/><path d="M466.45 281.6V304.1M469.8 281.6V304.1M473.15 281.6V304.1M476.5 281.6V304.1M479.85 281.6V304.1M483.2 281.6V304.1M486.55 281.6V304.1M489.9 281.6V304.1M493.25 281.6V304.1M496.6 281.6V304.1M499.95 281.6V304.1M503.3 281.6V304.1M506.65 281.6V304.1M510 281.6V304.1M513.35 281.6V304.1M516.7 281.6V304.1M520.05 281.6V304.1M523.4 281.6V304.1M526.75 281.6V304.1" stroke="#f3f3f3" stroke-width="0.6"/><path d="M476.5 281.6V304.1M489.9 281.6V304.1M503.3 281.6V304.1M516.7 281.6V304.1" stroke="#dedede" stroke-width="0.6" /><rect x="463.1" y="281.6" width="67" height="22.5" fill="none" stroke="#7a7a7a" stroke-width="0.8"/><g clip-path="url(#ci1)"><polyline points="463.5,295.1 472.7,297.1 481.9,297.4 491.1,297.4 500.3,297.4 509.5,297.4 518.7,297.1 527.9,295.1" fill="none" stroke="#a61c3c" stroke-width="1.2" stroke-linejoin="round"/><path d="M463.5 292.8L465.4 295.1L463.5 297.4L461.6 295.1Z" fill="#a61c3c"/><path d="M472.7 294.8L474.6 297.1L472.7 299.4L470.8 297.1Z" fill="#a61c3c"/><path d="M481.9 295.1L483.8 297.4L481.9 299.7L480 297.4Z" fill="#a61c3c"/><path d="M491.1 295.1L493 297.4L491.1 299.7L489.2 297.4Z" fill="#a61c3c"/><path d="M500.3 295.1L502.2 297.4L500.3 299.7L498.4 297.4Z" fill="#a61c3c"/><path d="M509.5 295.1L511.4 297.4L509.5 299.7L507.6 297.4Z" fill="#a61c3c"/><path d="M518.7 294.8L520.6 297.1L518.7 299.4L516.8 297.1Z" fill="#a61c3c"/><path d="M527.9 292.8L529.8 295.1L527.9 297.4L526 295.1Z" fill="#a61c3c"/></g><g clip-path="url(#ci1)"><polyline points="463.5,284.6 472.7,297.4 481.9,296.3 491.1,294.8 500.3,293.9 509.5,295.9 518.7,294.3 527.9,293.5" fill="none" stroke="#3cb01e" stroke-width="1.2" stroke-linejoin="round"/><circle cx="463.5" cy="284.6" r="1.8" fill="#3cb01e"/><circle cx="472.7" cy="297.4" r="1.8" fill="#3cb01e"/><circle cx="481.9" cy="296.3" r="1.8" fill="#3cb01e"/><circle cx="491.1" cy="294.8" r="1.8" fill="#3cb01e"/><circle cx="500.3" cy="293.9" r="1.8" fill="#3cb01e"/><circle cx="509.5" cy="295.9" r="1.8" fill="#3cb01e"/><circle cx="518.7" cy="294.3" r="1.8" fill="#3cb01e"/><circle cx="527.9" cy="293.5" r="1.8" fill="#3cb01e"/></g><g clip-path="url(#ci1)"><polyline points="463.5,292.8 472.7,297.4 481.9,297.9 491.1,294.3 500.3,297.4 509.5,294.3 518.7,294.3 527.9,296.6" fill="none" stroke="#7f2d9f" stroke-width="1.2" stroke-linejoin="round"/><path d="M462.2 291.5L464.8 294.1M462.2 294.1L464.8 291.5" stroke="#7f2d9f" stroke-width="1.3"/><path d="M471.4 296.1L474 298.7M471.4 298.7L474 296.1" stroke="#7f2d9f" stroke-width="1.3"/><path d="M480.6 296.6L483.2 299.2M480.6 299.2L483.2 296.6" stroke="#7f2d9f" stroke-width="1.3"/><path d="M489.8 293L492.4 295.6M489.8 295.6L492.4 293" stroke="#7f2d9f" stroke-width="1.3"/><path d="M499 296.1L501.6 298.7M499 298.7L501.6 296.1" stroke="#7f2d9f" stroke-width="1.3"/><path d="M508.2 293L510.8 295.6M508.2 295.6L510.8 293" stroke="#7f2d9f" stroke-width="1.3"/><path d="M517.4 293L520 295.6M517.4 295.6L520 293" stroke="#7f2d9f" stroke-width="1.3"/><path d="M526.6 295.3L529.2 297.9M526.6 297.9L529.2 295.3" stroke="#7f2d9f" stroke-width="1.3"/></g><g clip-path="url(#ci1)"><polyline points="463.5,289.7 472.7,290.5 481.9,290.9 491.1,292 500.3,290.5 509.5,291.5 518.7,290.9 527.9,291.2" fill="none" stroke="#f1a71c" stroke-width="1.2" stroke-linejoin="round"/><rect x="462" y="288.2" width="3" height="3" fill="#f1a71c"/><rect x="471.2" y="289" width="3" height="3" fill="#f1a71c"/><rect x="480.4" y="289.4" width="3" height="3" fill="#f1a71c"/><rect x="489.6" y="290.5" width="3" height="3" fill="#f1a71c"/><rect x="498.8" y="289" width="3" height="3" fill="#f1a71c"/><rect x="508" y="290" width="3" height="3" fill="#f1a71c"/><rect x="517.2" y="289.4" width="3" height="3" fill="#f1a71c"/><rect x="526.4" y="289.7" width="3" height="3" fill="#f1a71c"/></g><text x="461.9" y="286.7" class="t" text-anchor="end">0.25</text><text x="461.9" y="292.9" class="t" text-anchor="end">0.2</text><text x="461.9" y="299.9" class="t" text-anchor="end">0.15</text><text x="478.3" y="309.7" class="t" text-anchor="middle">4</text><text x="494.8" y="309.7" class="t" text-anchor="middle">6</text><text x="511" y="309.7" class="t" text-anchor="middle">8</text><text x="528" y="309.7" class="t" text-anchor="middle">10</text><text x="529.6" y="316.5" class="t" text-anchor="end">×10<tspan class="sup" dy="-1.8">4</tspan></text><rect x="194" y="495.1" width="65.5" height="40" fill="#fff"/><path d="M194 497.4H259.5M194 500H259.5M194 502.6H259.5M194 505.2H259.5M194 507.8H259.5M194 510.4H259.5M194 513H259.5M194 515.6H259.5M194 518.2H259.5M194 520.8H259.5M194 523.4H259.5M194 526H259.5M194 528.6H259.5M194 531.2H259.5M194 533.8H259.5" stroke="#f4f4f4" stroke-width="0.6"/><path d="M196.18 495.1V535.1M198.37 495.1V535.1M200.55 495.1V535.1M202.73 495.1V535.1M204.92 495.1V535.1M207.1 495.1V535.1M209.28 495.1V535.1M211.47 495.1V535.1M213.65 495.1V535.1M215.83 495.1V535.1M218.02 495.1V535.1M220.2 495.1V535.1M222.38 495.1V535.1M224.57 495.1V535.1M226.75 495.1V535.1M228.93 495.1V535.1M231.12 495.1V535.1M233.3 495.1V535.1M235.48 495.1V535.1M237.67 495.1V535.1M239.85 495.1V535.1M242.03 495.1V535.1M244.22 495.1V535.1M246.4 495.1V535.1M248.58 495.1V535.1M250.77 495.1V535.1M252.95 495.1V535.1M255.13 495.1V535.1M257.32 495.1V535.1" stroke="#f3f3f3" stroke-width="0.6"/><path d="M204.92 495.1V535.1M215.83 495.1V535.1M226.75 495.1V535.1M237.67 495.1V535.1M248.58 495.1V535.1" stroke="#dedede" stroke-width="0.6" /><rect x="194" y="495.1" width="65.5" height="40" fill="none" stroke="#7a7a7a" stroke-width="0.8"/><g clip-path="url(#ci7)"><polyline points="195.5,509.4 209.6,509.5 222.1,509.6 234.6,509.8 247.1,510 259.5,510.1" fill="none" stroke="#2f9ef0" stroke-width="1.2" stroke-linejoin="round"/><path d="M195.5 507.6V511.2" stroke="#2f9ef0" stroke-width="0.9"/><path d="M209.6 507.7V511.3" stroke="#2f9ef0" stroke-width="0.9"/><path d="M222.1 507.8V511.4" stroke="#2f9ef0" stroke-width="0.9"/><path d="M234.6 508V511.6" stroke="#2f9ef0" stroke-width="0.9"/><path d="M247.1 508.2V511.8" stroke="#2f9ef0" stroke-width="0.9"/><path d="M259.5 508.3V511.9" stroke="#2f9ef0" stroke-width="0.9"/></g><g clip-path="url(#ci7)"><polyline points="195.5,507.2 209.6,505.3 222.1,508.2 234.6,507.5 247.1,507.5 259.5,504.8" fill="none" stroke="#3cb01e" stroke-width="1.2" stroke-linejoin="round"/><circle cx="195.5" cy="507.2" r="1.8" fill="#3cb01e"/><circle cx="209.6" cy="505.3" r="1.8" fill="#3cb01e"/><circle cx="222.1" cy="508.2" r="1.8" fill="#3cb01e"/><circle cx="234.6" cy="507.5" r="1.8" fill="#3cb01e"/><circle cx="247.1" cy="507.5" r="1.8" fill="#3cb01e"/><circle cx="259.5" cy="504.8" r="1.8" fill="#3cb01e"/></g><g clip-path="url(#ci7)"><polyline points="195.5,507.2 209.6,525.2 222.1,526.7 234.6,522.3 247.1,522.7 259.5,529.6" fill="none" stroke="#f1a71c" stroke-width="1.2" stroke-linejoin="round"/><rect x="194" y="505.7" width="3" height="3" fill="#f1a71c"/><rect x="208.1" y="523.7" width="3" height="3" fill="#f1a71c"/><rect x="220.6" y="525.2" width="3" height="3" fill="#f1a71c"/><rect x="233.1" y="520.8" width="3" height="3" fill="#f1a71c"/><rect x="245.6" y="521.2" width="3" height="3" fill="#f1a71c"/><rect x="258" y="528.1" width="3" height="3" fill="#f1a71c"/></g><text x="192.8" y="498.7" class="t" text-anchor="end">3.6</text><text x="192.8" y="504.8" class="t" text-anchor="end">3.4</text><text x="192.8" y="511.3" class="t" text-anchor="end">3.2</text><text x="192.8" y="518.2" class="t" text-anchor="end">3</text><text x="192.8" y="525.9" class="t" text-anchor="end">2.8</text><text x="192.8" y="533.9" class="t" text-anchor="end">2.6</text><text x="203.6" y="540.7" class="t" text-anchor="middle">1.5</text><text x="222.1" y="540.7" class="t" text-anchor="middle">2</text><text x="240.3" y="540.7" class="t" text-anchor="middle">2.5</text><text x="258.5" y="540.7" class="t" text-anchor="middle">3</text><text x="259" y="547.1" class="t" text-anchor="end">×10<tspan class="sup" dy="-1.8">4</tspan></text><rect x="296" y="488.4" width="101.8" height="82.8" fill="#fff" stroke="#3a3a3a" stroke-width="0.9"/><path d="M299.3 497.3H332" stroke="#c81e28" stroke-width="1.8"/><path d="M315.6 491.1L319.8 497.3L315.6 503.5L311.40000000000003 497.3Z" fill="#fff" stroke="#c81e28" stroke-width="1.7"/><path d="M311.6 497.3H319.6" stroke="#c81e28" stroke-width="1.6"/><text x="334.9" y="501.6" class="lg">ARMOEA</text><path d="M299.3 513.8H332" stroke="#4a72de" stroke-width="1.8"/><path d="M315.6 509.59999999999997V518.0" stroke="#4a72de" stroke-width="1.7"/><text x="334.9" y="518.1" class="lg">DGEA</text><path d="M299.3 529.8H332" stroke="#17881a" stroke-width="1.8"/><circle cx="315.6" cy="529.8" r="3.4" fill="#17881a"/><path d="M315.6 525.4V534.1999999999999M311.8 527.5999999999999L319.40000000000003 532.0M311.8 532.0L319.40000000000003 527.5999999999999" stroke="#17881a" stroke-width="1.3"/><text x="334.9" y="534.1" class="lg">MOEA/DD</text><path d="M299.3 546.2H332" stroke="#8a14c8" stroke-width="1.8"/><path d="M312.6 542.9000000000001L318.6 549.5M312.6 549.5L318.6 542.9000000000001" stroke="#8a14c8" stroke-width="1.9"/><text x="334.9" y="550.5" class="lg">NSGA-III</text><path d="M299.3 562.1H332" stroke="#f4a232" stroke-width="1.8"/><rect x="312.0" y="558.5" width="7.2" height="7.2" fill="#fff" stroke="#f4a232" stroke-width="1.7"/><path d="M312.6 562.1H318.6" stroke="#f4a232" stroke-width="1.6"/><text x="334.9" y="566.4" class="lg">ToSHV</text><text x="431.6" y="560.6" class="ax">X-axis: Function Evaluations</text><text x="431.6" y="570.6" class="ax">Y-axis: IGD value</text>
</svg></body></html>
